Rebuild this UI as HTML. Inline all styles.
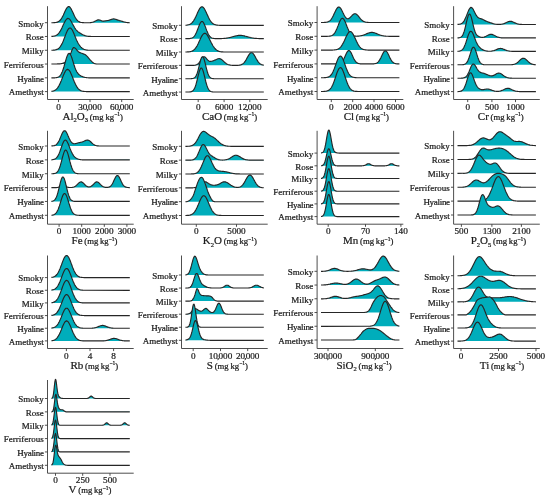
<!DOCTYPE html>
<html><head><meta charset="utf-8"><title>Ridgeline plots</title>
<style>
html,body{margin:0;padding:0;background:#fff;width:550px;height:499px;overflow:hidden}
svg{display:block}

text{font-family:"Liberation Serif","Times New Roman",serif;fill:#1a1a1a;stroke:#1a1a1a;stroke-width:0.22px}
.yl{font-size:9px;text-anchor:end}
.xl{font-size:9.2px;text-anchor:middle}
.tt{text-anchor:middle}
.el{font-size:11px}
.sb{font-size:6.5px}
.un{font-size:8.7px}
.sp{font-size:5.5px}
</style></head><body>
<div id="w"><svg width="550" height="499" viewBox="0 0 550 499">
<rect width="550" height="499" fill="#fff"/>
<g><polygon points="51.42,22.7 51.4,22.7 52.9,22.7 53.4,22.7 53.9,22.6 54.4,22.6 54.9,22.6 55.4,22.5 55.9,22.5 56.4,22.4 56.9,22.3 57.4,22.1 57.9,21.9 58.4,21.6 58.9,21.3 59.4,21.0 59.9,20.5 60.4,20.0 60.9,19.3 61.4,18.6 61.9,17.8 62.4,16.9 62.9,15.9 63.4,14.9 63.9,13.8 64.4,12.7 64.9,11.6 65.4,10.5 65.9,9.5 66.4,8.6 66.9,7.9 67.4,7.3 67.9,6.9 68.4,6.6 68.9,6.6 69.4,6.8 69.9,7.2 70.4,7.8 70.9,8.5 71.4,9.4 71.9,10.4 72.4,11.4 72.9,12.5 73.4,13.6 73.9,14.7 74.4,15.8 74.9,16.8 75.4,17.7 75.9,18.5 76.4,19.2 76.9,19.9 77.4,20.4 77.9,20.9 78.4,21.3 78.9,21.6 79.4,21.9 79.9,22.1 80.4,22.2 80.9,22.4 81.4,22.5 81.9,22.5 82.4,22.6 82.9,22.6 83.4,22.6 83.9,22.7 84.4,22.7 89.4,22.7 89.9,22.7 90.4,22.6 90.9,22.6 91.4,22.5 91.9,22.4 92.4,22.3 92.9,22.2 93.4,22.0 93.9,21.8 94.4,21.6 94.9,21.3 95.4,21.0 95.9,20.8 96.4,20.5 96.9,20.3 97.4,20.1 97.9,19.9 98.4,19.9 98.9,19.9 99.4,20.0 99.9,20.1 100.4,20.3 100.9,20.5 101.4,20.7 101.9,20.9 102.4,21.0 102.9,21.1 103.4,21.1 103.9,21.1 104.4,21.0 104.9,20.9 105.4,20.9 105.9,20.8 106.4,20.7 106.9,20.6 107.4,20.5 107.9,20.5 108.4,20.4 108.9,20.2 109.4,20.1 109.9,19.9 110.4,19.8 110.9,19.6 111.4,19.4 111.9,19.2 112.4,19.1 112.9,19.0 113.4,18.9 113.9,18.9 114.4,19.0 114.9,19.1 115.4,19.2 115.9,19.4 116.4,19.6 116.9,19.8 117.4,19.9 117.9,20.1 118.4,20.3 118.9,20.4 119.4,20.6 119.9,20.7 120.4,20.8 120.9,21.0 121.4,21.1 121.9,21.2 122.4,21.4 122.9,21.6 123.4,21.7 123.9,21.9 124.4,22.0 124.9,22.1 125.4,22.3 125.9,22.4 126.4,22.5 126.9,22.5 127.4,22.6 127.9,22.6 128.4,22.6 128.9,22.7 129.4,22.7 129.8,22.7 129.78,22.7" fill="#00adbb"/><polyline points="51.4,22.7 52.9,22.7 53.4,22.7 53.9,22.6 54.4,22.6 54.9,22.6 55.4,22.5 55.9,22.5 56.4,22.4 56.9,22.3 57.4,22.1 57.9,21.9 58.4,21.6 58.9,21.3 59.4,21.0 59.9,20.5 60.4,20.0 60.9,19.3 61.4,18.6 61.9,17.8 62.4,16.9 62.9,15.9 63.4,14.9 63.9,13.8 64.4,12.7 64.9,11.6 65.4,10.5 65.9,9.5 66.4,8.6 66.9,7.9 67.4,7.3 67.9,6.9 68.4,6.6 68.9,6.6 69.4,6.8 69.9,7.2 70.4,7.8 70.9,8.5 71.4,9.4 71.9,10.4 72.4,11.4 72.9,12.5 73.4,13.6 73.9,14.7 74.4,15.8 74.9,16.8 75.4,17.7 75.9,18.5 76.4,19.2 76.9,19.9 77.4,20.4 77.9,20.9 78.4,21.3 78.9,21.6 79.4,21.9 79.9,22.1 80.4,22.2 80.9,22.4 81.4,22.5 81.9,22.5 82.4,22.6 82.9,22.6 83.4,22.6 83.9,22.7 84.4,22.7 89.4,22.7 89.9,22.7 90.4,22.6 90.9,22.6 91.4,22.5 91.9,22.4 92.4,22.3 92.9,22.2 93.4,22.0 93.9,21.8 94.4,21.6 94.9,21.3 95.4,21.0 95.9,20.8 96.4,20.5 96.9,20.3 97.4,20.1 97.9,19.9 98.4,19.9 98.9,19.9 99.4,20.0 99.9,20.1 100.4,20.3 100.9,20.5 101.4,20.7 101.9,20.9 102.4,21.0 102.9,21.1 103.4,21.1 103.9,21.1 104.4,21.0 104.9,20.9 105.4,20.9 105.9,20.8 106.4,20.7 106.9,20.6 107.4,20.5 107.9,20.5 108.4,20.4 108.9,20.2 109.4,20.1 109.9,19.9 110.4,19.8 110.9,19.6 111.4,19.4 111.9,19.2 112.4,19.1 112.9,19.0 113.4,18.9 113.9,18.9 114.4,19.0 114.9,19.1 115.4,19.2 115.9,19.4 116.4,19.6 116.9,19.8 117.4,19.9 117.9,20.1 118.4,20.3 118.9,20.4 119.4,20.6 119.9,20.7 120.4,20.8 120.9,21.0 121.4,21.1 121.9,21.2 122.4,21.4 122.9,21.6 123.4,21.7 123.9,21.9 124.4,22.0 124.9,22.1 125.4,22.3 125.9,22.4 126.4,22.5 126.9,22.5 127.4,22.6 127.9,22.6 128.4,22.6 128.9,22.7 129.4,22.7 129.8,22.7" fill="none" stroke="#262626" stroke-width="1.15" stroke-linejoin="round"/><polygon points="51.42,36.48 51.4,36.4 51.9,36.4 52.4,36.3 52.9,36.3 53.4,36.2 53.9,36.1 54.4,36.0 54.9,35.9 55.4,35.7 55.9,35.5 56.4,35.2 56.9,34.9 57.4,34.6 57.9,34.1 58.4,33.6 58.9,33.0 59.4,32.4 59.9,31.6 60.4,30.8 60.9,29.9 61.4,28.9 61.9,27.9 62.4,26.8 62.9,25.7 63.4,24.6 63.9,23.6 64.4,22.5 64.9,21.6 65.4,20.7 65.9,20.0 66.4,19.3 66.9,18.9 67.4,18.6 67.9,18.4 68.4,18.5 68.9,18.7 69.4,19.0 69.9,19.6 70.4,20.2 70.9,21.0 71.4,21.8 71.9,22.7 72.4,23.7 72.9,24.6 73.4,25.5 73.9,26.4 74.4,27.3 74.9,28.1 75.4,28.8 75.9,29.5 76.4,30.1 76.9,30.6 77.4,31.1 77.9,31.6 78.4,32.0 78.9,32.3 79.4,32.7 79.9,33.0 80.4,33.3 80.9,33.6 81.4,33.9 81.9,34.2 82.4,34.5 82.9,34.7 83.4,35.0 83.9,35.2 84.4,35.4 84.9,35.6 85.4,35.7 85.9,35.9 86.4,36.0 86.9,36.1 87.4,36.2 87.9,36.3 88.4,36.3 88.9,36.4 89.4,36.4 89.9,36.4 90.4,36.4 90.9,36.5 129.8,36.5 129.78,36.48" fill="#00adbb"/><polyline points="51.4,36.4 51.9,36.4 52.4,36.3 52.9,36.3 53.4,36.2 53.9,36.1 54.4,36.0 54.9,35.9 55.4,35.7 55.9,35.5 56.4,35.2 56.9,34.9 57.4,34.6 57.9,34.1 58.4,33.6 58.9,33.0 59.4,32.4 59.9,31.6 60.4,30.8 60.9,29.9 61.4,28.9 61.9,27.9 62.4,26.8 62.9,25.7 63.4,24.6 63.9,23.6 64.4,22.5 64.9,21.6 65.4,20.7 65.9,20.0 66.4,19.3 66.9,18.9 67.4,18.6 67.9,18.4 68.4,18.5 68.9,18.7 69.4,19.0 69.9,19.6 70.4,20.2 70.9,21.0 71.4,21.8 71.9,22.7 72.4,23.7 72.9,24.6 73.4,25.5 73.9,26.4 74.4,27.3 74.9,28.1 75.4,28.8 75.9,29.5 76.4,30.1 76.9,30.6 77.4,31.1 77.9,31.6 78.4,32.0 78.9,32.3 79.4,32.7 79.9,33.0 80.4,33.3 80.9,33.6 81.4,33.9 81.9,34.2 82.4,34.5 82.9,34.7 83.4,35.0 83.9,35.2 84.4,35.4 84.9,35.6 85.4,35.7 85.9,35.9 86.4,36.0 86.9,36.1 87.4,36.2 87.9,36.3 88.4,36.3 88.9,36.4 89.4,36.4 89.9,36.4 90.4,36.4 90.9,36.5 129.8,36.5" fill="none" stroke="#262626" stroke-width="1.15" stroke-linejoin="round"/><polygon points="51.42,50.26 51.4,50.2 51.9,50.2 52.4,50.2 52.9,50.2 53.4,50.1 53.9,50.1 54.4,50.1 54.9,50.0 55.4,49.9 55.9,49.8 56.4,49.6 56.9,49.4 57.4,49.2 57.9,48.9 58.4,48.6 58.9,48.2 59.4,47.7 59.9,47.1 60.4,46.4 60.9,45.7 61.4,44.8 61.9,43.9 62.4,42.9 62.9,41.8 63.4,40.6 63.9,39.3 64.4,38.0 64.9,36.7 65.4,35.4 65.9,34.1 66.4,32.8 66.9,31.7 67.4,30.6 67.9,29.7 68.4,29.0 68.9,28.5 69.4,28.1 69.9,28.0 70.4,28.0 70.9,28.3 71.4,28.8 71.9,29.5 72.4,30.3 72.9,31.3 73.4,32.4 73.9,33.5 74.4,34.8 74.9,36.0 75.4,37.3 75.9,38.5 76.4,39.7 76.9,40.8 77.4,41.8 77.9,42.8 78.4,43.7 78.9,44.5 79.4,45.2 79.9,45.9 80.4,46.5 80.9,47.1 81.4,47.5 81.9,48.0 82.4,48.4 82.9,48.7 83.4,49.0 83.9,49.3 84.4,49.5 84.9,49.7 85.4,49.8 85.9,49.9 86.4,50.0 86.9,50.1 87.4,50.1 87.9,50.2 88.4,50.2 88.9,50.2 89.4,50.2 129.8,50.3 129.78,50.26" fill="#00adbb"/><polyline points="51.4,50.2 51.9,50.2 52.4,50.2 52.9,50.2 53.4,50.1 53.9,50.1 54.4,50.1 54.9,50.0 55.4,49.9 55.9,49.8 56.4,49.6 56.9,49.4 57.4,49.2 57.9,48.9 58.4,48.6 58.9,48.2 59.4,47.7 59.9,47.1 60.4,46.4 60.9,45.7 61.4,44.8 61.9,43.9 62.4,42.9 62.9,41.8 63.4,40.6 63.9,39.3 64.4,38.0 64.9,36.7 65.4,35.4 65.9,34.1 66.4,32.8 66.9,31.7 67.4,30.6 67.9,29.7 68.4,29.0 68.9,28.5 69.4,28.1 69.9,28.0 70.4,28.0 70.9,28.3 71.4,28.8 71.9,29.5 72.4,30.3 72.9,31.3 73.4,32.4 73.9,33.5 74.4,34.8 74.9,36.0 75.4,37.3 75.9,38.5 76.4,39.7 76.9,40.8 77.4,41.8 77.9,42.8 78.4,43.7 78.9,44.5 79.4,45.2 79.9,45.9 80.4,46.5 80.9,47.1 81.4,47.5 81.9,48.0 82.4,48.4 82.9,48.7 83.4,49.0 83.9,49.3 84.4,49.5 84.9,49.7 85.4,49.8 85.9,49.9 86.4,50.0 86.9,50.1 87.4,50.1 87.9,50.2 88.4,50.2 88.9,50.2 89.4,50.2 129.8,50.3" fill="none" stroke="#262626" stroke-width="1.15" stroke-linejoin="round"/><polygon points="51.42,64.04 51.4,64.0 54.4,64.0 54.9,64.0 55.4,64.0 55.9,64.0 56.4,64.0 56.9,64.0 57.4,63.9 57.9,63.9 58.4,63.9 58.9,63.9 59.4,63.9 59.9,63.8 60.4,63.8 60.9,63.7 61.4,63.6 61.9,63.5 62.4,63.4 62.9,63.3 63.4,63.1 63.9,62.9 64.4,62.7 64.9,62.4 65.4,62.1 65.9,61.7 66.4,61.3 66.9,60.8 67.4,60.2 67.9,59.5 68.4,58.7 68.9,57.8 69.4,56.6 69.9,55.4 70.4,54.2 70.9,53.0 71.4,51.6 71.9,50.3 72.4,49.2 72.9,48.3 73.4,47.6 73.9,47.5 74.4,47.7 74.9,48.0 75.4,48.4 75.9,48.8 76.4,49.5 76.9,50.2 77.4,50.8 77.9,51.2 78.4,51.7 78.9,52.1 79.4,52.4 79.9,52.6 80.4,52.8 80.9,53.0 81.4,53.2 81.9,53.3 82.4,53.5 82.9,53.7 83.4,53.9 83.9,54.1 84.4,54.3 84.9,54.5 85.4,54.8 85.9,55.2 86.4,55.7 86.9,56.2 87.4,56.7 87.9,57.2 88.4,57.8 88.9,58.4 89.4,59.0 89.9,59.6 90.4,60.2 90.9,60.7 91.4,61.2 91.9,61.7 92.4,62.2 92.9,62.6 93.4,62.9 93.9,63.3 94.4,63.5 94.9,63.7 95.4,63.8 95.9,63.9 96.4,64.0 96.9,64.0 129.8,64.0 129.78,64.04" fill="#00adbb"/><polyline points="51.4,64.0 54.4,64.0 54.9,64.0 55.4,64.0 55.9,64.0 56.4,64.0 56.9,64.0 57.4,63.9 57.9,63.9 58.4,63.9 58.9,63.9 59.4,63.9 59.9,63.8 60.4,63.8 60.9,63.7 61.4,63.6 61.9,63.5 62.4,63.4 62.9,63.3 63.4,63.1 63.9,62.9 64.4,62.7 64.9,62.4 65.4,62.1 65.9,61.7 66.4,61.3 66.9,60.8 67.4,60.2 67.9,59.5 68.4,58.7 68.9,57.8 69.4,56.6 69.9,55.4 70.4,54.2 70.9,53.0 71.4,51.6 71.9,50.3 72.4,49.2 72.9,48.3 73.4,47.6 73.9,47.5 74.4,47.7 74.9,48.0 75.4,48.4 75.9,48.8 76.4,49.5 76.9,50.2 77.4,50.8 77.9,51.2 78.4,51.7 78.9,52.1 79.4,52.4 79.9,52.6 80.4,52.8 80.9,53.0 81.4,53.2 81.9,53.3 82.4,53.5 82.9,53.7 83.4,53.9 83.9,54.1 84.4,54.3 84.9,54.5 85.4,54.8 85.9,55.2 86.4,55.7 86.9,56.2 87.4,56.7 87.9,57.2 88.4,57.8 88.9,58.4 89.4,59.0 89.9,59.6 90.4,60.2 90.9,60.7 91.4,61.2 91.9,61.7 92.4,62.2 92.9,62.6 93.4,62.9 93.9,63.3 94.4,63.5 94.9,63.7 95.4,63.8 95.9,63.9 96.4,64.0 96.9,64.0 129.8,64.0" fill="none" stroke="#262626" stroke-width="1.15" stroke-linejoin="round"/><polygon points="51.42,77.82 51.4,77.8 53.9,77.8 54.4,77.8 54.9,77.8 55.4,77.7 55.9,77.7 56.4,77.6 56.9,77.5 57.4,77.4 57.9,77.2 58.4,77.0 58.9,76.7 59.4,76.3 59.9,75.8 60.4,75.2 60.9,74.5 61.4,73.6 61.9,72.6 62.4,71.4 62.9,70.0 63.4,68.5 63.9,66.9 64.4,65.1 64.9,63.4 65.4,61.6 65.9,59.8 66.4,58.2 66.9,56.7 67.4,55.4 67.9,54.4 68.4,53.7 68.9,53.4 69.4,53.4 69.9,53.7 70.4,54.4 70.9,55.4 71.4,56.6 71.9,58.0 72.4,59.6 72.9,61.2 73.4,62.8 73.9,64.5 74.4,66.0 74.9,67.5 75.4,68.8 75.9,70.0 76.4,71.0 76.9,72.0 77.4,72.7 77.9,73.4 78.4,74.0 78.9,74.5 79.4,74.9 79.9,75.3 80.4,75.6 80.9,75.9 81.4,76.2 81.9,76.4 82.4,76.6 82.9,76.8 83.4,77.0 83.9,77.1 84.4,77.2 84.9,77.4 85.4,77.5 85.9,77.5 86.4,77.6 86.9,77.7 87.4,77.7 87.9,77.7 88.4,77.8 88.9,77.8 89.4,77.8 89.9,77.8 129.8,77.8 129.78,77.82" fill="#00adbb"/><polyline points="51.4,77.8 53.9,77.8 54.4,77.8 54.9,77.8 55.4,77.7 55.9,77.7 56.4,77.6 56.9,77.5 57.4,77.4 57.9,77.2 58.4,77.0 58.9,76.7 59.4,76.3 59.9,75.8 60.4,75.2 60.9,74.5 61.4,73.6 61.9,72.6 62.4,71.4 62.9,70.0 63.4,68.5 63.9,66.9 64.4,65.1 64.9,63.4 65.4,61.6 65.9,59.8 66.4,58.2 66.9,56.7 67.4,55.4 67.9,54.4 68.4,53.7 68.9,53.4 69.4,53.4 69.9,53.7 70.4,54.4 70.9,55.4 71.4,56.6 71.9,58.0 72.4,59.6 72.9,61.2 73.4,62.8 73.9,64.5 74.4,66.0 74.9,67.5 75.4,68.8 75.9,70.0 76.4,71.0 76.9,72.0 77.4,72.7 77.9,73.4 78.4,74.0 78.9,74.5 79.4,74.9 79.9,75.3 80.4,75.6 80.9,75.9 81.4,76.2 81.9,76.4 82.4,76.6 82.9,76.8 83.4,77.0 83.9,77.1 84.4,77.2 84.9,77.4 85.4,77.5 85.9,77.5 86.4,77.6 86.9,77.7 87.4,77.7 87.9,77.7 88.4,77.8 88.9,77.8 89.4,77.8 89.9,77.8 129.8,77.8" fill="none" stroke="#262626" stroke-width="1.15" stroke-linejoin="round"/><polygon points="51.42,91.6 51.4,91.4 51.9,91.3 52.4,91.2 52.9,91.1 53.4,91.0 53.9,90.8 54.4,90.6 54.9,90.3 55.4,90.0 55.9,89.6 56.4,89.2 56.9,88.7 57.4,88.1 57.9,87.4 58.4,86.6 58.9,85.8 59.4,84.9 59.9,83.8 60.4,82.7 60.9,81.6 61.4,80.4 61.9,79.1 62.4,77.8 62.9,76.6 63.4,75.3 63.9,74.2 64.4,73.1 64.9,72.1 65.4,71.2 65.9,70.5 66.4,69.9 66.9,69.6 67.4,69.4 67.9,69.4 68.4,69.7 68.9,70.1 69.4,70.7 69.9,71.4 70.4,72.3 70.9,73.4 71.4,74.5 71.9,75.7 72.4,76.9 72.9,78.2 73.4,79.5 73.9,80.7 74.4,81.9 74.9,83.0 75.4,84.1 75.9,85.1 76.4,86.0 76.9,86.9 77.4,87.6 77.9,88.3 78.4,88.8 78.9,89.3 79.4,89.8 79.9,90.1 80.4,90.4 80.9,90.7 81.4,90.9 81.9,91.0 82.4,91.2 82.9,91.3 83.4,91.3 83.9,91.4 84.4,91.5 84.9,91.5 85.4,91.5 85.9,91.5 86.4,91.6 86.9,91.6 129.8,91.6 129.78,91.6" fill="#00adbb"/><polyline points="51.4,91.4 51.9,91.3 52.4,91.2 52.9,91.1 53.4,91.0 53.9,90.8 54.4,90.6 54.9,90.3 55.4,90.0 55.9,89.6 56.4,89.2 56.9,88.7 57.4,88.1 57.9,87.4 58.4,86.6 58.9,85.8 59.4,84.9 59.9,83.8 60.4,82.7 60.9,81.6 61.4,80.4 61.9,79.1 62.4,77.8 62.9,76.6 63.4,75.3 63.9,74.2 64.4,73.1 64.9,72.1 65.4,71.2 65.9,70.5 66.4,69.9 66.9,69.6 67.4,69.4 67.9,69.4 68.4,69.7 68.9,70.1 69.4,70.7 69.9,71.4 70.4,72.3 70.9,73.4 71.4,74.5 71.9,75.7 72.4,76.9 72.9,78.2 73.4,79.5 73.9,80.7 74.4,81.9 74.9,83.0 75.4,84.1 75.9,85.1 76.4,86.0 76.9,86.9 77.4,87.6 77.9,88.3 78.4,88.8 78.9,89.3 79.4,89.8 79.9,90.1 80.4,90.4 80.9,90.7 81.4,90.9 81.9,91.0 82.4,91.2 82.9,91.3 83.4,91.3 83.9,91.4 84.4,91.5 84.9,91.5 85.4,91.5 85.9,91.5 86.4,91.6 86.9,91.6 129.8,91.6" fill="none" stroke="#262626" stroke-width="1.15" stroke-linejoin="round"/><path d="M47.5,6.2V99.5H133.7" fill="none" stroke="#3a3a3a" stroke-width="0.9"/><path d="M44.9,22.7H47.5" stroke="#3a3a3a" stroke-width="0.9"/><text x="43.7" y="26.5" class="yl">Smoky</text><path d="M44.9,36.48H47.5" stroke="#3a3a3a" stroke-width="0.9"/><text x="43.7" y="40.28" class="yl">Rose</text><path d="M44.9,50.26H47.5" stroke="#3a3a3a" stroke-width="0.9"/><text x="43.7" y="54.06" class="yl">Milky</text><path d="M44.9,64.04H47.5" stroke="#3a3a3a" stroke-width="0.9"/><text x="43.7" y="67.84" class="yl">Ferriferous</text><path d="M44.9,77.82H47.5" stroke="#3a3a3a" stroke-width="0.9"/><text x="43.7" y="81.62" class="yl" style="letter-spacing:-0.3px">Hyaline</text><path d="M44.9,91.6H47.5" stroke="#3a3a3a" stroke-width="0.9"/><text x="43.7" y="95.4" class="yl">Amethyst</text><path d="M58.5,99.5V102.1" stroke="#3a3a3a" stroke-width="0.9"/><text x="58.5" y="109.6" class="xl">0</text><path d="M90,99.5V102.1" stroke="#3a3a3a" stroke-width="0.9"/><text x="90" y="109.6" class="xl">30<tspan dx="-0.9">,</tspan><tspan dx="-0.9">000</tspan></text><path d="M121.7,99.5V102.1" stroke="#3a3a3a" stroke-width="0.9"/><text x="121.7" y="109.6" class="xl">60<tspan dx="-0.9">,</tspan><tspan dx="-0.9">000</tspan></text><text x="92.7" y="119.6" class="tt"><tspan class="el">Al</tspan><tspan class="sb" dy="2.6">2</tspan><tspan class="el" dy="-2.6">O</tspan><tspan class="sb" dy="2.6">3</tspan><tspan class="un" dy="-2.6"> (mg kg</tspan><tspan class="sp" dy="-3.6">−1</tspan><tspan class="un" dy="3.6">)</tspan></text></g>
<g><polygon points="185.42,25.3 185.4,25.2 185.9,25.2 186.4,25.2 186.9,25.1 187.4,25.0 187.9,24.9 188.4,24.8 188.9,24.7 189.4,24.5 189.9,24.3 190.4,24.0 190.9,23.7 191.4,23.3 191.9,22.9 192.4,22.3 192.9,21.7 193.4,21.1 193.9,20.3 194.4,19.4 194.9,18.5 195.4,17.5 195.9,16.5 196.4,15.4 196.9,14.3 197.4,13.1 197.9,12.0 198.4,11.0 198.9,10.0 199.4,9.1 199.9,8.3 200.4,7.7 200.9,7.2 201.4,6.9 201.9,6.8 202.4,6.9 202.9,7.1 203.4,7.5 203.9,8.1 204.4,8.8 204.9,9.7 205.4,10.7 205.9,11.7 206.4,12.8 206.9,13.9 207.4,15.0 207.9,16.1 208.4,17.2 208.9,18.2 209.4,19.1 209.9,20.0 210.4,20.8 210.9,21.5 211.4,22.2 211.9,22.7 212.4,23.2 212.9,23.6 213.4,23.9 213.9,24.2 214.4,24.5 214.9,24.6 215.4,24.8 215.9,24.9 216.4,25.0 216.9,25.1 217.4,25.1 217.9,25.2 218.4,25.2 218.9,25.2 219.4,25.3 219.9,25.3 220.4,25.3 263.8,25.3 263.78,25.3" fill="#00adbb"/><polyline points="185.4,25.2 185.9,25.2 186.4,25.2 186.9,25.1 187.4,25.0 187.9,24.9 188.4,24.8 188.9,24.7 189.4,24.5 189.9,24.3 190.4,24.0 190.9,23.7 191.4,23.3 191.9,22.9 192.4,22.3 192.9,21.7 193.4,21.1 193.9,20.3 194.4,19.4 194.9,18.5 195.4,17.5 195.9,16.5 196.4,15.4 196.9,14.3 197.4,13.1 197.9,12.0 198.4,11.0 198.9,10.0 199.4,9.1 199.9,8.3 200.4,7.7 200.9,7.2 201.4,6.9 201.9,6.8 202.4,6.9 202.9,7.1 203.4,7.5 203.9,8.1 204.4,8.8 204.9,9.7 205.4,10.7 205.9,11.7 206.4,12.8 206.9,13.9 207.4,15.0 207.9,16.1 208.4,17.2 208.9,18.2 209.4,19.1 209.9,20.0 210.4,20.8 210.9,21.5 211.4,22.2 211.9,22.7 212.4,23.2 212.9,23.6 213.4,23.9 213.9,24.2 214.4,24.5 214.9,24.6 215.4,24.8 215.9,24.9 216.4,25.0 216.9,25.1 217.4,25.1 217.9,25.2 218.4,25.2 218.9,25.2 219.4,25.3 219.9,25.3 220.4,25.3 263.8,25.3" fill="none" stroke="#262626" stroke-width="1.15" stroke-linejoin="round"/><polygon points="185.42,38.65 185.4,38.6 187.9,38.6 188.4,38.6 188.9,38.6 189.4,38.6 189.9,38.5 190.4,38.4 190.9,38.3 191.4,38.2 191.9,38.0 192.4,37.8 192.9,37.5 193.4,37.1 193.9,36.6 194.4,36.0 194.9,35.3 195.4,34.5 195.9,33.5 196.4,32.5 196.9,31.3 197.4,30.0 197.9,28.7 198.4,27.4 198.9,26.1 199.4,24.8 199.9,23.7 200.4,22.8 200.9,22.1 201.4,21.6 201.9,21.5 202.4,21.5 202.9,21.9 203.4,22.6 203.9,23.4 204.4,24.5 204.9,25.7 205.4,26.9 205.9,28.3 206.4,29.6 206.9,30.9 207.4,32.1 207.9,33.2 208.4,34.2 208.9,35.1 209.4,35.8 209.9,36.5 210.4,37.0 210.9,37.4 211.4,37.7 211.9,38.0 212.4,38.2 212.9,38.3 213.4,38.4 213.9,38.5 214.4,38.5 214.9,38.6 215.4,38.6 215.9,38.6 216.4,38.6 217.9,38.6 218.4,38.6 218.9,38.6 219.4,38.6 219.9,38.6 220.4,38.6 220.9,38.6 221.4,38.6 221.9,38.5 222.4,38.5 222.9,38.5 223.4,38.5 223.9,38.4 224.4,38.4 224.9,38.3 225.4,38.3 225.9,38.2 226.4,38.1 226.9,38.1 227.4,38.0 227.9,37.9 228.4,37.8 228.9,37.7 229.4,37.6 229.9,37.5 230.4,37.4 230.9,37.2 231.4,37.1 231.9,37.0 232.4,36.8 232.9,36.7 233.4,36.5 233.9,36.4 234.4,36.2 234.9,36.1 235.4,36.0 235.9,35.9 236.4,35.8 236.9,35.7 237.4,35.6 237.9,35.5 238.4,35.4 238.9,35.4 239.4,35.4 239.9,35.4 240.4,35.4 240.9,35.4 241.4,35.4 241.9,35.5 242.4,35.5 242.9,35.6 243.4,35.7 243.9,35.8 244.4,35.9 244.9,36.1 245.4,36.2 245.9,36.3 246.4,36.5 246.9,36.6 247.4,36.8 247.9,36.9 248.4,37.0 248.9,37.2 249.4,37.3 249.9,37.4 250.4,37.6 250.9,37.7 251.4,37.8 251.9,37.9 252.4,38.0 252.9,38.0 253.4,38.1 253.9,38.2 254.4,38.3 254.9,38.3 255.4,38.4 255.9,38.4 256.4,38.4 256.9,38.5 257.4,38.5 257.9,38.5 258.4,38.5 258.9,38.6 259.4,38.6 259.9,38.6 260.4,38.6 260.9,38.6 261.4,38.6 261.9,38.6 263.8,38.6 263.78,38.65" fill="#00adbb"/><polyline points="185.4,38.6 187.9,38.6 188.4,38.6 188.9,38.6 189.4,38.6 189.9,38.5 190.4,38.4 190.9,38.3 191.4,38.2 191.9,38.0 192.4,37.8 192.9,37.5 193.4,37.1 193.9,36.6 194.4,36.0 194.9,35.3 195.4,34.5 195.9,33.5 196.4,32.5 196.9,31.3 197.4,30.0 197.9,28.7 198.4,27.4 198.9,26.1 199.4,24.8 199.9,23.7 200.4,22.8 200.9,22.1 201.4,21.6 201.9,21.5 202.4,21.5 202.9,21.9 203.4,22.6 203.9,23.4 204.4,24.5 204.9,25.7 205.4,26.9 205.9,28.3 206.4,29.6 206.9,30.9 207.4,32.1 207.9,33.2 208.4,34.2 208.9,35.1 209.4,35.8 209.9,36.5 210.4,37.0 210.9,37.4 211.4,37.7 211.9,38.0 212.4,38.2 212.9,38.3 213.4,38.4 213.9,38.5 214.4,38.5 214.9,38.6 215.4,38.6 215.9,38.6 216.4,38.6 217.9,38.6 218.4,38.6 218.9,38.6 219.4,38.6 219.9,38.6 220.4,38.6 220.9,38.6 221.4,38.6 221.9,38.5 222.4,38.5 222.9,38.5 223.4,38.5 223.9,38.4 224.4,38.4 224.9,38.3 225.4,38.3 225.9,38.2 226.4,38.1 226.9,38.1 227.4,38.0 227.9,37.9 228.4,37.8 228.9,37.7 229.4,37.6 229.9,37.5 230.4,37.4 230.9,37.2 231.4,37.1 231.9,37.0 232.4,36.8 232.9,36.7 233.4,36.5 233.9,36.4 234.4,36.2 234.9,36.1 235.4,36.0 235.9,35.9 236.4,35.8 236.9,35.7 237.4,35.6 237.9,35.5 238.4,35.4 238.9,35.4 239.4,35.4 239.9,35.4 240.4,35.4 240.9,35.4 241.4,35.4 241.9,35.5 242.4,35.5 242.9,35.6 243.4,35.7 243.9,35.8 244.4,35.9 244.9,36.1 245.4,36.2 245.9,36.3 246.4,36.5 246.9,36.6 247.4,36.8 247.9,36.9 248.4,37.0 248.9,37.2 249.4,37.3 249.9,37.4 250.4,37.6 250.9,37.7 251.4,37.8 251.9,37.9 252.4,38.0 252.9,38.0 253.4,38.1 253.9,38.2 254.4,38.3 254.9,38.3 255.4,38.4 255.9,38.4 256.4,38.4 256.9,38.5 257.4,38.5 257.9,38.5 258.4,38.5 258.9,38.6 259.4,38.6 259.9,38.6 260.4,38.6 260.9,38.6 261.4,38.6 261.9,38.6 263.8,38.6" fill="none" stroke="#262626" stroke-width="1.15" stroke-linejoin="round"/><polygon points="185.42,52 185.4,52.0 185.9,52.0 186.4,52.0 186.9,52.0 187.4,51.9 187.9,51.9 188.4,51.9 188.9,51.8 189.4,51.8 189.9,51.7 190.4,51.6 190.9,51.5 191.4,51.3 191.9,51.2 192.4,50.9 192.9,50.7 193.4,50.3 193.9,49.9 194.4,49.5 194.9,49.0 195.4,48.4 195.9,47.7 196.4,46.9 196.9,46.1 197.4,45.2 197.9,44.2 198.4,43.2 198.9,42.1 199.4,41.0 199.9,39.9 200.4,38.8 200.9,37.8 201.4,36.8 201.9,35.9 202.4,35.1 202.9,34.5 203.4,33.9 203.9,33.6 204.4,33.4 204.9,33.3 205.4,33.4 205.9,33.7 206.4,34.2 206.9,34.7 207.4,35.4 207.9,36.2 208.4,37.1 208.9,38.0 209.4,39.0 209.9,40.0 210.4,41.0 210.9,42.0 211.4,43.0 211.9,43.9 212.4,44.8 212.9,45.7 213.4,46.5 213.9,47.2 214.4,47.9 214.9,48.5 215.4,49.0 215.9,49.5 216.4,49.9 216.9,50.3 217.4,50.6 217.9,50.9 218.4,51.1 218.9,51.3 219.4,51.5 219.9,51.6 220.4,51.7 220.9,51.8 221.4,51.8 221.9,51.9 222.4,51.9 222.9,51.9 223.4,52.0 223.9,52.0 224.4,52.0 263.8,52.0 263.78,52" fill="#00adbb"/><polyline points="185.4,52.0 185.9,52.0 186.4,52.0 186.9,52.0 187.4,51.9 187.9,51.9 188.4,51.9 188.9,51.8 189.4,51.8 189.9,51.7 190.4,51.6 190.9,51.5 191.4,51.3 191.9,51.2 192.4,50.9 192.9,50.7 193.4,50.3 193.9,49.9 194.4,49.5 194.9,49.0 195.4,48.4 195.9,47.7 196.4,46.9 196.9,46.1 197.4,45.2 197.9,44.2 198.4,43.2 198.9,42.1 199.4,41.0 199.9,39.9 200.4,38.8 200.9,37.8 201.4,36.8 201.9,35.9 202.4,35.1 202.9,34.5 203.4,33.9 203.9,33.6 204.4,33.4 204.9,33.3 205.4,33.4 205.9,33.7 206.4,34.2 206.9,34.7 207.4,35.4 207.9,36.2 208.4,37.1 208.9,38.0 209.4,39.0 209.9,40.0 210.4,41.0 210.9,42.0 211.4,43.0 211.9,43.9 212.4,44.8 212.9,45.7 213.4,46.5 213.9,47.2 214.4,47.9 214.9,48.5 215.4,49.0 215.9,49.5 216.4,49.9 216.9,50.3 217.4,50.6 217.9,50.9 218.4,51.1 218.9,51.3 219.4,51.5 219.9,51.6 220.4,51.7 220.9,51.8 221.4,51.8 221.9,51.9 222.4,51.9 222.9,51.9 223.4,52.0 223.9,52.0 224.4,52.0 263.8,52.0" fill="none" stroke="#262626" stroke-width="1.15" stroke-linejoin="round"/><polygon points="185.42,65.35 185.4,65.3 192.9,65.3 193.4,65.3 193.9,65.3 194.4,65.3 194.9,65.2 195.4,65.1 195.9,65.0 196.4,64.8 196.9,64.6 197.4,64.3 197.9,64.0 198.4,63.5 198.9,62.9 199.4,62.3 199.9,61.6 200.4,60.8 200.9,60.0 201.4,59.2 201.9,58.5 202.4,57.8 202.9,57.3 203.4,56.9 203.9,56.8 204.4,56.8 204.9,57.0 205.4,57.4 205.9,57.9 206.4,58.5 206.9,59.1 207.4,59.7 207.9,60.2 208.4,60.6 208.9,61.0 209.4,61.2 209.9,61.4 210.4,61.4 210.9,61.4 211.4,61.3 211.9,61.2 212.4,61.0 212.9,60.9 213.4,60.7 213.9,60.5 214.4,60.3 214.9,60.1 215.4,59.9 215.9,59.7 216.4,59.5 216.9,59.2 217.4,59.0 217.9,58.8 218.4,58.7 218.9,58.6 219.4,58.6 219.9,58.7 220.4,58.9 220.9,59.1 221.4,59.4 221.9,59.7 222.4,60.2 222.9,60.6 223.4,61.1 223.9,61.6 224.4,62.0 224.9,62.5 225.4,62.9 225.9,63.3 226.4,63.7 226.9,64.0 227.4,64.2 227.9,64.5 228.4,64.7 228.9,64.8 229.4,64.9 229.9,65.0 230.4,65.1 230.9,65.2 231.4,65.2 231.9,65.3 232.4,65.3 232.9,65.3 233.4,65.3 236.4,65.3 236.9,65.3 237.4,65.3 237.9,65.3 238.4,65.3 238.9,65.2 239.4,65.1 239.9,65.1 240.4,65.0 240.9,64.8 241.4,64.6 241.9,64.4 242.4,64.1 242.9,63.8 243.4,63.4 243.9,62.9 244.4,62.3 244.9,61.6 245.4,60.9 245.9,60.1 246.4,59.2 246.9,58.3 247.4,57.4 247.9,56.5 248.4,55.6 248.9,54.8 249.4,54.1 249.9,53.5 250.4,53.1 250.9,52.8 251.4,52.7 251.9,52.7 252.4,53.0 252.9,53.4 253.4,53.9 253.9,54.6 254.4,55.4 254.9,56.2 255.4,57.1 255.9,58.1 256.4,59.0 256.9,59.8 257.4,60.6 257.9,61.4 258.4,62.1 258.9,62.7 259.4,63.2 259.9,63.6 260.4,64.0 260.9,64.3 261.4,64.6 261.9,64.8 262.4,64.9 262.9,65.0 263.4,65.1 263.8,65.2 263.78,65.35" fill="#00adbb"/><polyline points="185.4,65.3 192.9,65.3 193.4,65.3 193.9,65.3 194.4,65.3 194.9,65.2 195.4,65.1 195.9,65.0 196.4,64.8 196.9,64.6 197.4,64.3 197.9,64.0 198.4,63.5 198.9,62.9 199.4,62.3 199.9,61.6 200.4,60.8 200.9,60.0 201.4,59.2 201.9,58.5 202.4,57.8 202.9,57.3 203.4,56.9 203.9,56.8 204.4,56.8 204.9,57.0 205.4,57.4 205.9,57.9 206.4,58.5 206.9,59.1 207.4,59.7 207.9,60.2 208.4,60.6 208.9,61.0 209.4,61.2 209.9,61.4 210.4,61.4 210.9,61.4 211.4,61.3 211.9,61.2 212.4,61.0 212.9,60.9 213.4,60.7 213.9,60.5 214.4,60.3 214.9,60.1 215.4,59.9 215.9,59.7 216.4,59.5 216.9,59.2 217.4,59.0 217.9,58.8 218.4,58.7 218.9,58.6 219.4,58.6 219.9,58.7 220.4,58.9 220.9,59.1 221.4,59.4 221.9,59.7 222.4,60.2 222.9,60.6 223.4,61.1 223.9,61.6 224.4,62.0 224.9,62.5 225.4,62.9 225.9,63.3 226.4,63.7 226.9,64.0 227.4,64.2 227.9,64.5 228.4,64.7 228.9,64.8 229.4,64.9 229.9,65.0 230.4,65.1 230.9,65.2 231.4,65.2 231.9,65.3 232.4,65.3 232.9,65.3 233.4,65.3 236.4,65.3 236.9,65.3 237.4,65.3 237.9,65.3 238.4,65.3 238.9,65.2 239.4,65.1 239.9,65.1 240.4,65.0 240.9,64.8 241.4,64.6 241.9,64.4 242.4,64.1 242.9,63.8 243.4,63.4 243.9,62.9 244.4,62.3 244.9,61.6 245.4,60.9 245.9,60.1 246.4,59.2 246.9,58.3 247.4,57.4 247.9,56.5 248.4,55.6 248.9,54.8 249.4,54.1 249.9,53.5 250.4,53.1 250.9,52.8 251.4,52.7 251.9,52.7 252.4,53.0 252.9,53.4 253.4,53.9 253.9,54.6 254.4,55.4 254.9,56.2 255.4,57.1 255.9,58.1 256.4,59.0 256.9,59.8 257.4,60.6 257.9,61.4 258.4,62.1 258.9,62.7 259.4,63.2 259.9,63.6 260.4,64.0 260.9,64.3 261.4,64.6 261.9,64.8 262.4,64.9 262.9,65.0 263.4,65.1 263.8,65.2" fill="none" stroke="#262626" stroke-width="1.15" stroke-linejoin="round"/><polygon points="185.42,78.7 185.4,78.7 190.4,78.7 190.9,78.7 191.4,78.6 191.9,78.6 192.4,78.5 192.9,78.5 193.4,78.3 193.9,78.1 194.4,77.8 194.9,77.4 195.4,76.8 195.9,76.0 196.4,75.1 196.9,73.9 197.4,72.5 197.9,70.8 198.4,68.9 198.9,66.9 199.4,64.9 199.9,62.8 200.4,60.9 200.9,59.2 201.4,57.9 201.9,57.1 202.4,56.7 202.9,56.9 203.4,57.6 203.9,58.8 204.4,60.3 204.9,62.2 205.4,64.2 205.9,66.3 206.4,68.3 206.9,70.2 207.4,72.0 207.9,73.5 208.4,74.7 208.9,75.8 209.4,76.6 209.9,77.2 210.4,77.7 210.9,78.0 211.4,78.2 211.9,78.4 212.4,78.5 212.9,78.6 213.4,78.6 213.9,78.7 214.4,78.7 263.8,78.7 263.78,78.7" fill="#00adbb"/><polyline points="185.4,78.7 190.4,78.7 190.9,78.7 191.4,78.6 191.9,78.6 192.4,78.5 192.9,78.5 193.4,78.3 193.9,78.1 194.4,77.8 194.9,77.4 195.4,76.8 195.9,76.0 196.4,75.1 196.9,73.9 197.4,72.5 197.9,70.8 198.4,68.9 198.9,66.9 199.4,64.9 199.9,62.8 200.4,60.9 200.9,59.2 201.4,57.9 201.9,57.1 202.4,56.7 202.9,56.9 203.4,57.6 203.9,58.8 204.4,60.3 204.9,62.2 205.4,64.2 205.9,66.3 206.4,68.3 206.9,70.2 207.4,72.0 207.9,73.5 208.4,74.7 208.9,75.8 209.4,76.6 209.9,77.2 210.4,77.7 210.9,78.0 211.4,78.2 211.9,78.4 212.4,78.5 212.9,78.6 213.4,78.6 213.9,78.7 214.4,78.7 263.8,78.7" fill="none" stroke="#262626" stroke-width="1.15" stroke-linejoin="round"/><polygon points="185.42,92.05 185.4,92.0 188.4,92.0 188.9,92.0 189.4,92.0 189.9,91.9 190.4,91.9 190.9,91.8 191.4,91.6 191.9,91.4 192.4,91.1 192.9,90.7 193.4,90.1 193.9,89.4 194.4,88.6 194.9,87.5 195.4,86.2 195.9,84.7 196.4,82.9 196.9,81.0 197.4,79.0 197.9,76.9 198.4,74.9 198.9,72.9 199.4,71.2 199.9,69.8 200.4,68.7 200.9,68.1 201.4,68.0 201.9,68.3 202.4,69.2 202.9,70.4 203.4,72.0 203.9,73.8 204.4,75.9 204.9,77.9 205.4,80.0 205.9,82.0 206.4,83.8 206.9,85.4 207.4,86.8 207.9,88.0 208.4,89.0 208.9,89.8 209.4,90.4 209.9,90.9 210.4,91.2 210.9,91.5 211.4,91.7 211.9,91.8 212.4,91.9 212.9,92.0 213.4,92.0 213.9,92.0 214.4,92.0 263.8,92.0 263.78,92.05" fill="#00adbb"/><polyline points="185.4,92.0 188.4,92.0 188.9,92.0 189.4,92.0 189.9,91.9 190.4,91.9 190.9,91.8 191.4,91.6 191.9,91.4 192.4,91.1 192.9,90.7 193.4,90.1 193.9,89.4 194.4,88.6 194.9,87.5 195.4,86.2 195.9,84.7 196.4,82.9 196.9,81.0 197.4,79.0 197.9,76.9 198.4,74.9 198.9,72.9 199.4,71.2 199.9,69.8 200.4,68.7 200.9,68.1 201.4,68.0 201.9,68.3 202.4,69.2 202.9,70.4 203.4,72.0 203.9,73.8 204.4,75.9 204.9,77.9 205.4,80.0 205.9,82.0 206.4,83.8 206.9,85.4 207.4,86.8 207.9,88.0 208.4,89.0 208.9,89.8 209.4,90.4 209.9,90.9 210.4,91.2 210.9,91.5 211.4,91.7 211.9,91.8 212.4,91.9 212.9,92.0 213.4,92.0 213.9,92.0 214.4,92.0 263.8,92.0" fill="none" stroke="#262626" stroke-width="1.15" stroke-linejoin="round"/><path d="M181.5,6.2V99.5H267.7" fill="none" stroke="#3a3a3a" stroke-width="0.9"/><path d="M178.9,25.3H181.5" stroke="#3a3a3a" stroke-width="0.9"/><text x="177.7" y="29.1" class="yl">Smoky</text><path d="M178.9,38.65H181.5" stroke="#3a3a3a" stroke-width="0.9"/><text x="177.7" y="42.45" class="yl">Rose</text><path d="M178.9,52H181.5" stroke="#3a3a3a" stroke-width="0.9"/><text x="177.7" y="55.8" class="yl">Milky</text><path d="M178.9,65.35H181.5" stroke="#3a3a3a" stroke-width="0.9"/><text x="177.7" y="69.15" class="yl">Ferriferous</text><path d="M178.9,78.7H181.5" stroke="#3a3a3a" stroke-width="0.9"/><text x="177.7" y="82.5" class="yl" style="letter-spacing:-0.3px">Hyaline</text><path d="M178.9,92.05H181.5" stroke="#3a3a3a" stroke-width="0.9"/><text x="177.7" y="95.85" class="yl">Amethyst</text><path d="M198.2,99.5V102.1" stroke="#3a3a3a" stroke-width="0.9"/><text x="198.2" y="109.6" class="xl">0</text><path d="M224.1,99.5V102.1" stroke="#3a3a3a" stroke-width="0.9"/><text x="224.1" y="109.6" class="xl">6000</text><path d="M249.8,99.5V102.1" stroke="#3a3a3a" stroke-width="0.9"/><text x="249.8" y="109.6" class="xl">12<tspan dx="-0.9">,</tspan><tspan dx="-0.9">000</tspan></text><text x="229.5" y="119.6" class="tt"><tspan class="el">CaO</tspan><tspan class="un"> (mg kg</tspan><tspan class="sp" dy="-3.6">−1</tspan><tspan class="un" dy="3.6">)</tspan></text></g>
<g><polygon points="321.02,22.5 321,22.5 323.5,22.5 324,22.5 324.5,22.4 325,22.4 325.5,22.4 326,22.3 326.5,22.2 327,22.1 327.5,22.0 328,21.8 328.5,21.6 329,21.3 329.5,21.0 330,20.6 330.5,20.1 331,19.5 331.5,18.8 332,18.0 332.5,17.2 333,16.2 333.5,15.2 334,14.1 334.5,13.1 335,12.0 335.5,10.9 336,9.9 336.5,9.0 337,8.3 337.5,7.7 338,7.3 338.5,7.0 339,7.0 339.5,7.2 340,7.6 340.5,8.2 341,8.9 341.5,9.8 342,10.7 342.5,11.7 343,12.8 343.5,13.8 344,14.8 344.5,15.7 345,16.5 345.5,17.2 346,17.8 346.5,18.3 347,18.6 347.5,18.7 348,18.7 348.5,18.6 349,18.4 349.5,18.1 350,17.6 350.5,17.1 351,16.6 351.5,16.1 352,15.5 352.5,15.0 353,14.6 353.5,14.2 354,13.9 354.5,13.7 355,13.7 355.5,13.8 356,14.0 356.5,14.3 357,14.7 357.5,15.1 358,15.7 358.5,16.3 359,16.9 359.5,17.6 360,18.2 360.5,18.8 361,19.3 361.5,19.9 362,20.3 362.5,20.7 363,21.1 363.5,21.4 364,21.6 364.5,21.8 365,22.0 365.5,22.1 366,22.2 366.5,22.3 367,22.4 367.5,22.4 368,22.4 368.5,22.5 369,22.5 369.5,22.5 399.4,22.5 399.38,22.5" fill="#00adbb"/><polyline points="321,22.5 323.5,22.5 324,22.5 324.5,22.4 325,22.4 325.5,22.4 326,22.3 326.5,22.2 327,22.1 327.5,22.0 328,21.8 328.5,21.6 329,21.3 329.5,21.0 330,20.6 330.5,20.1 331,19.5 331.5,18.8 332,18.0 332.5,17.2 333,16.2 333.5,15.2 334,14.1 334.5,13.1 335,12.0 335.5,10.9 336,9.9 336.5,9.0 337,8.3 337.5,7.7 338,7.3 338.5,7.0 339,7.0 339.5,7.2 340,7.6 340.5,8.2 341,8.9 341.5,9.8 342,10.7 342.5,11.7 343,12.8 343.5,13.8 344,14.8 344.5,15.7 345,16.5 345.5,17.2 346,17.8 346.5,18.3 347,18.6 347.5,18.7 348,18.7 348.5,18.6 349,18.4 349.5,18.1 350,17.6 350.5,17.1 351,16.6 351.5,16.1 352,15.5 352.5,15.0 353,14.6 353.5,14.2 354,13.9 354.5,13.7 355,13.7 355.5,13.8 356,14.0 356.5,14.3 357,14.7 357.5,15.1 358,15.7 358.5,16.3 359,16.9 359.5,17.6 360,18.2 360.5,18.8 361,19.3 361.5,19.9 362,20.3 362.5,20.7 363,21.1 363.5,21.4 364,21.6 364.5,21.8 365,22.0 365.5,22.1 366,22.2 366.5,22.3 367,22.4 367.5,22.4 368,22.4 368.5,22.5 369,22.5 369.5,22.5 399.4,22.5" fill="none" stroke="#262626" stroke-width="1.15" stroke-linejoin="round"/><polygon points="321.02,36.3 321,36.3 327,36.3 327.5,36.3 328,36.2 328.5,36.2 329,36.2 329.5,36.1 330,36.1 330.5,36.0 331,35.8 331.5,35.7 332,35.5 332.5,35.2 333,34.8 333.5,34.4 334,33.8 334.5,33.2 335,32.5 335.5,31.6 336,30.6 336.5,29.5 337,28.4 337.5,27.1 338,25.9 338.5,24.6 339,23.3 339.5,22.1 340,21.0 340.5,20.0 341,19.2 341.5,18.7 342,18.4 342.5,18.3 343,18.5 343.5,18.9 344,19.6 344.5,20.5 345,21.5 345.5,22.6 346,23.9 346.5,25.2 347,26.5 347.5,27.7 348,28.9 348.5,30.1 349,31.1 349.5,32.0 350,32.8 350.5,33.5 351,34.1 351.5,34.6 352,35.0 352.5,35.3 353,35.6 353.5,35.7 354,35.9 354.5,36.0 355,36.1 355.5,36.1 356,36.1 356.5,36.2 357,36.2 357.5,36.1 358,36.1 358.5,36.1 359,36.0 359.5,36.0 360,35.9 360.5,35.8 361,35.7 361.5,35.6 362,35.5 362.5,35.4 363,35.2 363.5,35.0 364,34.9 364.5,34.7 365,34.5 365.5,34.3 366,34.1 366.5,33.8 367,33.6 367.5,33.4 368,33.2 368.5,33.0 369,32.9 369.5,32.7 370,32.6 370.5,32.5 371,32.4 371.5,32.4 372,32.4 372.5,32.4 373,32.5 373.5,32.6 374,32.7 374.5,32.8 375,33.0 375.5,33.2 376,33.4 376.5,33.6 377,33.8 377.5,34.0 378,34.2 378.5,34.5 379,34.7 379.5,34.8 380,35.0 380.5,35.2 381,35.3 381.5,35.5 382,35.6 382.5,35.7 383,35.8 383.5,35.9 384,36.0 384.5,36.0 385,36.1 385.5,36.1 386,36.2 386.5,36.2 387,36.2 387.5,36.2 388,36.2 388.5,36.3 389,36.3 399.4,36.3 399.38,36.3" fill="#00adbb"/><polyline points="321,36.3 327,36.3 327.5,36.3 328,36.2 328.5,36.2 329,36.2 329.5,36.1 330,36.1 330.5,36.0 331,35.8 331.5,35.7 332,35.5 332.5,35.2 333,34.8 333.5,34.4 334,33.8 334.5,33.2 335,32.5 335.5,31.6 336,30.6 336.5,29.5 337,28.4 337.5,27.1 338,25.9 338.5,24.6 339,23.3 339.5,22.1 340,21.0 340.5,20.0 341,19.2 341.5,18.7 342,18.4 342.5,18.3 343,18.5 343.5,18.9 344,19.6 344.5,20.5 345,21.5 345.5,22.6 346,23.9 346.5,25.2 347,26.5 347.5,27.7 348,28.9 348.5,30.1 349,31.1 349.5,32.0 350,32.8 350.5,33.5 351,34.1 351.5,34.6 352,35.0 352.5,35.3 353,35.6 353.5,35.7 354,35.9 354.5,36.0 355,36.1 355.5,36.1 356,36.1 356.5,36.2 357,36.2 357.5,36.1 358,36.1 358.5,36.1 359,36.0 359.5,36.0 360,35.9 360.5,35.8 361,35.7 361.5,35.6 362,35.5 362.5,35.4 363,35.2 363.5,35.0 364,34.9 364.5,34.7 365,34.5 365.5,34.3 366,34.1 366.5,33.8 367,33.6 367.5,33.4 368,33.2 368.5,33.0 369,32.9 369.5,32.7 370,32.6 370.5,32.5 371,32.4 371.5,32.4 372,32.4 372.5,32.4 373,32.5 373.5,32.6 374,32.7 374.5,32.8 375,33.0 375.5,33.2 376,33.4 376.5,33.6 377,33.8 377.5,34.0 378,34.2 378.5,34.5 379,34.7 379.5,34.8 380,35.0 380.5,35.2 381,35.3 381.5,35.5 382,35.6 382.5,35.7 383,35.8 383.5,35.9 384,36.0 384.5,36.0 385,36.1 385.5,36.1 386,36.2 386.5,36.2 387,36.2 387.5,36.2 388,36.2 388.5,36.3 389,36.3 399.4,36.3" fill="none" stroke="#262626" stroke-width="1.15" stroke-linejoin="round"/><polygon points="321.02,50.1 321,50.1 331.5,50.1 332,50.1 332.5,50.1 333,50.0 333.5,50.0 334,50.0 334.5,49.9 335,49.9 335.5,49.8 336,49.7 336.5,49.6 337,49.5 337.5,49.3 338,49.1 338.5,48.8 339,48.5 339.5,48.1 340,47.7 340.5,47.2 341,46.6 341.5,45.9 342,45.1 342.5,44.3 343,43.4 343.5,42.5 344,41.4 344.5,40.4 345,39.3 345.5,38.2 346,37.1 346.5,36.0 347,35.1 347.5,34.2 348,33.4 348.5,32.7 349,32.2 349.5,31.8 350,31.6 350.5,31.6 351,31.8 351.5,32.1 352,32.6 352.5,33.3 353,34.1 353.5,34.9 354,35.9 354.5,37.0 355,38.0 355.5,39.1 356,40.2 356.5,41.3 357,42.3 357.5,43.3 358,44.2 358.5,45.1 359,45.8 359.5,46.5 360,47.1 360.5,47.6 361,48.1 361.5,48.5 362,48.8 362.5,49.1 363,49.3 363.5,49.5 364,49.6 364.5,49.7 365,49.8 365.5,49.9 366,49.9 366.5,50.0 367,50.0 367.5,50.0 368,50.1 368.5,50.1 369,50.1 399.4,50.1 399.38,50.1" fill="#00adbb"/><polyline points="321,50.1 331.5,50.1 332,50.1 332.5,50.1 333,50.0 333.5,50.0 334,50.0 334.5,49.9 335,49.9 335.5,49.8 336,49.7 336.5,49.6 337,49.5 337.5,49.3 338,49.1 338.5,48.8 339,48.5 339.5,48.1 340,47.7 340.5,47.2 341,46.6 341.5,45.9 342,45.1 342.5,44.3 343,43.4 343.5,42.5 344,41.4 344.5,40.4 345,39.3 345.5,38.2 346,37.1 346.5,36.0 347,35.1 347.5,34.2 348,33.4 348.5,32.7 349,32.2 349.5,31.8 350,31.6 350.5,31.6 351,31.8 351.5,32.1 352,32.6 352.5,33.3 353,34.1 353.5,34.9 354,35.9 354.5,37.0 355,38.0 355.5,39.1 356,40.2 356.5,41.3 357,42.3 357.5,43.3 358,44.2 358.5,45.1 359,45.8 359.5,46.5 360,47.1 360.5,47.6 361,48.1 361.5,48.5 362,48.8 362.5,49.1 363,49.3 363.5,49.5 364,49.6 364.5,49.7 365,49.8 365.5,49.9 366,49.9 366.5,50.0 367,50.0 367.5,50.0 368,50.1 368.5,50.1 369,50.1 399.4,50.1" fill="none" stroke="#262626" stroke-width="1.15" stroke-linejoin="round"/><polygon points="321.02,63.9 321,63.9 336,63.9 336.5,63.9 337,63.8 337.5,63.8 338,63.8 338.5,63.7 339,63.6 339.5,63.5 340,63.3 340.5,63.0 341,62.7 341.5,62.3 342,61.7 342.5,61.1 343,60.4 343.5,59.5 344,58.6 344.5,57.5 345,56.4 345.5,55.3 346,54.2 346.5,53.1 347,52.2 347.5,51.4 348,50.9 348.5,50.6 349,50.5 349.5,50.7 350,51.1 350.5,51.8 351,52.6 351.5,53.6 352,54.7 352.5,55.8 353,56.9 353.5,58.0 354,59.0 354.5,59.9 355,60.7 355.5,61.4 356,62.0 356.5,62.5 357,62.8 357.5,63.1 358,63.4 358.5,63.5 359,63.6 359.5,63.7 360,63.8 360.5,63.8 361,63.9 361.5,63.9 372,63.9 372.5,63.9 373,63.9 373.5,63.8 374,63.8 374.5,63.7 375,63.6 375.5,63.5 376,63.4 376.5,63.2 377,62.9 377.5,62.5 378,62.1 378.5,61.6 379,60.9 379.5,60.2 380,59.3 380.5,58.4 381,57.4 381.5,56.3 382,55.3 382.5,54.2 383,53.2 383.5,52.4 384,51.7 384.5,51.2 385,50.9 385.5,50.8 386,51.0 386.5,51.4 387,52.0 387.5,52.8 388,53.7 388.5,54.7 389,55.8 389.5,56.9 390,57.9 390.5,58.9 391,59.8 391.5,60.6 392,61.3 392.5,61.8 393,62.3 393.5,62.7 394,63.0 394.5,63.3 395,63.5 395.5,63.6 396,63.7 396.5,63.8 397,63.8 397.5,63.8 398,63.9 398.5,63.9 399.4,63.9 399.38,63.9" fill="#00adbb"/><polyline points="321,63.9 336,63.9 336.5,63.9 337,63.8 337.5,63.8 338,63.8 338.5,63.7 339,63.6 339.5,63.5 340,63.3 340.5,63.0 341,62.7 341.5,62.3 342,61.7 342.5,61.1 343,60.4 343.5,59.5 344,58.6 344.5,57.5 345,56.4 345.5,55.3 346,54.2 346.5,53.1 347,52.2 347.5,51.4 348,50.9 348.5,50.6 349,50.5 349.5,50.7 350,51.1 350.5,51.8 351,52.6 351.5,53.6 352,54.7 352.5,55.8 353,56.9 353.5,58.0 354,59.0 354.5,59.9 355,60.7 355.5,61.4 356,62.0 356.5,62.5 357,62.8 357.5,63.1 358,63.4 358.5,63.5 359,63.6 359.5,63.7 360,63.8 360.5,63.8 361,63.9 361.5,63.9 372,63.9 372.5,63.9 373,63.9 373.5,63.8 374,63.8 374.5,63.7 375,63.6 375.5,63.5 376,63.4 376.5,63.2 377,62.9 377.5,62.5 378,62.1 378.5,61.6 379,60.9 379.5,60.2 380,59.3 380.5,58.4 381,57.4 381.5,56.3 382,55.3 382.5,54.2 383,53.2 383.5,52.4 384,51.7 384.5,51.2 385,50.9 385.5,50.8 386,51.0 386.5,51.4 387,52.0 387.5,52.8 388,53.7 388.5,54.7 389,55.8 389.5,56.9 390,57.9 390.5,58.9 391,59.8 391.5,60.6 392,61.3 392.5,61.8 393,62.3 393.5,62.7 394,63.0 394.5,63.3 395,63.5 395.5,63.6 396,63.7 396.5,63.8 397,63.8 397.5,63.8 398,63.9 398.5,63.9 399.4,63.9" fill="none" stroke="#262626" stroke-width="1.15" stroke-linejoin="round"/><polygon points="321.02,77.7 321,77.7 323.5,77.7 324,77.7 324.5,77.6 325,77.6 325.5,77.6 326,77.5 326.5,77.5 327,77.4 327.5,77.3 328,77.1 328.5,76.9 329,76.7 329.5,76.4 330,76.0 330.5,75.5 331,75.0 331.5,74.3 332,73.6 332.5,72.7 333,71.7 333.5,70.6 334,69.4 334.5,68.2 335,66.8 335.5,65.4 336,64.0 336.5,62.6 337,61.2 337.5,59.9 338,58.8 338.5,57.8 339,57.1 339.5,56.5 340,56.2 340.5,56.1 341,56.3 341.5,56.7 342,57.4 342.5,58.3 343,59.3 343.5,60.5 344,61.9 344.5,63.2 345,64.7 345.5,66.1 346,67.5 346.5,68.8 347,70.0 347.5,71.2 348,72.2 348.5,73.2 349,74.0 349.5,74.7 350,75.3 350.5,75.8 351,76.2 351.5,76.5 352,76.8 352.5,77.0 353,77.2 353.5,77.3 354,77.4 354.5,77.5 355,77.6 355.5,77.6 356,77.6 356.5,77.7 357,77.7 357.5,77.7 399.4,77.7 399.38,77.7" fill="#00adbb"/><polyline points="321,77.7 323.5,77.7 324,77.7 324.5,77.6 325,77.6 325.5,77.6 326,77.5 326.5,77.5 327,77.4 327.5,77.3 328,77.1 328.5,76.9 329,76.7 329.5,76.4 330,76.0 330.5,75.5 331,75.0 331.5,74.3 332,73.6 332.5,72.7 333,71.7 333.5,70.6 334,69.4 334.5,68.2 335,66.8 335.5,65.4 336,64.0 336.5,62.6 337,61.2 337.5,59.9 338,58.8 338.5,57.8 339,57.1 339.5,56.5 340,56.2 340.5,56.1 341,56.3 341.5,56.7 342,57.4 342.5,58.3 343,59.3 343.5,60.5 344,61.9 344.5,63.2 345,64.7 345.5,66.1 346,67.5 346.5,68.8 347,70.0 347.5,71.2 348,72.2 348.5,73.2 349,74.0 349.5,74.7 350,75.3 350.5,75.8 351,76.2 351.5,76.5 352,76.8 352.5,77.0 353,77.2 353.5,77.3 354,77.4 354.5,77.5 355,77.6 355.5,77.6 356,77.6 356.5,77.7 357,77.7 357.5,77.7 399.4,77.7" fill="none" stroke="#262626" stroke-width="1.15" stroke-linejoin="round"/><polygon points="321.02,91.5 321,91.5 322.5,91.5 323,91.5 323.5,91.5 324,91.4 324.5,91.4 325,91.4 325.5,91.3 326,91.2 326.5,91.1 327,91.0 327.5,90.8 328,90.6 328.5,90.4 329,90.1 329.5,89.7 330,89.2 330.5,88.6 331,88.0 331.5,87.2 332,86.3 332.5,85.3 333,84.2 333.5,82.9 334,81.6 334.5,80.2 335,78.7 335.5,77.2 336,75.7 336.5,74.3 337,72.8 337.5,71.5 338,70.4 338.5,69.4 339,68.6 339.5,68.0 340,67.7 340.5,67.6 341,67.8 341.5,68.2 342,68.9 342.5,69.8 343,70.9 343.5,72.2 344,73.5 344.5,75.0 345,76.5 345.5,78.0 346,79.5 346.5,80.9 347,82.3 347.5,83.5 348,84.7 348.5,85.8 349,86.7 349.5,87.6 350,88.3 350.5,88.9 351,89.4 351.5,89.9 352,90.2 352.5,90.5 353,90.7 353.5,90.9 354,91.1 354.5,91.2 355,91.3 355.5,91.3 356,91.4 356.5,91.4 357,91.4 357.5,91.5 358,91.5 399.4,91.5 399.38,91.5" fill="#00adbb"/><polyline points="321,91.5 322.5,91.5 323,91.5 323.5,91.5 324,91.4 324.5,91.4 325,91.4 325.5,91.3 326,91.2 326.5,91.1 327,91.0 327.5,90.8 328,90.6 328.5,90.4 329,90.1 329.5,89.7 330,89.2 330.5,88.6 331,88.0 331.5,87.2 332,86.3 332.5,85.3 333,84.2 333.5,82.9 334,81.6 334.5,80.2 335,78.7 335.5,77.2 336,75.7 336.5,74.3 337,72.8 337.5,71.5 338,70.4 338.5,69.4 339,68.6 339.5,68.0 340,67.7 340.5,67.6 341,67.8 341.5,68.2 342,68.9 342.5,69.8 343,70.9 343.5,72.2 344,73.5 344.5,75.0 345,76.5 345.5,78.0 346,79.5 346.5,80.9 347,82.3 347.5,83.5 348,84.7 348.5,85.8 349,86.7 349.5,87.6 350,88.3 350.5,88.9 351,89.4 351.5,89.9 352,90.2 352.5,90.5 353,90.7 353.5,90.9 354,91.1 354.5,91.2 355,91.3 355.5,91.3 356,91.4 356.5,91.4 357,91.4 357.5,91.5 358,91.5 399.4,91.5" fill="none" stroke="#262626" stroke-width="1.15" stroke-linejoin="round"/><path d="M317.1,6.2V99.5H403.3" fill="none" stroke="#3a3a3a" stroke-width="0.9"/><path d="M314.5,22.5H317.1" stroke="#3a3a3a" stroke-width="0.9"/><text x="313.3" y="26.3" class="yl">Smoky</text><path d="M314.5,36.3H317.1" stroke="#3a3a3a" stroke-width="0.9"/><text x="313.3" y="40.1" class="yl">Rose</text><path d="M314.5,50.1H317.1" stroke="#3a3a3a" stroke-width="0.9"/><text x="313.3" y="53.9" class="yl">Milky</text><path d="M314.5,63.9H317.1" stroke="#3a3a3a" stroke-width="0.9"/><text x="313.3" y="67.7" class="yl">Ferriferous</text><path d="M314.5,77.7H317.1" stroke="#3a3a3a" stroke-width="0.9"/><text x="313.3" y="81.5" class="yl" style="letter-spacing:-0.3px">Hyaline</text><path d="M314.5,91.5H317.1" stroke="#3a3a3a" stroke-width="0.9"/><text x="313.3" y="95.3" class="yl">Amethyst</text><path d="M331.3,99.5V102.1" stroke="#3a3a3a" stroke-width="0.9"/><text x="331.3" y="109.6" class="xl">0</text><path d="M352.7,99.5V102.1" stroke="#3a3a3a" stroke-width="0.9"/><text x="352.7" y="109.6" class="xl">2000</text><path d="M374,99.5V102.1" stroke="#3a3a3a" stroke-width="0.9"/><text x="374" y="109.6" class="xl">4000</text><path d="M395.5,99.5V102.1" stroke="#3a3a3a" stroke-width="0.9"/><text x="395.5" y="109.6" class="xl">6000</text><text x="366.3" y="119.6" class="tt"><tspan class="el">Cl</tspan><tspan class="un"> (mg kg</tspan><tspan class="sp" dy="-3.6">−1</tspan><tspan class="un" dy="3.6">)</tspan></text></g>
<g><polygon points="457.52,24.5 457.5,24.4 458,24.4 458.5,24.4 459,24.3 459.5,24.2 460,24.1 460.5,24.0 461,23.8 461.5,23.5 462,23.2 462.5,22.8 463,22.3 463.5,21.7 464,21.0 464.5,20.1 465,19.1 465.5,18.1 466,16.9 466.5,15.7 467,14.4 467.5,13.1 468,11.9 468.5,10.7 469,9.6 469.5,8.8 470,8.1 470.5,7.6 471,7.4 471.5,7.5 472,7.8 472.5,8.3 473,9.0 473.5,9.9 474,10.9 474.5,11.9 475,12.9 475.5,13.9 476,14.9 476.5,15.7 477,16.4 477.5,17.0 478,17.5 478.5,17.8 479,18.1 479.5,18.3 480,18.5 480.5,18.6 481,18.8 481.5,18.9 482,19.1 482.5,19.3 483,19.6 483.5,19.8 484,20.1 484.5,20.4 485,20.6 485.5,20.9 486,21.1 486.5,21.3 487,21.5 487.5,21.7 488,21.9 488.5,22.1 489,22.2 489.5,22.4 490,22.6 490.5,22.7 491,22.9 491.5,23.1 492,23.3 492.5,23.4 493,23.6 493.5,23.7 494,23.9 494.5,24.0 495,24.1 495.5,24.2 496,24.2 496.5,24.3 497,24.3 497.5,24.4 498,24.4 498.5,24.4 499,24.4 499.5,24.4 500,24.4 500.5,24.3 501,24.3 501.5,24.2 502,24.1 502.5,24.0 503,23.9 503.5,23.7 504,23.6 504.5,23.4 505,23.2 505.5,22.9 506,22.7 506.5,22.5 507,22.2 507.5,22.0 508,21.8 508.5,21.6 509,21.5 509.5,21.4 510,21.3 510.5,21.3 511,21.4 511.5,21.4 512,21.6 512.5,21.8 513,22.0 513.5,22.2 514,22.4 514.5,22.7 515,22.9 515.5,23.1 516,23.3 516.5,23.5 517,23.7 517.5,23.9 518,24.0 518.5,24.1 519,24.2 519.5,24.3 520,24.3 520.5,24.4 521,24.4 521.5,24.4 522,24.5 522.5,24.5 523,24.5 535.9,24.5 535.88,24.5" fill="#00adbb"/><polyline points="457.5,24.4 458,24.4 458.5,24.4 459,24.3 459.5,24.2 460,24.1 460.5,24.0 461,23.8 461.5,23.5 462,23.2 462.5,22.8 463,22.3 463.5,21.7 464,21.0 464.5,20.1 465,19.1 465.5,18.1 466,16.9 466.5,15.7 467,14.4 467.5,13.1 468,11.9 468.5,10.7 469,9.6 469.5,8.8 470,8.1 470.5,7.6 471,7.4 471.5,7.5 472,7.8 472.5,8.3 473,9.0 473.5,9.9 474,10.9 474.5,11.9 475,12.9 475.5,13.9 476,14.9 476.5,15.7 477,16.4 477.5,17.0 478,17.5 478.5,17.8 479,18.1 479.5,18.3 480,18.5 480.5,18.6 481,18.8 481.5,18.9 482,19.1 482.5,19.3 483,19.6 483.5,19.8 484,20.1 484.5,20.4 485,20.6 485.5,20.9 486,21.1 486.5,21.3 487,21.5 487.5,21.7 488,21.9 488.5,22.1 489,22.2 489.5,22.4 490,22.6 490.5,22.7 491,22.9 491.5,23.1 492,23.3 492.5,23.4 493,23.6 493.5,23.7 494,23.9 494.5,24.0 495,24.1 495.5,24.2 496,24.2 496.5,24.3 497,24.3 497.5,24.4 498,24.4 498.5,24.4 499,24.4 499.5,24.4 500,24.4 500.5,24.3 501,24.3 501.5,24.2 502,24.1 502.5,24.0 503,23.9 503.5,23.7 504,23.6 504.5,23.4 505,23.2 505.5,22.9 506,22.7 506.5,22.5 507,22.2 507.5,22.0 508,21.8 508.5,21.6 509,21.5 509.5,21.4 510,21.3 510.5,21.3 511,21.4 511.5,21.4 512,21.6 512.5,21.8 513,22.0 513.5,22.2 514,22.4 514.5,22.7 515,22.9 515.5,23.1 516,23.3 516.5,23.5 517,23.7 517.5,23.9 518,24.0 518.5,24.1 519,24.2 519.5,24.3 520,24.3 520.5,24.4 521,24.4 521.5,24.4 522,24.5 522.5,24.5 523,24.5 535.9,24.5" fill="none" stroke="#262626" stroke-width="1.15" stroke-linejoin="round"/><polygon points="457.52,37.92 457.5,37.9 458,37.9 458.5,37.8 459,37.8 459.5,37.7 460,37.5 460.5,37.3 461,37.0 461.5,36.6 462,36.1 462.5,35.4 463,34.4 463.5,33.3 464,31.9 464.5,30.3 465,28.4 465.5,26.4 466,24.2 466.5,22.0 467,19.9 467.5,18.0 468,16.3 468.5,15.1 469,14.3 469.5,14.0 470,14.3 470.5,15.1 471,16.4 471.5,18.1 472,20.0 472.5,22.1 473,24.3 473.5,26.3 474,28.3 474.5,30.0 475,31.5 475.5,32.8 476,33.8 476.5,34.6 477,35.2 477.5,35.7 478,36.0 478.5,36.3 479,36.6 479.5,36.8 480,37.0 480.5,37.1 481,37.2 481.5,37.3 482,37.3 482.5,37.3 483,37.3 483.5,37.2 484,37.1 484.5,36.9 485,36.7 485.5,36.5 486,36.3 486.5,36.0 487,35.7 487.5,35.5 488,35.2 488.5,34.9 489,34.7 489.5,34.6 490,34.4 490.5,34.3 491,34.3 491.5,34.4 492,34.4 492.5,34.6 493,34.8 493.5,35.0 494,35.2 494.5,35.5 495,35.7 495.5,36.0 496,36.3 496.5,36.5 497,36.8 497.5,37.0 498,37.1 498.5,37.3 499,37.4 499.5,37.5 500,37.6 500.5,37.7 501,37.8 501.5,37.8 502,37.8 502.5,37.9 503,37.9 503.5,37.9 535.9,37.9 535.88,37.92" fill="#00adbb"/><polyline points="457.5,37.9 458,37.9 458.5,37.8 459,37.8 459.5,37.7 460,37.5 460.5,37.3 461,37.0 461.5,36.6 462,36.1 462.5,35.4 463,34.4 463.5,33.3 464,31.9 464.5,30.3 465,28.4 465.5,26.4 466,24.2 466.5,22.0 467,19.9 467.5,18.0 468,16.3 468.5,15.1 469,14.3 469.5,14.0 470,14.3 470.5,15.1 471,16.4 471.5,18.1 472,20.0 472.5,22.1 473,24.3 473.5,26.3 474,28.3 474.5,30.0 475,31.5 475.5,32.8 476,33.8 476.5,34.6 477,35.2 477.5,35.7 478,36.0 478.5,36.3 479,36.6 479.5,36.8 480,37.0 480.5,37.1 481,37.2 481.5,37.3 482,37.3 482.5,37.3 483,37.3 483.5,37.2 484,37.1 484.5,36.9 485,36.7 485.5,36.5 486,36.3 486.5,36.0 487,35.7 487.5,35.5 488,35.2 488.5,34.9 489,34.7 489.5,34.6 490,34.4 490.5,34.3 491,34.3 491.5,34.4 492,34.4 492.5,34.6 493,34.8 493.5,35.0 494,35.2 494.5,35.5 495,35.7 495.5,36.0 496,36.3 496.5,36.5 497,36.8 497.5,37.0 498,37.1 498.5,37.3 499,37.4 499.5,37.5 500,37.6 500.5,37.7 501,37.8 501.5,37.8 502,37.8 502.5,37.9 503,37.9 503.5,37.9 535.9,37.9" fill="none" stroke="#262626" stroke-width="1.15" stroke-linejoin="round"/><polygon points="457.52,51.34 457.5,51.3 458,51.3 458.5,51.2 459,51.2 459.5,51.1 460,51.0 460.5,50.8 461,50.6 461.5,50.3 462,49.9 462.5,49.4 463,48.8 463.5,48.1 464,47.2 464.5,46.1 465,44.9 465.5,43.6 466,42.2 466.5,40.6 467,39.1 467.5,37.5 468,36.0 468.5,34.6 469,33.4 469.5,32.4 470,31.7 470.5,31.3 471,31.3 471.5,31.5 472,32.0 472.5,32.8 473,33.8 473.5,34.9 474,36.2 474.5,37.5 475,38.8 475.5,40.1 476,41.4 476.5,42.5 477,43.5 477.5,44.5 478,45.3 478.5,46.0 479,46.7 479.5,47.2 480,47.7 480.5,48.2 481,48.6 481.5,49.0 482,49.3 482.5,49.6 483,49.9 483.5,50.1 484,50.3 484.5,50.5 485,50.7 485.5,50.8 486,50.9 486.5,51.0 487,51.1 487.5,51.1 488,51.2 488.5,51.2 489,51.2 489.5,51.2 490,51.2 490.5,51.2 491,51.2 491.5,51.1 492,51.0 492.5,50.9 493,50.8 493.5,50.7 494,50.6 494.5,50.4 495,50.2 495.5,50.0 496,49.8 496.5,49.6 497,49.4 497.5,49.1 498,48.9 498.5,48.8 499,48.6 499.5,48.5 500,48.5 500.5,48.4 501,48.5 501.5,48.5 502,48.6 502.5,48.8 503,49.0 503.5,49.2 504,49.4 504.5,49.6 505,49.8 505.5,50.0 506,50.2 506.5,50.4 507,50.6 507.5,50.7 508,50.8 508.5,51.0 509,51.0 509.5,51.1 510,51.2 510.5,51.2 511,51.2 511.5,51.3 512,51.3 512.5,51.3 513,51.3 535.9,51.3 535.88,51.34" fill="#00adbb"/><polyline points="457.5,51.3 458,51.3 458.5,51.2 459,51.2 459.5,51.1 460,51.0 460.5,50.8 461,50.6 461.5,50.3 462,49.9 462.5,49.4 463,48.8 463.5,48.1 464,47.2 464.5,46.1 465,44.9 465.5,43.6 466,42.2 466.5,40.6 467,39.1 467.5,37.5 468,36.0 468.5,34.6 469,33.4 469.5,32.4 470,31.7 470.5,31.3 471,31.3 471.5,31.5 472,32.0 472.5,32.8 473,33.8 473.5,34.9 474,36.2 474.5,37.5 475,38.8 475.5,40.1 476,41.4 476.5,42.5 477,43.5 477.5,44.5 478,45.3 478.5,46.0 479,46.7 479.5,47.2 480,47.7 480.5,48.2 481,48.6 481.5,49.0 482,49.3 482.5,49.6 483,49.9 483.5,50.1 484,50.3 484.5,50.5 485,50.7 485.5,50.8 486,50.9 486.5,51.0 487,51.1 487.5,51.1 488,51.2 488.5,51.2 489,51.2 489.5,51.2 490,51.2 490.5,51.2 491,51.2 491.5,51.1 492,51.0 492.5,50.9 493,50.8 493.5,50.7 494,50.6 494.5,50.4 495,50.2 495.5,50.0 496,49.8 496.5,49.6 497,49.4 497.5,49.1 498,48.9 498.5,48.8 499,48.6 499.5,48.5 500,48.5 500.5,48.4 501,48.5 501.5,48.5 502,48.6 502.5,48.8 503,49.0 503.5,49.2 504,49.4 504.5,49.6 505,49.8 505.5,50.0 506,50.2 506.5,50.4 507,50.6 507.5,50.7 508,50.8 508.5,51.0 509,51.0 509.5,51.1 510,51.2 510.5,51.2 511,51.2 511.5,51.3 512,51.3 512.5,51.3 513,51.3 535.9,51.3" fill="none" stroke="#262626" stroke-width="1.15" stroke-linejoin="round"/><polygon points="457.52,64.76 457.5,64.8 461.5,64.7 462,64.7 462.5,64.7 463,64.6 463.5,64.6 464,64.5 464.5,64.3 465,64.1 465.5,63.8 466,63.4 466.5,62.9 467,62.2 467.5,61.4 468,60.3 468.5,59.1 469,57.8 469.5,56.3 470,54.7 470.5,53.1 471,51.5 471.5,50.1 472,48.8 472.5,47.9 473,47.3 473.5,47.2 474,47.4 474.5,48.0 475,48.9 475.5,50.2 476,51.6 476.5,53.2 477,54.8 477.5,56.4 478,57.9 478.5,59.2 479,60.4 479.5,61.4 480,62.3 480.5,62.9 481,63.4 481.5,63.8 482,64.1 482.5,64.3 483,64.5 483.5,64.6 484,64.7 484.5,64.7 485,64.7 485.5,64.7 510,64.7 510.5,64.7 511,64.7 511.5,64.7 512,64.6 512.5,64.6 513,64.5 513.5,64.5 514,64.3 514.5,64.2 515,64.0 515.5,63.8 516,63.6 516.5,63.3 517,62.9 517.5,62.6 518,62.1 518.5,61.7 519,61.2 519.5,60.7 520,60.2 520.5,59.7 521,59.3 521.5,58.9 522,58.6 522.5,58.4 523,58.3 523.5,58.3 524,58.3 524.5,58.5 525,58.8 525.5,59.1 526,59.5 526.5,60.0 527,60.4 527.5,60.9 528,61.4 528.5,61.9 529,62.3 529.5,62.7 530,63.1 530.5,63.4 531,63.7 531.5,63.9 532,64.1 532.5,64.3 533,64.4 533.5,64.5 534,64.6 534.5,64.6 535,64.7 535.5,64.7 535.9,64.7 535.88,64.76" fill="#00adbb"/><polyline points="457.5,64.8 461.5,64.7 462,64.7 462.5,64.7 463,64.6 463.5,64.6 464,64.5 464.5,64.3 465,64.1 465.5,63.8 466,63.4 466.5,62.9 467,62.2 467.5,61.4 468,60.3 468.5,59.1 469,57.8 469.5,56.3 470,54.7 470.5,53.1 471,51.5 471.5,50.1 472,48.8 472.5,47.9 473,47.3 473.5,47.2 474,47.4 474.5,48.0 475,48.9 475.5,50.2 476,51.6 476.5,53.2 477,54.8 477.5,56.4 478,57.9 478.5,59.2 479,60.4 479.5,61.4 480,62.3 480.5,62.9 481,63.4 481.5,63.8 482,64.1 482.5,64.3 483,64.5 483.5,64.6 484,64.7 484.5,64.7 485,64.7 485.5,64.7 510,64.7 510.5,64.7 511,64.7 511.5,64.7 512,64.6 512.5,64.6 513,64.5 513.5,64.5 514,64.3 514.5,64.2 515,64.0 515.5,63.8 516,63.6 516.5,63.3 517,62.9 517.5,62.6 518,62.1 518.5,61.7 519,61.2 519.5,60.7 520,60.2 520.5,59.7 521,59.3 521.5,58.9 522,58.6 522.5,58.4 523,58.3 523.5,58.3 524,58.3 524.5,58.5 525,58.8 525.5,59.1 526,59.5 526.5,60.0 527,60.4 527.5,60.9 528,61.4 528.5,61.9 529,62.3 529.5,62.7 530,63.1 530.5,63.4 531,63.7 531.5,63.9 532,64.1 532.5,64.3 533,64.4 533.5,64.5 534,64.6 534.5,64.6 535,64.7 535.5,64.7 535.9,64.7" fill="none" stroke="#262626" stroke-width="1.15" stroke-linejoin="round"/><polygon points="457.52,78.18 457.5,78.2 461,78.2 461.5,78.1 462,78.1 462.5,78.1 463,78.0 463.5,77.9 464,77.8 464.5,77.6 465,77.4 465.5,77.1 466,76.7 466.5,76.2 467,75.5 467.5,74.8 468,73.8 468.5,72.8 469,71.7 469.5,70.4 470,69.2 470.5,68.0 471,66.8 471.5,65.8 472,65.0 472.5,64.4 473,64.0 473.5,64.0 474,64.2 474.5,64.6 475,65.3 475.5,66.1 476,66.9 476.5,67.8 477,68.7 477.5,69.5 478,70.2 478.5,70.9 479,71.4 479.5,71.8 480,72.1 480.5,72.4 481,72.6 481.5,72.7 482,72.9 482.5,73.0 483,73.1 483.5,73.3 484,73.4 484.5,73.6 485,73.7 485.5,73.9 486,74.2 486.5,74.4 487,74.6 487.5,74.8 488,75.0 488.5,75.2 489,75.4 489.5,75.6 490,75.7 490.5,75.8 491,75.9 491.5,75.9 492,75.8 492.5,75.8 493,75.6 493.5,75.4 494,75.2 494.5,74.9 495,74.7 495.5,74.4 496,74.1 496.5,73.8 497,73.5 497.5,73.3 498,73.2 498.5,73.1 499,73.1 499.5,73.2 500,73.3 500.5,73.5 501,73.7 501.5,74.1 502,74.4 502.5,74.8 503,75.2 503.5,75.5 504,75.9 504.5,76.2 505,76.6 505.5,76.9 506,77.1 506.5,77.3 507,77.5 507.5,77.7 508,77.8 508.5,77.9 509,78.0 509.5,78.0 510,78.1 510.5,78.1 511,78.1 511.5,78.1 512,78.2 535.9,78.2 535.88,78.18" fill="#00adbb"/><polyline points="457.5,78.2 461,78.2 461.5,78.1 462,78.1 462.5,78.1 463,78.0 463.5,77.9 464,77.8 464.5,77.6 465,77.4 465.5,77.1 466,76.7 466.5,76.2 467,75.5 467.5,74.8 468,73.8 468.5,72.8 469,71.7 469.5,70.4 470,69.2 470.5,68.0 471,66.8 471.5,65.8 472,65.0 472.5,64.4 473,64.0 473.5,64.0 474,64.2 474.5,64.6 475,65.3 475.5,66.1 476,66.9 476.5,67.8 477,68.7 477.5,69.5 478,70.2 478.5,70.9 479,71.4 479.5,71.8 480,72.1 480.5,72.4 481,72.6 481.5,72.7 482,72.9 482.5,73.0 483,73.1 483.5,73.3 484,73.4 484.5,73.6 485,73.7 485.5,73.9 486,74.2 486.5,74.4 487,74.6 487.5,74.8 488,75.0 488.5,75.2 489,75.4 489.5,75.6 490,75.7 490.5,75.8 491,75.9 491.5,75.9 492,75.8 492.5,75.8 493,75.6 493.5,75.4 494,75.2 494.5,74.9 495,74.7 495.5,74.4 496,74.1 496.5,73.8 497,73.5 497.5,73.3 498,73.2 498.5,73.1 499,73.1 499.5,73.2 500,73.3 500.5,73.5 501,73.7 501.5,74.1 502,74.4 502.5,74.8 503,75.2 503.5,75.5 504,75.9 504.5,76.2 505,76.6 505.5,76.9 506,77.1 506.5,77.3 507,77.5 507.5,77.7 508,77.8 508.5,77.9 509,78.0 509.5,78.0 510,78.1 510.5,78.1 511,78.1 511.5,78.1 512,78.2 535.9,78.2" fill="none" stroke="#262626" stroke-width="1.15" stroke-linejoin="round"/><polygon points="457.52,91.6 457.5,91.6 458,91.6 458.5,91.5 459,91.5 459.5,91.5 460,91.4 460.5,91.3 461,91.1 461.5,90.9 462,90.6 462.5,90.2 463,89.7 463.5,89.0 464,88.2 464.5,87.3 465,86.1 465.5,84.8 466,83.4 466.5,81.8 467,80.2 467.5,78.6 468,77.0 468.5,75.7 469,74.5 469.5,73.6 470,73.0 470.5,72.8 471,73.0 471.5,73.5 472,74.3 472.5,75.4 473,76.7 473.5,78.1 474,79.5 474.5,80.9 475,82.2 475.5,83.5 476,84.6 476.5,85.5 477,86.3 477.5,87.0 478,87.6 478.5,88.1 479,88.5 479.5,88.8 480,89.1 480.5,89.3 481,89.5 481.5,89.6 482,89.6 482.5,89.7 483,89.6 483.5,89.6 484,89.5 484.5,89.4 485,89.3 485.5,89.2 486,89.1 486.5,89.0 487,89.0 487.5,89.0 488,89.0 488.5,89.1 489,89.2 489.5,89.3 490,89.5 490.5,89.7 491,89.9 491.5,90.1 492,90.3 492.5,90.5 493,90.6 493.5,90.8 494,90.9 494.5,91.1 495,91.2 495.5,91.2 496,91.3 496.5,91.3 497,91.4 497.5,91.4 498,91.4 498.5,91.3 499,91.3 499.5,91.2 500,91.1 500.5,91.0 501,90.8 501.5,90.6 502,90.4 502.5,90.2 503,90.0 503.5,89.7 504,89.5 504.5,89.2 505,89.0 505.5,88.8 506,88.6 506.5,88.5 507,88.4 507.5,88.3 508,88.3 508.5,88.4 509,88.4 509.5,88.6 510,88.8 510.5,89.0 511,89.2 511.5,89.5 512,89.7 512.5,90.0 513,90.2 513.5,90.4 514,90.6 514.5,90.8 515,91.0 515.5,91.1 516,91.2 516.5,91.3 517,91.4 517.5,91.4 518,91.5 518.5,91.5 519,91.5 519.5,91.6 520,91.6 520.5,91.6 535.9,91.6 535.88,91.6" fill="#00adbb"/><polyline points="457.5,91.6 458,91.6 458.5,91.5 459,91.5 459.5,91.5 460,91.4 460.5,91.3 461,91.1 461.5,90.9 462,90.6 462.5,90.2 463,89.7 463.5,89.0 464,88.2 464.5,87.3 465,86.1 465.5,84.8 466,83.4 466.5,81.8 467,80.2 467.5,78.6 468,77.0 468.5,75.7 469,74.5 469.5,73.6 470,73.0 470.5,72.8 471,73.0 471.5,73.5 472,74.3 472.5,75.4 473,76.7 473.5,78.1 474,79.5 474.5,80.9 475,82.2 475.5,83.5 476,84.6 476.5,85.5 477,86.3 477.5,87.0 478,87.6 478.5,88.1 479,88.5 479.5,88.8 480,89.1 480.5,89.3 481,89.5 481.5,89.6 482,89.6 482.5,89.7 483,89.6 483.5,89.6 484,89.5 484.5,89.4 485,89.3 485.5,89.2 486,89.1 486.5,89.0 487,89.0 487.5,89.0 488,89.0 488.5,89.1 489,89.2 489.5,89.3 490,89.5 490.5,89.7 491,89.9 491.5,90.1 492,90.3 492.5,90.5 493,90.6 493.5,90.8 494,90.9 494.5,91.1 495,91.2 495.5,91.2 496,91.3 496.5,91.3 497,91.4 497.5,91.4 498,91.4 498.5,91.3 499,91.3 499.5,91.2 500,91.1 500.5,91.0 501,90.8 501.5,90.6 502,90.4 502.5,90.2 503,90.0 503.5,89.7 504,89.5 504.5,89.2 505,89.0 505.5,88.8 506,88.6 506.5,88.5 507,88.4 507.5,88.3 508,88.3 508.5,88.4 509,88.4 509.5,88.6 510,88.8 510.5,89.0 511,89.2 511.5,89.5 512,89.7 512.5,90.0 513,90.2 513.5,90.4 514,90.6 514.5,90.8 515,91.0 515.5,91.1 516,91.2 516.5,91.3 517,91.4 517.5,91.4 518,91.5 518.5,91.5 519,91.5 519.5,91.6 520,91.6 520.5,91.6 535.9,91.6" fill="none" stroke="#262626" stroke-width="1.15" stroke-linejoin="round"/><path d="M453.6,6.2V99.5H539.8" fill="none" stroke="#3a3a3a" stroke-width="0.9"/><path d="M451,24.5H453.6" stroke="#3a3a3a" stroke-width="0.9"/><text x="449.8" y="28.3" class="yl">Smoky</text><path d="M451,37.92H453.6" stroke="#3a3a3a" stroke-width="0.9"/><text x="449.8" y="41.72" class="yl">Rose</text><path d="M451,51.34H453.6" stroke="#3a3a3a" stroke-width="0.9"/><text x="449.8" y="55.14" class="yl">Milky</text><path d="M451,64.76H453.6" stroke="#3a3a3a" stroke-width="0.9"/><text x="449.8" y="68.56" class="yl">Ferriferous</text><path d="M451,78.18H453.6" stroke="#3a3a3a" stroke-width="0.9"/><text x="449.8" y="81.98" class="yl" style="letter-spacing:-0.3px">Hyaline</text><path d="M451,91.6H453.6" stroke="#3a3a3a" stroke-width="0.9"/><text x="449.8" y="95.4" class="yl">Amethyst</text><path d="M467.7,99.5V102.1" stroke="#3a3a3a" stroke-width="0.9"/><text x="467.7" y="109.6" class="xl">0</text><path d="M491.9,99.5V102.1" stroke="#3a3a3a" stroke-width="0.9"/><text x="491.9" y="109.6" class="xl">500</text><path d="M515.5,99.5V102.1" stroke="#3a3a3a" stroke-width="0.9"/><text x="515.5" y="109.6" class="xl">1000</text><text x="500.8" y="119.6" class="tt"><tspan class="el">Cr</tspan><tspan class="un"> (mg kg</tspan><tspan class="sp" dy="-3.6">−1</tspan><tspan class="un" dy="3.6">)</tspan></text></g>
<g><polygon points="51.42,146 51.4,146.0 51.9,145.9 52.4,145.9 52.9,145.9 53.4,145.8 53.9,145.7 54.4,145.6 54.9,145.4 55.4,145.2 55.9,144.9 56.4,144.5 56.9,144.0 57.4,143.4 57.9,142.7 58.4,141.9 58.9,141.0 59.4,140.0 59.9,138.8 60.4,137.6 60.9,136.4 61.4,135.2 61.9,134.1 62.4,133.0 62.9,132.1 63.4,131.4 63.9,130.9 64.4,130.7 64.9,130.7 65.4,131.0 65.9,131.5 66.4,132.3 66.9,133.2 67.4,134.2 67.9,135.4 68.4,136.5 68.9,137.7 69.4,138.8 69.9,139.8 70.4,140.8 70.9,141.5 71.4,142.2 71.9,142.7 72.4,143.1 72.9,143.4 73.4,143.6 73.9,143.7 74.4,143.7 74.9,143.7 75.4,143.6 75.9,143.5 76.4,143.4 76.9,143.2 77.4,143.1 77.9,143.0 78.4,142.8 78.9,142.7 79.4,142.6 79.9,142.5 80.4,142.4 80.9,142.3 81.4,142.2 81.9,142.0 82.4,141.9 82.9,141.7 83.4,141.5 83.9,141.3 84.4,141.0 84.9,140.8 85.4,140.6 85.9,140.4 86.4,140.2 86.9,140.1 87.4,140.1 87.9,140.1 88.4,140.2 88.9,140.5 89.4,140.8 89.9,141.1 90.4,141.5 90.9,142.0 91.4,142.5 91.9,143.0 92.4,143.4 92.9,143.9 93.4,144.3 93.9,144.6 94.4,144.9 94.9,145.2 95.4,145.4 95.9,145.5 96.4,145.7 96.9,145.8 97.4,145.8 97.9,145.9 98.4,145.9 98.9,146.0 99.4,146.0 99.9,146.0 129.8,146.0 129.78,146" fill="#00adbb"/><polyline points="51.4,146.0 51.9,145.9 52.4,145.9 52.9,145.9 53.4,145.8 53.9,145.7 54.4,145.6 54.9,145.4 55.4,145.2 55.9,144.9 56.4,144.5 56.9,144.0 57.4,143.4 57.9,142.7 58.4,141.9 58.9,141.0 59.4,140.0 59.9,138.8 60.4,137.6 60.9,136.4 61.4,135.2 61.9,134.1 62.4,133.0 62.9,132.1 63.4,131.4 63.9,130.9 64.4,130.7 64.9,130.7 65.4,131.0 65.9,131.5 66.4,132.3 66.9,133.2 67.4,134.2 67.9,135.4 68.4,136.5 68.9,137.7 69.4,138.8 69.9,139.8 70.4,140.8 70.9,141.5 71.4,142.2 71.9,142.7 72.4,143.1 72.9,143.4 73.4,143.6 73.9,143.7 74.4,143.7 74.9,143.7 75.4,143.6 75.9,143.5 76.4,143.4 76.9,143.2 77.4,143.1 77.9,143.0 78.4,142.8 78.9,142.7 79.4,142.6 79.9,142.5 80.4,142.4 80.9,142.3 81.4,142.2 81.9,142.0 82.4,141.9 82.9,141.7 83.4,141.5 83.9,141.3 84.4,141.0 84.9,140.8 85.4,140.6 85.9,140.4 86.4,140.2 86.9,140.1 87.4,140.1 87.9,140.1 88.4,140.2 88.9,140.5 89.4,140.8 89.9,141.1 90.4,141.5 90.9,142.0 91.4,142.5 91.9,143.0 92.4,143.4 92.9,143.9 93.4,144.3 93.9,144.6 94.4,144.9 94.9,145.2 95.4,145.4 95.9,145.5 96.4,145.7 96.9,145.8 97.4,145.8 97.9,145.9 98.4,145.9 98.9,146.0 99.4,146.0 99.9,146.0 129.8,146.0" fill="none" stroke="#262626" stroke-width="1.15" stroke-linejoin="round"/><polygon points="51.42,159.86 51.4,159.8 51.9,159.8 52.4,159.7 52.9,159.6 53.4,159.5 53.9,159.4 54.4,159.3 54.9,159.0 55.4,158.7 55.9,158.4 56.4,157.9 56.9,157.3 57.4,156.7 57.9,155.9 58.4,154.9 58.9,153.9 59.4,152.7 59.9,151.4 60.4,150.0 60.9,148.6 61.4,147.2 61.9,145.8 62.4,144.4 62.9,143.2 63.4,142.1 63.9,141.2 64.4,140.6 64.9,140.2 65.4,140.1 65.9,140.2 66.4,140.6 66.9,141.3 67.4,142.2 67.9,143.2 68.4,144.3 68.9,145.6 69.4,146.9 69.9,148.2 70.4,149.4 70.9,150.6 71.4,151.8 71.9,152.8 72.4,153.8 72.9,154.6 73.4,155.4 73.9,156.1 74.4,156.7 74.9,157.2 75.4,157.6 75.9,158.0 76.4,158.3 76.9,158.6 77.4,158.8 77.9,159.0 78.4,159.2 78.9,159.3 79.4,159.5 79.9,159.5 80.4,159.6 80.9,159.7 81.4,159.7 81.9,159.8 82.4,159.8 82.9,159.8 83.4,159.8 83.9,159.8 129.8,159.9 129.78,159.86" fill="#00adbb"/><polyline points="51.4,159.8 51.9,159.8 52.4,159.7 52.9,159.6 53.4,159.5 53.9,159.4 54.4,159.3 54.9,159.0 55.4,158.7 55.9,158.4 56.4,157.9 56.9,157.3 57.4,156.7 57.9,155.9 58.4,154.9 58.9,153.9 59.4,152.7 59.9,151.4 60.4,150.0 60.9,148.6 61.4,147.2 61.9,145.8 62.4,144.4 62.9,143.2 63.4,142.1 63.9,141.2 64.4,140.6 64.9,140.2 65.4,140.1 65.9,140.2 66.4,140.6 66.9,141.3 67.4,142.2 67.9,143.2 68.4,144.3 68.9,145.6 69.4,146.9 69.9,148.2 70.4,149.4 70.9,150.6 71.4,151.8 71.9,152.8 72.4,153.8 72.9,154.6 73.4,155.4 73.9,156.1 74.4,156.7 74.9,157.2 75.4,157.6 75.9,158.0 76.4,158.3 76.9,158.6 77.4,158.8 77.9,159.0 78.4,159.2 78.9,159.3 79.4,159.5 79.9,159.5 80.4,159.6 80.9,159.7 81.4,159.7 81.9,159.8 82.4,159.8 82.9,159.8 83.4,159.8 83.9,159.8 129.8,159.9" fill="none" stroke="#262626" stroke-width="1.15" stroke-linejoin="round"/><polygon points="51.42,173.72 51.4,173.7 51.9,173.7 52.4,173.7 52.9,173.7 53.4,173.6 53.9,173.6 54.4,173.5 54.9,173.4 55.4,173.2 55.9,173.0 56.4,172.7 56.9,172.3 57.4,171.8 57.9,171.1 58.4,170.3 58.9,169.3 59.4,168.1 59.9,166.7 60.4,165.2 60.9,163.4 61.4,161.6 61.9,159.7 62.4,157.7 62.9,155.8 63.4,154.1 63.9,152.6 64.4,151.4 64.9,150.5 65.4,150.1 65.9,150.1 66.4,150.5 66.9,151.3 67.4,152.4 67.9,153.9 68.4,155.6 68.9,157.5 69.4,159.4 69.9,161.4 70.4,163.2 70.9,165.0 71.4,166.5 71.9,168.0 72.4,169.2 72.9,170.2 73.4,171.0 73.9,171.7 74.4,172.2 74.9,172.7 75.4,173.0 75.9,173.2 76.4,173.4 76.9,173.5 77.4,173.6 77.9,173.6 78.4,173.7 78.9,173.7 79.4,173.7 129.8,173.7 129.78,173.72" fill="#00adbb"/><polyline points="51.4,173.7 51.9,173.7 52.4,173.7 52.9,173.7 53.4,173.6 53.9,173.6 54.4,173.5 54.9,173.4 55.4,173.2 55.9,173.0 56.4,172.7 56.9,172.3 57.4,171.8 57.9,171.1 58.4,170.3 58.9,169.3 59.4,168.1 59.9,166.7 60.4,165.2 60.9,163.4 61.4,161.6 61.9,159.7 62.4,157.7 62.9,155.8 63.4,154.1 63.9,152.6 64.4,151.4 64.9,150.5 65.4,150.1 65.9,150.1 66.4,150.5 66.9,151.3 67.4,152.4 67.9,153.9 68.4,155.6 68.9,157.5 69.4,159.4 69.9,161.4 70.4,163.2 70.9,165.0 71.4,166.5 71.9,168.0 72.4,169.2 72.9,170.2 73.4,171.0 73.9,171.7 74.4,172.2 74.9,172.7 75.4,173.0 75.9,173.2 76.4,173.4 76.9,173.5 77.4,173.6 77.9,173.6 78.4,173.7 78.9,173.7 79.4,173.7 129.8,173.7" fill="none" stroke="#262626" stroke-width="1.15" stroke-linejoin="round"/><polygon points="51.42,187.58 51.4,187.6 56.4,187.6 56.9,187.5 57.4,187.5 57.9,187.4 58.4,187.2 58.9,187.0 59.4,186.6 59.9,186.1 60.4,185.4 60.9,184.7 61.4,183.9 61.9,183.3 62.4,182.8 62.9,182.6 63.4,182.7 63.9,183.1 64.4,183.7 64.9,184.4 65.4,185.2 65.9,185.9 66.4,186.4 66.9,186.8 67.4,187.1 67.9,187.3 68.4,187.4 68.9,187.5 69.4,187.5 69.9,187.5 70.4,187.5 70.9,187.5 71.4,187.5 71.9,187.5 72.4,187.4 72.9,187.3 73.4,187.2 73.9,187.0 74.4,186.8 74.9,186.5 75.4,186.2 75.9,185.8 76.4,185.4 76.9,184.9 77.4,184.4 77.9,183.9 78.4,183.4 78.9,182.9 79.4,182.5 79.9,182.2 80.4,182.0 80.9,181.9 81.4,181.9 81.9,182.1 82.4,182.4 82.9,182.8 83.4,183.2 83.9,183.7 84.4,184.2 84.9,184.8 85.4,185.2 85.9,185.7 86.4,186.1 86.9,186.4 87.4,186.6 87.9,186.8 88.4,186.9 88.9,187.0 89.4,186.9 89.9,186.8 90.4,186.7 90.9,186.4 91.4,186.1 91.9,185.7 92.4,185.3 92.9,184.8 93.4,184.3 93.9,183.8 94.4,183.3 94.9,182.8 95.4,182.4 95.9,182.1 96.4,181.9 96.9,181.9 97.4,182.0 97.9,182.1 98.4,182.5 98.9,182.9 99.4,183.3 99.9,183.8 100.4,184.4 100.9,184.9 101.4,185.3 101.9,185.8 102.4,186.2 102.9,186.5 103.4,186.8 103.9,187.0 104.4,187.1 104.9,187.3 105.4,187.4 105.9,187.4 106.4,187.4 106.9,187.4 107.4,187.4 107.9,187.4 108.4,187.3 108.9,187.1 109.4,186.9 109.9,186.7 110.4,186.3 110.9,185.8 111.4,185.2 111.9,184.5 112.4,183.7 112.9,182.8 113.4,181.7 113.9,180.6 114.4,179.5 114.9,178.5 115.4,177.5 115.9,176.6 116.4,176.0 116.9,175.6 117.4,175.5 117.9,175.6 118.4,176.0 118.9,176.7 119.4,177.5 119.9,178.5 120.4,179.6 120.9,180.7 121.4,181.8 121.9,182.8 122.4,183.8 122.9,184.6 123.4,185.3 123.9,185.9 124.4,186.3 124.9,186.7 125.4,186.9 125.9,187.1 126.4,187.3 126.9,187.4 127.4,187.5 127.9,187.5 128.4,187.5 128.9,187.6 129.8,187.6 129.78,187.58" fill="#00adbb"/><polyline points="51.4,187.6 56.4,187.6 56.9,187.5 57.4,187.5 57.9,187.4 58.4,187.2 58.9,187.0 59.4,186.6 59.9,186.1 60.4,185.4 60.9,184.7 61.4,183.9 61.9,183.3 62.4,182.8 62.9,182.6 63.4,182.7 63.9,183.1 64.4,183.7 64.9,184.4 65.4,185.2 65.9,185.9 66.4,186.4 66.9,186.8 67.4,187.1 67.9,187.3 68.4,187.4 68.9,187.5 69.4,187.5 69.9,187.5 70.4,187.5 70.9,187.5 71.4,187.5 71.9,187.5 72.4,187.4 72.9,187.3 73.4,187.2 73.9,187.0 74.4,186.8 74.9,186.5 75.4,186.2 75.9,185.8 76.4,185.4 76.9,184.9 77.4,184.4 77.9,183.9 78.4,183.4 78.9,182.9 79.4,182.5 79.9,182.2 80.4,182.0 80.9,181.9 81.4,181.9 81.9,182.1 82.4,182.4 82.9,182.8 83.4,183.2 83.9,183.7 84.4,184.2 84.9,184.8 85.4,185.2 85.9,185.7 86.4,186.1 86.9,186.4 87.4,186.6 87.9,186.8 88.4,186.9 88.9,187.0 89.4,186.9 89.9,186.8 90.4,186.7 90.9,186.4 91.4,186.1 91.9,185.7 92.4,185.3 92.9,184.8 93.4,184.3 93.9,183.8 94.4,183.3 94.9,182.8 95.4,182.4 95.9,182.1 96.4,181.9 96.9,181.9 97.4,182.0 97.9,182.1 98.4,182.5 98.9,182.9 99.4,183.3 99.9,183.8 100.4,184.4 100.9,184.9 101.4,185.3 101.9,185.8 102.4,186.2 102.9,186.5 103.4,186.8 103.9,187.0 104.4,187.1 104.9,187.3 105.4,187.4 105.9,187.4 106.4,187.4 106.9,187.4 107.4,187.4 107.9,187.4 108.4,187.3 108.9,187.1 109.4,186.9 109.9,186.7 110.4,186.3 110.9,185.8 111.4,185.2 111.9,184.5 112.4,183.7 112.9,182.8 113.4,181.7 113.9,180.6 114.4,179.5 114.9,178.5 115.4,177.5 115.9,176.6 116.4,176.0 116.9,175.6 117.4,175.5 117.9,175.6 118.4,176.0 118.9,176.7 119.4,177.5 119.9,178.5 120.4,179.6 120.9,180.7 121.4,181.8 121.9,182.8 122.4,183.8 122.9,184.6 123.4,185.3 123.9,185.9 124.4,186.3 124.9,186.7 125.4,186.9 125.9,187.1 126.4,187.3 126.9,187.4 127.4,187.5 127.9,187.5 128.4,187.5 128.9,187.6 129.8,187.6" fill="none" stroke="#262626" stroke-width="1.15" stroke-linejoin="round"/><polygon points="51.42,201.44 51.4,201.3 51.9,201.3 52.4,201.2 52.9,201.0 53.4,200.8 53.9,200.5 54.4,200.1 54.9,199.6 55.4,198.9 55.9,198.1 56.4,197.0 56.9,195.7 57.4,194.2 57.9,192.5 58.4,190.6 58.9,188.6 59.4,186.5 59.9,184.4 60.4,182.4 60.9,180.6 61.4,179.0 61.9,177.9 62.4,177.2 62.9,176.9 63.4,177.2 63.9,178.0 64.4,179.1 64.9,180.7 65.4,182.5 65.9,184.6 66.4,186.7 66.9,188.8 67.4,190.8 67.9,192.7 68.4,194.4 68.9,195.9 69.4,197.1 69.9,198.2 70.4,199.0 70.9,199.7 71.4,200.2 71.9,200.6 72.4,200.8 72.9,201.0 73.4,201.2 73.9,201.3 74.4,201.3 74.9,201.4 75.4,201.4 75.9,201.4 129.8,201.4 129.78,201.44" fill="#00adbb"/><polyline points="51.4,201.3 51.9,201.3 52.4,201.2 52.9,201.0 53.4,200.8 53.9,200.5 54.4,200.1 54.9,199.6 55.4,198.9 55.9,198.1 56.4,197.0 56.9,195.7 57.4,194.2 57.9,192.5 58.4,190.6 58.9,188.6 59.4,186.5 59.9,184.4 60.4,182.4 60.9,180.6 61.4,179.0 61.9,177.9 62.4,177.2 62.9,176.9 63.4,177.2 63.9,178.0 64.4,179.1 64.9,180.7 65.4,182.5 65.9,184.6 66.4,186.7 66.9,188.8 67.4,190.8 67.9,192.7 68.4,194.4 68.9,195.9 69.4,197.1 69.9,198.2 70.4,199.0 70.9,199.7 71.4,200.2 71.9,200.6 72.4,200.8 72.9,201.0 73.4,201.2 73.9,201.3 74.4,201.3 74.9,201.4 75.4,201.4 75.9,201.4 129.8,201.4" fill="none" stroke="#262626" stroke-width="1.15" stroke-linejoin="round"/><polygon points="51.42,215.3 51.4,215.2 51.9,215.2 52.4,215.1 52.9,215.0 53.4,214.9 53.9,214.7 54.4,214.4 54.9,214.1 55.4,213.7 55.9,213.2 56.4,212.6 56.9,211.8 57.4,210.9 57.9,209.9 58.4,208.7 58.9,207.3 59.4,205.9 59.9,204.3 60.4,202.7 60.9,201.0 61.4,199.4 61.9,197.9 62.4,196.5 62.9,195.3 63.4,194.4 63.9,193.8 64.4,193.5 64.9,193.6 65.4,194.0 65.9,194.7 66.4,195.6 66.9,196.9 67.4,198.3 67.9,199.9 68.4,201.5 68.9,203.1 69.4,204.8 69.9,206.3 70.4,207.7 70.9,209.0 71.4,210.2 71.9,211.2 72.4,212.1 72.9,212.8 73.4,213.4 73.9,213.9 74.4,214.2 74.9,214.5 75.4,214.7 75.9,214.9 76.4,215.0 76.9,215.1 77.4,215.2 77.9,215.2 78.4,215.2 78.9,215.3 79.4,215.3 129.8,215.3 129.78,215.3" fill="#00adbb"/><polyline points="51.4,215.2 51.9,215.2 52.4,215.1 52.9,215.0 53.4,214.9 53.9,214.7 54.4,214.4 54.9,214.1 55.4,213.7 55.9,213.2 56.4,212.6 56.9,211.8 57.4,210.9 57.9,209.9 58.4,208.7 58.9,207.3 59.4,205.9 59.9,204.3 60.4,202.7 60.9,201.0 61.4,199.4 61.9,197.9 62.4,196.5 62.9,195.3 63.4,194.4 63.9,193.8 64.4,193.5 64.9,193.6 65.4,194.0 65.9,194.7 66.4,195.6 66.9,196.9 67.4,198.3 67.9,199.9 68.4,201.5 68.9,203.1 69.4,204.8 69.9,206.3 70.4,207.7 70.9,209.0 71.4,210.2 71.9,211.2 72.4,212.1 72.9,212.8 73.4,213.4 73.9,213.9 74.4,214.2 74.9,214.5 75.4,214.7 75.9,214.9 76.4,215.0 76.9,215.1 77.4,215.2 77.9,215.2 78.4,215.2 78.9,215.3 79.4,215.3 129.8,215.3" fill="none" stroke="#262626" stroke-width="1.15" stroke-linejoin="round"/><path d="M47.5,130.8V224.2H133.7" fill="none" stroke="#3a3a3a" stroke-width="0.9"/><path d="M44.9,146H47.5" stroke="#3a3a3a" stroke-width="0.9"/><text x="43.7" y="149.8" class="yl">Smoky</text><path d="M44.9,159.86H47.5" stroke="#3a3a3a" stroke-width="0.9"/><text x="43.7" y="163.66" class="yl">Rose</text><path d="M44.9,173.72H47.5" stroke="#3a3a3a" stroke-width="0.9"/><text x="43.7" y="177.52" class="yl">Milky</text><path d="M44.9,187.58H47.5" stroke="#3a3a3a" stroke-width="0.9"/><text x="43.7" y="191.38" class="yl">Ferriferous</text><path d="M44.9,201.44H47.5" stroke="#3a3a3a" stroke-width="0.9"/><text x="43.7" y="205.24" class="yl" style="letter-spacing:-0.3px">Hyaline</text><path d="M44.9,215.3H47.5" stroke="#3a3a3a" stroke-width="0.9"/><text x="43.7" y="219.1" class="yl">Amethyst</text><path d="M59.1,224.2V226.8" stroke="#3a3a3a" stroke-width="0.9"/><text x="59.1" y="234.3" class="xl">0</text><path d="M81.7,224.2V226.8" stroke="#3a3a3a" stroke-width="0.9"/><text x="81.7" y="234.3" class="xl">1000</text><path d="M104.3,224.2V226.8" stroke="#3a3a3a" stroke-width="0.9"/><text x="104.3" y="234.3" class="xl">2000</text><path d="M126.9,224.2V226.8" stroke="#3a3a3a" stroke-width="0.9"/><text x="126.9" y="234.3" class="xl">3000</text><text x="94.5" y="244.3" class="tt"><tspan class="el">Fe</tspan><tspan class="un"> (mg kg</tspan><tspan class="sp" dy="-3.6">−1</tspan><tspan class="un" dy="3.6">)</tspan></text></g>
<g><polygon points="185.42,146.3 185.4,146.3 186.9,146.3 187.4,146.3 187.9,146.2 188.4,146.2 188.9,146.2 189.4,146.2 189.9,146.1 190.4,146.0 190.9,145.9 191.4,145.8 191.9,145.6 192.4,145.4 192.9,145.1 193.4,144.8 193.9,144.4 194.4,144.0 194.9,143.4 195.4,142.8 195.9,142.1 196.4,141.3 196.9,140.5 197.4,139.6 197.9,138.7 198.4,137.7 198.9,136.7 199.4,135.8 199.9,134.9 200.4,134.0 200.9,133.3 201.4,132.6 201.9,132.1 202.4,131.7 202.9,131.5 203.4,131.3 203.9,131.4 204.4,131.5 204.9,131.7 205.4,132.0 205.9,132.4 206.4,132.8 206.9,133.2 207.4,133.6 207.9,134.0 208.4,134.4 208.9,134.8 209.4,135.1 209.9,135.4 210.4,135.7 210.9,136.0 211.4,136.2 211.9,136.5 212.4,136.7 212.9,137.0 213.4,137.3 213.9,137.6 214.4,138.0 214.9,138.3 215.4,138.7 215.9,139.2 216.4,139.6 216.9,140.1 217.4,140.6 217.9,141.0 218.4,141.5 218.9,142.0 219.4,142.4 219.9,142.9 220.4,143.3 220.9,143.7 221.4,144.0 221.9,144.3 222.4,144.6 222.9,144.9 223.4,145.1 223.9,145.3 224.4,145.5 224.9,145.6 225.4,145.8 225.9,145.9 226.4,146.0 226.9,146.0 227.4,146.1 227.9,146.1 228.4,146.2 228.9,146.2 229.4,146.2 229.9,146.2 230.4,146.3 230.9,146.3 231.4,146.3 263.8,146.3 263.78,146.3" fill="#00adbb"/><polyline points="185.4,146.3 186.9,146.3 187.4,146.3 187.9,146.2 188.4,146.2 188.9,146.2 189.4,146.2 189.9,146.1 190.4,146.0 190.9,145.9 191.4,145.8 191.9,145.6 192.4,145.4 192.9,145.1 193.4,144.8 193.9,144.4 194.4,144.0 194.9,143.4 195.4,142.8 195.9,142.1 196.4,141.3 196.9,140.5 197.4,139.6 197.9,138.7 198.4,137.7 198.9,136.7 199.4,135.8 199.9,134.9 200.4,134.0 200.9,133.3 201.4,132.6 201.9,132.1 202.4,131.7 202.9,131.5 203.4,131.3 203.9,131.4 204.4,131.5 204.9,131.7 205.4,132.0 205.9,132.4 206.4,132.8 206.9,133.2 207.4,133.6 207.9,134.0 208.4,134.4 208.9,134.8 209.4,135.1 209.9,135.4 210.4,135.7 210.9,136.0 211.4,136.2 211.9,136.5 212.4,136.7 212.9,137.0 213.4,137.3 213.9,137.6 214.4,138.0 214.9,138.3 215.4,138.7 215.9,139.2 216.4,139.6 216.9,140.1 217.4,140.6 217.9,141.0 218.4,141.5 218.9,142.0 219.4,142.4 219.9,142.9 220.4,143.3 220.9,143.7 221.4,144.0 221.9,144.3 222.4,144.6 222.9,144.9 223.4,145.1 223.9,145.3 224.4,145.5 224.9,145.6 225.4,145.8 225.9,145.9 226.4,146.0 226.9,146.0 227.4,146.1 227.9,146.1 228.4,146.2 228.9,146.2 229.4,146.2 229.9,146.2 230.4,146.3 230.9,146.3 231.4,146.3 263.8,146.3" fill="none" stroke="#262626" stroke-width="1.15" stroke-linejoin="round"/><polygon points="185.42,160.14 185.4,160.1 189.4,160.1 189.9,160.1 190.4,160.1 190.9,160.1 191.4,160.0 191.9,160.0 192.4,159.9 192.9,159.7 193.4,159.6 193.9,159.4 194.4,159.1 194.9,158.7 195.4,158.2 195.9,157.7 196.4,157.0 196.9,156.2 197.4,155.3 197.9,154.2 198.4,153.1 198.9,151.9 199.4,150.7 199.9,149.5 200.4,148.3 200.9,147.2 201.4,146.2 201.9,145.4 202.4,144.9 202.9,144.6 203.4,144.5 203.9,144.7 204.4,145.1 204.9,145.8 205.4,146.6 205.9,147.5 206.4,148.5 206.9,149.5 207.4,150.5 207.9,151.5 208.4,152.3 208.9,153.1 209.4,153.8 209.9,154.4 210.4,154.9 210.9,155.3 211.4,155.7 211.9,156.0 212.4,156.3 212.9,156.7 213.4,157.0 213.9,157.3 214.4,157.6 214.9,157.9 215.4,158.2 215.9,158.5 216.4,158.8 216.9,159.0 217.4,159.2 217.9,159.4 218.4,159.6 218.9,159.7 219.4,159.8 219.9,159.9 220.4,160.0 220.9,160.0 221.4,160.0 221.9,160.0 222.4,160.1 222.9,160.0 223.4,160.0 223.9,160.0 224.4,160.0 224.9,159.9 225.4,159.8 225.9,159.7 226.4,159.6 226.9,159.5 227.4,159.3 227.9,159.2 228.4,159.0 228.9,158.7 229.4,158.5 229.9,158.2 230.4,157.9 230.9,157.5 231.4,157.2 231.9,156.9 232.4,156.6 232.9,156.3 233.4,156.0 233.9,155.7 234.4,155.5 234.9,155.4 235.4,155.3 235.9,155.2 236.4,155.3 236.9,155.3 237.4,155.5 237.9,155.7 238.4,155.9 238.9,156.2 239.4,156.5 239.9,156.8 240.4,157.1 240.9,157.4 241.4,157.8 241.9,158.1 242.4,158.4 242.9,158.6 243.4,158.9 243.9,159.1 244.4,159.3 244.9,159.5 245.4,159.6 245.9,159.7 246.4,159.8 246.9,159.9 247.4,159.9 247.9,160.0 248.4,160.0 248.9,160.1 249.4,160.1 249.9,160.1 250.4,160.1 263.8,160.1 263.78,160.14" fill="#00adbb"/><polyline points="185.4,160.1 189.4,160.1 189.9,160.1 190.4,160.1 190.9,160.1 191.4,160.0 191.9,160.0 192.4,159.9 192.9,159.7 193.4,159.6 193.9,159.4 194.4,159.1 194.9,158.7 195.4,158.2 195.9,157.7 196.4,157.0 196.9,156.2 197.4,155.3 197.9,154.2 198.4,153.1 198.9,151.9 199.4,150.7 199.9,149.5 200.4,148.3 200.9,147.2 201.4,146.2 201.9,145.4 202.4,144.9 202.9,144.6 203.4,144.5 203.9,144.7 204.4,145.1 204.9,145.8 205.4,146.6 205.9,147.5 206.4,148.5 206.9,149.5 207.4,150.5 207.9,151.5 208.4,152.3 208.9,153.1 209.4,153.8 209.9,154.4 210.4,154.9 210.9,155.3 211.4,155.7 211.9,156.0 212.4,156.3 212.9,156.7 213.4,157.0 213.9,157.3 214.4,157.6 214.9,157.9 215.4,158.2 215.9,158.5 216.4,158.8 216.9,159.0 217.4,159.2 217.9,159.4 218.4,159.6 218.9,159.7 219.4,159.8 219.9,159.9 220.4,160.0 220.9,160.0 221.4,160.0 221.9,160.0 222.4,160.1 222.9,160.0 223.4,160.0 223.9,160.0 224.4,160.0 224.9,159.9 225.4,159.8 225.9,159.7 226.4,159.6 226.9,159.5 227.4,159.3 227.9,159.2 228.4,159.0 228.9,158.7 229.4,158.5 229.9,158.2 230.4,157.9 230.9,157.5 231.4,157.2 231.9,156.9 232.4,156.6 232.9,156.3 233.4,156.0 233.9,155.7 234.4,155.5 234.9,155.4 235.4,155.3 235.9,155.2 236.4,155.3 236.9,155.3 237.4,155.5 237.9,155.7 238.4,155.9 238.9,156.2 239.4,156.5 239.9,156.8 240.4,157.1 240.9,157.4 241.4,157.8 241.9,158.1 242.4,158.4 242.9,158.6 243.4,158.9 243.9,159.1 244.4,159.3 244.9,159.5 245.4,159.6 245.9,159.7 246.4,159.8 246.9,159.9 247.4,159.9 247.9,160.0 248.4,160.0 248.9,160.1 249.4,160.1 249.9,160.1 250.4,160.1 263.8,160.1" fill="none" stroke="#262626" stroke-width="1.15" stroke-linejoin="round"/><polygon points="185.42,173.98 185.4,174.0 190.9,174.0 191.4,173.9 191.9,173.9 192.4,173.9 192.9,173.9 193.4,173.8 193.9,173.8 194.4,173.7 194.9,173.6 195.4,173.5 195.9,173.3 196.4,173.1 196.9,172.8 197.4,172.4 197.9,172.0 198.4,171.5 198.9,170.9 199.4,170.2 199.9,169.4 200.4,168.5 200.9,167.5 201.4,166.5 201.9,165.3 202.4,164.1 202.9,162.9 203.4,161.7 203.9,160.5 204.4,159.4 204.9,158.3 205.4,157.4 205.9,156.7 206.4,156.2 206.9,155.8 207.4,155.7 207.9,155.8 208.4,156.1 208.9,156.7 209.4,157.4 209.9,158.2 210.4,159.2 210.9,160.2 211.4,161.3 211.9,162.5 212.4,163.6 212.9,164.6 213.4,165.6 213.9,166.5 214.4,167.4 214.9,168.1 215.4,168.7 215.9,169.3 216.4,169.7 216.9,170.0 217.4,170.3 217.9,170.6 218.4,170.7 218.9,170.9 219.4,171.0 219.9,171.1 220.4,171.1 220.9,171.2 221.4,171.2 221.9,171.3 222.4,171.3 222.9,171.4 223.4,171.4 223.9,171.5 224.4,171.6 224.9,171.6 225.4,171.7 225.9,171.8 226.4,171.9 226.9,172.0 227.4,172.1 227.9,172.2 228.4,172.3 228.9,172.5 229.4,172.6 229.9,172.7 230.4,172.9 230.9,173.0 231.4,173.1 231.9,173.2 232.4,173.3 232.9,173.4 233.4,173.5 233.9,173.6 234.4,173.6 234.9,173.7 235.4,173.8 235.9,173.8 236.4,173.8 236.9,173.9 237.4,173.9 237.9,173.9 238.4,173.9 238.9,173.9 239.4,173.9 239.9,174.0 263.8,174.0 263.78,173.98" fill="#00adbb"/><polyline points="185.4,174.0 190.9,174.0 191.4,173.9 191.9,173.9 192.4,173.9 192.9,173.9 193.4,173.8 193.9,173.8 194.4,173.7 194.9,173.6 195.4,173.5 195.9,173.3 196.4,173.1 196.9,172.8 197.4,172.4 197.9,172.0 198.4,171.5 198.9,170.9 199.4,170.2 199.9,169.4 200.4,168.5 200.9,167.5 201.4,166.5 201.9,165.3 202.4,164.1 202.9,162.9 203.4,161.7 203.9,160.5 204.4,159.4 204.9,158.3 205.4,157.4 205.9,156.7 206.4,156.2 206.9,155.8 207.4,155.7 207.9,155.8 208.4,156.1 208.9,156.7 209.4,157.4 209.9,158.2 210.4,159.2 210.9,160.2 211.4,161.3 211.9,162.5 212.4,163.6 212.9,164.6 213.4,165.6 213.9,166.5 214.4,167.4 214.9,168.1 215.4,168.7 215.9,169.3 216.4,169.7 216.9,170.0 217.4,170.3 217.9,170.6 218.4,170.7 218.9,170.9 219.4,171.0 219.9,171.1 220.4,171.1 220.9,171.2 221.4,171.2 221.9,171.3 222.4,171.3 222.9,171.4 223.4,171.4 223.9,171.5 224.4,171.6 224.9,171.6 225.4,171.7 225.9,171.8 226.4,171.9 226.9,172.0 227.4,172.1 227.9,172.2 228.4,172.3 228.9,172.5 229.4,172.6 229.9,172.7 230.4,172.9 230.9,173.0 231.4,173.1 231.9,173.2 232.4,173.3 232.9,173.4 233.4,173.5 233.9,173.6 234.4,173.6 234.9,173.7 235.4,173.8 235.9,173.8 236.4,173.8 236.9,173.9 237.4,173.9 237.9,173.9 238.4,173.9 238.9,173.9 239.4,173.9 239.9,174.0 263.8,174.0" fill="none" stroke="#262626" stroke-width="1.15" stroke-linejoin="round"/><polygon points="185.42,187.82 185.4,187.8 191.9,187.8 192.4,187.8 192.9,187.8 193.4,187.7 193.9,187.7 194.4,187.6 194.9,187.6 195.4,187.5 195.9,187.4 196.4,187.2 196.9,187.0 197.4,186.8 197.9,186.6 198.4,186.3 198.9,185.9 199.4,185.6 199.9,185.1 200.4,184.7 200.9,184.3 201.4,183.8 201.9,183.4 202.4,182.9 202.9,182.6 203.4,182.3 203.9,182.0 204.4,181.9 204.9,181.8 205.4,181.8 205.9,181.9 206.4,182.1 206.9,182.4 207.4,182.7 207.9,183.0 208.4,183.4 208.9,183.7 209.4,184.0 209.9,184.3 210.4,184.6 210.9,184.8 211.4,184.9 211.9,185.0 212.4,185.1 212.9,185.2 213.4,185.2 213.9,185.2 214.4,185.2 214.9,185.2 215.4,185.1 215.9,185.1 216.4,185.0 216.9,184.9 217.4,184.8 217.9,184.6 218.4,184.4 218.9,184.2 219.4,183.9 219.9,183.7 220.4,183.4 220.9,183.1 221.4,182.8 221.9,182.5 222.4,182.3 222.9,182.1 223.4,181.9 223.9,181.9 224.4,181.8 224.9,181.8 225.4,181.9 225.9,182.1 226.4,182.2 226.9,182.5 227.4,182.8 227.9,183.1 228.4,183.4 228.9,183.8 229.4,184.1 229.9,184.5 230.4,184.8 230.9,185.2 231.4,185.5 231.9,185.8 232.4,186.1 232.9,186.4 233.4,186.6 233.9,186.8 234.4,187.0 234.9,187.1 235.4,187.2 235.9,187.3 236.4,187.4 236.9,187.4 237.4,187.5 237.9,187.4 238.4,187.4 238.9,187.3 239.4,187.2 239.9,187.0 240.4,186.8 240.9,186.5 241.4,186.1 241.9,185.7 242.4,185.2 242.9,184.6 243.4,183.9 243.9,183.2 244.4,182.4 244.9,181.5 245.4,180.6 245.9,179.6 246.4,178.7 246.9,177.9 247.4,177.1 247.9,176.4 248.4,175.8 248.9,175.4 249.4,175.1 249.9,175.0 250.4,175.1 250.9,175.4 251.4,175.8 251.9,176.4 252.4,177.1 252.9,177.9 253.4,178.8 253.9,179.7 254.4,180.6 254.9,181.6 255.4,182.4 255.9,183.2 256.4,184.0 256.9,184.7 257.4,185.2 257.9,185.8 258.4,186.2 258.9,186.5 259.4,186.8 259.9,187.1 260.4,187.3 260.9,187.4 261.4,187.5 261.9,187.6 262.4,187.7 262.9,187.7 263.4,187.7 263.8,187.8 263.78,187.82" fill="#00adbb"/><polyline points="185.4,187.8 191.9,187.8 192.4,187.8 192.9,187.8 193.4,187.7 193.9,187.7 194.4,187.6 194.9,187.6 195.4,187.5 195.9,187.4 196.4,187.2 196.9,187.0 197.4,186.8 197.9,186.6 198.4,186.3 198.9,185.9 199.4,185.6 199.9,185.1 200.4,184.7 200.9,184.3 201.4,183.8 201.9,183.4 202.4,182.9 202.9,182.6 203.4,182.3 203.9,182.0 204.4,181.9 204.9,181.8 205.4,181.8 205.9,181.9 206.4,182.1 206.9,182.4 207.4,182.7 207.9,183.0 208.4,183.4 208.9,183.7 209.4,184.0 209.9,184.3 210.4,184.6 210.9,184.8 211.4,184.9 211.9,185.0 212.4,185.1 212.9,185.2 213.4,185.2 213.9,185.2 214.4,185.2 214.9,185.2 215.4,185.1 215.9,185.1 216.4,185.0 216.9,184.9 217.4,184.8 217.9,184.6 218.4,184.4 218.9,184.2 219.4,183.9 219.9,183.7 220.4,183.4 220.9,183.1 221.4,182.8 221.9,182.5 222.4,182.3 222.9,182.1 223.4,181.9 223.9,181.9 224.4,181.8 224.9,181.8 225.4,181.9 225.9,182.1 226.4,182.2 226.9,182.5 227.4,182.8 227.9,183.1 228.4,183.4 228.9,183.8 229.4,184.1 229.9,184.5 230.4,184.8 230.9,185.2 231.4,185.5 231.9,185.8 232.4,186.1 232.9,186.4 233.4,186.6 233.9,186.8 234.4,187.0 234.9,187.1 235.4,187.2 235.9,187.3 236.4,187.4 236.9,187.4 237.4,187.5 237.9,187.4 238.4,187.4 238.9,187.3 239.4,187.2 239.9,187.0 240.4,186.8 240.9,186.5 241.4,186.1 241.9,185.7 242.4,185.2 242.9,184.6 243.4,183.9 243.9,183.2 244.4,182.4 244.9,181.5 245.4,180.6 245.9,179.6 246.4,178.7 246.9,177.9 247.4,177.1 247.9,176.4 248.4,175.8 248.9,175.4 249.4,175.1 249.9,175.0 250.4,175.1 250.9,175.4 251.4,175.8 251.9,176.4 252.4,177.1 252.9,177.9 253.4,178.8 253.9,179.7 254.4,180.6 254.9,181.6 255.4,182.4 255.9,183.2 256.4,184.0 256.9,184.7 257.4,185.2 257.9,185.8 258.4,186.2 258.9,186.5 259.4,186.8 259.9,187.1 260.4,187.3 260.9,187.4 261.4,187.5 261.9,187.6 262.4,187.7 262.9,187.7 263.4,187.7 263.8,187.8" fill="none" stroke="#262626" stroke-width="1.15" stroke-linejoin="round"/><polygon points="185.42,201.66 185.4,201.7 186.4,201.7 186.9,201.6 187.4,201.5 187.9,201.3 188.4,201.0 188.9,200.8 189.4,200.5 189.9,200.1 190.4,199.7 190.9,199.1 191.4,198.5 191.9,197.8 192.4,197.0 192.9,196.2 193.4,195.2 193.9,193.9 194.4,192.4 194.9,190.9 195.4,189.4 195.9,187.9 196.4,186.4 196.9,184.9 197.4,183.4 197.9,182.1 198.4,180.9 198.9,179.9 199.4,179.0 199.9,178.2 200.4,177.8 200.9,177.5 201.4,177.4 201.9,177.5 202.4,177.8 202.9,178.3 203.4,179.4 203.9,180.5 204.4,181.7 204.9,183.1 205.4,184.4 205.9,185.8 206.4,187.3 206.9,188.8 207.4,190.4 207.9,191.8 208.4,193.1 208.9,194.2 209.4,195.3 209.9,196.4 210.4,197.3 210.9,198.2 211.4,199.0 211.9,199.8 212.4,200.6 212.9,201.1 213.4,201.4 213.9,201.5 214.4,201.6 214.9,201.7 263.8,201.7 263.78,201.66" fill="#00adbb"/><polyline points="185.4,201.7 186.4,201.7 186.9,201.6 187.4,201.5 187.9,201.3 188.4,201.0 188.9,200.8 189.4,200.5 189.9,200.1 190.4,199.7 190.9,199.1 191.4,198.5 191.9,197.8 192.4,197.0 192.9,196.2 193.4,195.2 193.9,193.9 194.4,192.4 194.9,190.9 195.4,189.4 195.9,187.9 196.4,186.4 196.9,184.9 197.4,183.4 197.9,182.1 198.4,180.9 198.9,179.9 199.4,179.0 199.9,178.2 200.4,177.8 200.9,177.5 201.4,177.4 201.9,177.5 202.4,177.8 202.9,178.3 203.4,179.4 203.9,180.5 204.4,181.7 204.9,183.1 205.4,184.4 205.9,185.8 206.4,187.3 206.9,188.8 207.4,190.4 207.9,191.8 208.4,193.1 208.9,194.2 209.4,195.3 209.9,196.4 210.4,197.3 210.9,198.2 211.4,199.0 211.9,199.8 212.4,200.6 212.9,201.1 213.4,201.4 213.9,201.5 214.4,201.6 214.9,201.7 263.8,201.7" fill="none" stroke="#262626" stroke-width="1.15" stroke-linejoin="round"/><polygon points="185.42,215.5 185.4,215.5 185.9,215.5 186.4,215.5 186.9,215.4 187.4,215.4 187.9,215.4 188.4,215.3 188.9,215.3 189.4,215.2 189.9,215.1 190.4,214.9 190.9,214.8 191.4,214.6 191.9,214.3 192.4,214.0 192.9,213.6 193.4,213.2 193.9,212.7 194.4,212.1 194.9,211.4 195.4,210.6 195.9,209.8 196.4,208.8 196.9,207.8 197.4,206.7 197.9,205.6 198.4,204.4 198.9,203.2 199.4,202.0 199.9,200.8 200.4,199.7 200.9,198.7 201.4,197.8 201.9,197.1 202.4,196.4 202.9,196.0 203.4,195.8 203.9,195.7 204.4,195.9 204.9,196.2 205.4,196.7 205.9,197.4 206.4,198.2 206.9,199.2 207.4,200.3 207.9,201.4 208.4,202.6 208.9,203.8 209.4,205.0 209.9,206.1 210.4,207.3 210.9,208.3 211.4,209.3 211.9,210.2 212.4,211.0 212.9,211.7 213.4,212.4 213.9,212.9 214.4,213.4 214.9,213.8 215.4,214.2 215.9,214.5 216.4,214.7 216.9,214.9 217.4,215.0 217.9,215.1 218.4,215.2 218.9,215.3 219.4,215.3 219.9,215.4 220.4,215.4 220.9,215.4 221.4,215.5 221.9,215.5 263.8,215.5 263.78,215.5" fill="#00adbb"/><polyline points="185.4,215.5 185.9,215.5 186.4,215.5 186.9,215.4 187.4,215.4 187.9,215.4 188.4,215.3 188.9,215.3 189.4,215.2 189.9,215.1 190.4,214.9 190.9,214.8 191.4,214.6 191.9,214.3 192.4,214.0 192.9,213.6 193.4,213.2 193.9,212.7 194.4,212.1 194.9,211.4 195.4,210.6 195.9,209.8 196.4,208.8 196.9,207.8 197.4,206.7 197.9,205.6 198.4,204.4 198.9,203.2 199.4,202.0 199.9,200.8 200.4,199.7 200.9,198.7 201.4,197.8 201.9,197.1 202.4,196.4 202.9,196.0 203.4,195.8 203.9,195.7 204.4,195.9 204.9,196.2 205.4,196.7 205.9,197.4 206.4,198.2 206.9,199.2 207.4,200.3 207.9,201.4 208.4,202.6 208.9,203.8 209.4,205.0 209.9,206.1 210.4,207.3 210.9,208.3 211.4,209.3 211.9,210.2 212.4,211.0 212.9,211.7 213.4,212.4 213.9,212.9 214.4,213.4 214.9,213.8 215.4,214.2 215.9,214.5 216.4,214.7 216.9,214.9 217.4,215.0 217.9,215.1 218.4,215.2 218.9,215.3 219.4,215.3 219.9,215.4 220.4,215.4 220.9,215.4 221.4,215.5 221.9,215.5 263.8,215.5" fill="none" stroke="#262626" stroke-width="1.15" stroke-linejoin="round"/><path d="M181.5,130.8V224.2H267.7" fill="none" stroke="#3a3a3a" stroke-width="0.9"/><path d="M178.9,146.3H181.5" stroke="#3a3a3a" stroke-width="0.9"/><text x="177.7" y="150.1" class="yl">Smoky</text><path d="M178.9,160.14H181.5" stroke="#3a3a3a" stroke-width="0.9"/><text x="177.7" y="163.94" class="yl">Rose</text><path d="M178.9,173.98H181.5" stroke="#3a3a3a" stroke-width="0.9"/><text x="177.7" y="177.78" class="yl">Milky</text><path d="M178.9,187.82H181.5" stroke="#3a3a3a" stroke-width="0.9"/><text x="177.7" y="191.62" class="yl">Ferriferous</text><path d="M178.9,201.66H181.5" stroke="#3a3a3a" stroke-width="0.9"/><text x="177.7" y="205.46" class="yl" style="letter-spacing:-0.3px">Hyaline</text><path d="M178.9,215.5H181.5" stroke="#3a3a3a" stroke-width="0.9"/><text x="177.7" y="219.3" class="yl">Amethyst</text><path d="M196.3,224.2V226.8" stroke="#3a3a3a" stroke-width="0.9"/><text x="196.3" y="234.3" class="xl">0</text><path d="M236.5,224.2V226.8" stroke="#3a3a3a" stroke-width="0.9"/><text x="236.5" y="234.3" class="xl">5000</text><text x="229.8" y="244.3" class="tt"><tspan class="el">K</tspan><tspan class="sb" dy="2.6">2</tspan><tspan class="el" dy="-2.6">O</tspan><tspan class="un"> (mg kg</tspan><tspan class="sp" dy="-3.6">−1</tspan><tspan class="un" dy="3.6">)</tspan></text></g>
<g><polygon points="321.02,153.1 321,153.0 321.5,152.9 322,152.8 322.5,152.5 323,152.1 323.5,151.5 324,150.5 324.5,149.1 325,147.2 325.5,144.9 326,142.2 326.5,139.2 327,136.2 327.5,133.6 328,131.5 328.5,130.3 329,130.1 329.5,131.0 330,132.8 330.5,135.2 331,138.0 331.5,140.9 332,143.7 332.5,146.1 333,148.0 333.5,149.6 334,150.7 334.5,151.5 335,152.0 335.5,152.4 336,152.6 336.5,152.8 337,152.9 337.5,153.0 338,153.0 338.5,153.0 339,153.1 339.5,153.1 399.4,153.1 399.38,153.1" fill="#00adbb"/><polyline points="321,153.0 321.5,152.9 322,152.8 322.5,152.5 323,152.1 323.5,151.5 324,150.5 324.5,149.1 325,147.2 325.5,144.9 326,142.2 326.5,139.2 327,136.2 327.5,133.6 328,131.5 328.5,130.3 329,130.1 329.5,131.0 330,132.8 330.5,135.2 331,138.0 331.5,140.9 332,143.7 332.5,146.1 333,148.0 333.5,149.6 334,150.7 334.5,151.5 335,152.0 335.5,152.4 336,152.6 336.5,152.8 337,152.9 337.5,153.0 338,153.0 338.5,153.0 339,153.1 339.5,153.1 399.4,153.1" fill="none" stroke="#262626" stroke-width="1.15" stroke-linejoin="round"/><polygon points="321.02,165.8 321,165.7 321.5,165.7 322,165.6 322.5,165.4 323,165.1 323.5,164.6 324,163.8 324.5,162.8 325,161.4 325.5,159.6 326,157.6 326.5,155.3 327,153.1 327.5,151.2 328,149.7 328.5,148.8 329,148.8 329.5,149.5 330,150.9 330.5,152.9 331,155.1 331.5,157.3 332,159.4 332.5,161.2 333,162.6 333.5,163.7 334,164.5 334.5,165.0 335,165.4 335.5,165.6 336,165.7 336.5,165.7 337,165.8 362,165.8 362.5,165.7 363,165.7 363.5,165.6 364,165.5 364.5,165.4 365,165.2 365.5,165.0 366,164.7 366.5,164.4 367,164.1 367.5,163.9 368,163.7 368.5,163.7 369,163.8 369.5,163.9 370,164.1 370.5,164.4 371,164.7 371.5,165.0 372,165.2 372.5,165.4 373,165.5 373.5,165.6 374,165.7 374.5,165.8 375,165.8 385,165.8 385.5,165.7 386,165.7 386.5,165.6 387,165.5 387.5,165.4 388,165.2 388.5,165.0 389,164.7 389.5,164.4 390,164.1 390.5,163.9 391,163.7 391.5,163.7 392,163.8 392.5,163.9 393,164.1 393.5,164.4 394,164.7 394.5,165.0 395,165.2 395.5,165.4 396,165.5 396.5,165.6 397,165.7 397.5,165.8 398,165.8 399.4,165.8 399.38,165.8" fill="#00adbb"/><polyline points="321,165.7 321.5,165.7 322,165.6 322.5,165.4 323,165.1 323.5,164.6 324,163.8 324.5,162.8 325,161.4 325.5,159.6 326,157.6 326.5,155.3 327,153.1 327.5,151.2 328,149.7 328.5,148.8 329,148.8 329.5,149.5 330,150.9 330.5,152.9 331,155.1 331.5,157.3 332,159.4 332.5,161.2 333,162.6 333.5,163.7 334,164.5 334.5,165.0 335,165.4 335.5,165.6 336,165.7 336.5,165.7 337,165.8 362,165.8 362.5,165.7 363,165.7 363.5,165.6 364,165.5 364.5,165.4 365,165.2 365.5,165.0 366,164.7 366.5,164.4 367,164.1 367.5,163.9 368,163.7 368.5,163.7 369,163.8 369.5,163.9 370,164.1 370.5,164.4 371,164.7 371.5,165.0 372,165.2 372.5,165.4 373,165.5 373.5,165.6 374,165.7 374.5,165.8 375,165.8 385,165.8 385.5,165.7 386,165.7 386.5,165.6 387,165.5 387.5,165.4 388,165.2 388.5,165.0 389,164.7 389.5,164.4 390,164.1 390.5,163.9 391,163.7 391.5,163.7 392,163.8 392.5,163.9 393,164.1 393.5,164.4 394,164.7 394.5,165.0 395,165.2 395.5,165.4 396,165.5 396.5,165.6 397,165.7 397.5,165.8 398,165.8 399.4,165.8" fill="none" stroke="#262626" stroke-width="1.15" stroke-linejoin="round"/><polygon points="321.02,178.5 321,178.4 321.5,178.4 322,178.2 322.5,178.0 323,177.5 323.5,176.9 324,175.9 324.5,174.5 325,172.7 325.5,170.4 326,167.7 326.5,164.8 327,161.9 327.5,159.3 328,157.4 328.5,156.3 329,156.2 329.5,157.2 330,159.0 330.5,161.6 331,164.4 331.5,167.4 332,170.1 332.5,172.4 333,174.3 333.5,175.8 334,176.8 334.5,177.5 335,177.9 335.5,178.2 336,178.3 336.5,178.4 337,178.5 337.5,178.5 399.4,178.5 399.38,178.5" fill="#00adbb"/><polyline points="321,178.4 321.5,178.4 322,178.2 322.5,178.0 323,177.5 323.5,176.9 324,175.9 324.5,174.5 325,172.7 325.5,170.4 326,167.7 326.5,164.8 327,161.9 327.5,159.3 328,157.4 328.5,156.3 329,156.2 329.5,157.2 330,159.0 330.5,161.6 331,164.4 331.5,167.4 332,170.1 332.5,172.4 333,174.3 333.5,175.8 334,176.8 334.5,177.5 335,177.9 335.5,178.2 336,178.3 336.5,178.4 337,178.5 337.5,178.5 399.4,178.5" fill="none" stroke="#262626" stroke-width="1.15" stroke-linejoin="round"/><polygon points="321.02,191.2 321,191.1 321.5,191.0 322,190.9 322.5,190.7 323,190.2 323.5,189.6 324,188.6 324.5,187.2 325,185.3 325.5,183.0 326,180.3 326.5,177.4 327,174.4 327.5,171.8 328,169.9 328.5,168.8 329,168.7 329.5,169.7 330,171.6 330.5,174.1 331,177.0 331.5,180.0 332,182.7 332.5,185.1 333,187.0 333.5,188.4 334,189.5 334.5,190.2 335,190.6 335.5,190.9 336,191.0 336.5,191.1 337,191.2 337.5,191.2 399.4,191.2 399.38,191.2" fill="#00adbb"/><polyline points="321,191.1 321.5,191.0 322,190.9 322.5,190.7 323,190.2 323.5,189.6 324,188.6 324.5,187.2 325,185.3 325.5,183.0 326,180.3 326.5,177.4 327,174.4 327.5,171.8 328,169.9 328.5,168.8 329,168.7 329.5,169.7 330,171.6 330.5,174.1 331,177.0 331.5,180.0 332,182.7 332.5,185.1 333,187.0 333.5,188.4 334,189.5 334.5,190.2 335,190.6 335.5,190.9 336,191.0 336.5,191.1 337,191.2 337.5,191.2 399.4,191.2" fill="none" stroke="#262626" stroke-width="1.15" stroke-linejoin="round"/><polygon points="321.02,203.9 321,203.8 321.5,203.8 322,203.6 322.5,203.4 323,202.9 323.5,202.3 324,201.3 324.5,199.9 325,198.1 325.5,195.8 326,193.1 326.5,190.2 327,187.3 327.5,184.7 328,182.8 328.5,181.7 329,181.6 329.5,182.6 330,184.4 330.5,187.0 331,189.8 331.5,192.8 332,195.5 332.5,197.8 333,199.7 333.5,201.2 334,202.2 334.5,202.9 335,203.3 335.5,203.6 336,203.7 336.5,203.8 337,203.9 337.5,203.9 399.4,203.9 399.38,203.9" fill="#00adbb"/><polyline points="321,203.8 321.5,203.8 322,203.6 322.5,203.4 323,202.9 323.5,202.3 324,201.3 324.5,199.9 325,198.1 325.5,195.8 326,193.1 326.5,190.2 327,187.3 327.5,184.7 328,182.8 328.5,181.7 329,181.6 329.5,182.6 330,184.4 330.5,187.0 331,189.8 331.5,192.8 332,195.5 332.5,197.8 333,199.7 333.5,201.2 334,202.2 334.5,202.9 335,203.3 335.5,203.6 336,203.7 336.5,203.8 337,203.9 337.5,203.9 399.4,203.9" fill="none" stroke="#262626" stroke-width="1.15" stroke-linejoin="round"/><polygon points="321.02,216.6 321,216.5 321.5,216.5 322,216.3 322.5,216.1 323,215.7 323.5,215.0 324,214.0 324.5,212.7 325,210.8 325.5,208.6 326,205.9 326.5,203.0 327,200.1 327.5,197.6 328,195.6 328.5,194.6 329,194.5 329.5,195.5 330,197.3 330.5,199.8 331,202.7 331.5,205.6 332,208.3 332.5,210.6 333,212.5 333.5,213.9 334,214.9 334.5,215.6 335,216.0 335.5,216.3 336,216.4 336.5,216.5 337,216.6 337.5,216.6 399.4,216.6 399.38,216.6" fill="#00adbb"/><polyline points="321,216.5 321.5,216.5 322,216.3 322.5,216.1 323,215.7 323.5,215.0 324,214.0 324.5,212.7 325,210.8 325.5,208.6 326,205.9 326.5,203.0 327,200.1 327.5,197.6 328,195.6 328.5,194.6 329,194.5 329.5,195.5 330,197.3 330.5,199.8 331,202.7 331.5,205.6 332,208.3 332.5,210.6 333,212.5 333.5,213.9 334,214.9 334.5,215.6 335,216.0 335.5,216.3 336,216.4 336.5,216.5 337,216.6 337.5,216.6 399.4,216.6" fill="none" stroke="#262626" stroke-width="1.15" stroke-linejoin="round"/><path d="M317.1,130.8V224.2H403.3" fill="none" stroke="#3a3a3a" stroke-width="0.9"/><path d="M314.5,153.1H317.1" stroke="#3a3a3a" stroke-width="0.9"/><text x="313.3" y="156.9" class="yl">Smoky</text><path d="M314.5,165.8H317.1" stroke="#3a3a3a" stroke-width="0.9"/><text x="313.3" y="169.6" class="yl">Rose</text><path d="M314.5,178.5H317.1" stroke="#3a3a3a" stroke-width="0.9"/><text x="313.3" y="182.3" class="yl">Milky</text><path d="M314.5,191.2H317.1" stroke="#3a3a3a" stroke-width="0.9"/><text x="313.3" y="195" class="yl">Ferriferous</text><path d="M314.5,203.9H317.1" stroke="#3a3a3a" stroke-width="0.9"/><text x="313.3" y="207.7" class="yl" style="letter-spacing:-0.3px">Hyaline</text><path d="M314.5,216.6H317.1" stroke="#3a3a3a" stroke-width="0.9"/><text x="313.3" y="220.4" class="yl">Amethyst</text><path d="M328.2,224.2V226.8" stroke="#3a3a3a" stroke-width="0.9"/><text x="328.2" y="234.3" class="xl">0</text><path d="M365.5,224.2V226.8" stroke="#3a3a3a" stroke-width="0.9"/><text x="365.5" y="234.3" class="xl">70</text><path d="M400.9,224.2V226.8" stroke="#3a3a3a" stroke-width="0.9"/><text x="400.9" y="234.3" class="xl">140</text><text x="368.2" y="244.3" class="tt"><tspan class="el">Mn</tspan><tspan class="un"> (mg kg</tspan><tspan class="sp" dy="-3.6">−1</tspan><tspan class="un" dy="3.6">)</tspan></text></g>
<g><polygon points="457.52,145.6 457.5,145.6 466,145.6 466.5,145.6 467,145.6 467.5,145.5 468,145.5 468.5,145.5 469,145.4 469.5,145.4 470,145.3 470.5,145.3 471,145.2 471.5,145.1 472,144.9 472.5,144.8 473,144.6 473.5,144.4 474,144.1 474.5,143.8 475,143.5 475.5,143.1 476,142.8 476.5,142.4 477,141.9 477.5,141.5 478,141.0 478.5,140.6 479,140.1 479.5,139.7 480,139.3 480.5,138.9 481,138.6 481.5,138.4 482,138.2 482.5,138.0 483,137.9 483.5,137.9 484,138.0 484.5,138.1 485,138.3 485.5,138.5 486,138.7 486.5,138.9 487,139.1 487.5,139.4 488,139.5 488.5,139.7 489,139.8 489.5,139.8 490,139.7 490.5,139.6 491,139.4 491.5,139.1 492,138.8 492.5,138.3 493,137.8 493.5,137.3 494,136.7 494.5,136.1 495,135.5 495.5,134.9 496,134.3 496.5,133.7 497,133.2 497.5,132.8 498,132.4 498.5,132.1 499,131.9 499.5,131.8 500,131.7 500.5,131.8 501,131.9 501.5,132.1 502,132.3 502.5,132.6 503,132.9 503.5,133.3 504,133.6 504.5,134.0 505,134.3 505.5,134.7 506,135.0 506.5,135.4 507,135.7 507.5,136.1 508,136.5 508.5,136.8 509,137.2 509.5,137.6 510,138.0 510.5,138.5 511,138.9 511.5,139.3 512,139.7 512.5,140.1 513,140.4 513.5,140.7 514,141.0 514.5,141.2 515,141.3 515.5,141.4 516,141.5 516.5,141.5 517,141.5 517.5,141.5 518,141.5 518.5,141.4 519,141.4 519.5,141.4 520,141.5 520.5,141.5 521,141.6 521.5,141.7 522,141.9 522.5,142.1 523,142.3 523.5,142.5 524,142.7 524.5,142.9 525,143.2 525.5,143.4 526,143.7 526.5,143.9 527,144.1 527.5,144.3 528,144.5 528.5,144.7 529,144.8 529.5,144.9 530,145.1 530.5,145.2 531,145.2 531.5,145.3 532,145.4 532.5,145.4 533,145.5 533.5,145.5 534,145.5 534.5,145.5 535,145.6 535.5,145.6 535.9,145.6 535.88,145.6" fill="#00adbb"/><polyline points="457.5,145.6 466,145.6 466.5,145.6 467,145.6 467.5,145.5 468,145.5 468.5,145.5 469,145.4 469.5,145.4 470,145.3 470.5,145.3 471,145.2 471.5,145.1 472,144.9 472.5,144.8 473,144.6 473.5,144.4 474,144.1 474.5,143.8 475,143.5 475.5,143.1 476,142.8 476.5,142.4 477,141.9 477.5,141.5 478,141.0 478.5,140.6 479,140.1 479.5,139.7 480,139.3 480.5,138.9 481,138.6 481.5,138.4 482,138.2 482.5,138.0 483,137.9 483.5,137.9 484,138.0 484.5,138.1 485,138.3 485.5,138.5 486,138.7 486.5,138.9 487,139.1 487.5,139.4 488,139.5 488.5,139.7 489,139.8 489.5,139.8 490,139.7 490.5,139.6 491,139.4 491.5,139.1 492,138.8 492.5,138.3 493,137.8 493.5,137.3 494,136.7 494.5,136.1 495,135.5 495.5,134.9 496,134.3 496.5,133.7 497,133.2 497.5,132.8 498,132.4 498.5,132.1 499,131.9 499.5,131.8 500,131.7 500.5,131.8 501,131.9 501.5,132.1 502,132.3 502.5,132.6 503,132.9 503.5,133.3 504,133.6 504.5,134.0 505,134.3 505.5,134.7 506,135.0 506.5,135.4 507,135.7 507.5,136.1 508,136.5 508.5,136.8 509,137.2 509.5,137.6 510,138.0 510.5,138.5 511,138.9 511.5,139.3 512,139.7 512.5,140.1 513,140.4 513.5,140.7 514,141.0 514.5,141.2 515,141.3 515.5,141.4 516,141.5 516.5,141.5 517,141.5 517.5,141.5 518,141.5 518.5,141.4 519,141.4 519.5,141.4 520,141.5 520.5,141.5 521,141.6 521.5,141.7 522,141.9 522.5,142.1 523,142.3 523.5,142.5 524,142.7 524.5,142.9 525,143.2 525.5,143.4 526,143.7 526.5,143.9 527,144.1 527.5,144.3 528,144.5 528.5,144.7 529,144.8 529.5,144.9 530,145.1 530.5,145.2 531,145.2 531.5,145.3 532,145.4 532.5,145.4 533,145.5 533.5,145.5 534,145.5 534.5,145.5 535,145.6 535.5,145.6 535.9,145.6" fill="none" stroke="#262626" stroke-width="1.15" stroke-linejoin="round"/><polygon points="457.52,159.48 457.5,159.5 468.5,159.5 469,159.4 469.5,159.4 470,159.4 470.5,159.3 471,159.3 471.5,159.2 472,159.1 472.5,159.0 473,158.8 473.5,158.6 474,158.3 474.5,157.9 475,157.5 475.5,157.1 476,156.5 476.5,155.9 477,155.2 477.5,154.4 478,153.7 478.5,152.9 479,152.0 479.5,151.3 480,150.5 480.5,149.9 481,149.3 481.5,148.8 482,148.4 482.5,148.2 483,148.1 483.5,148.1 484,148.1 484.5,148.3 485,148.5 485.5,148.8 486,149.0 486.5,149.3 487,149.5 487.5,149.7 488,149.8 488.5,149.9 489,149.9 489.5,149.9 490,149.9 490.5,149.8 491,149.7 491.5,149.6 492,149.5 492.5,149.3 493,149.2 493.5,149.0 494,148.9 494.5,148.8 495,148.7 495.5,148.5 496,148.4 496.5,148.3 497,148.2 497.5,148.2 498,148.1 498.5,148.1 499,148.1 499.5,148.1 500,148.1 500.5,148.2 501,148.3 501.5,148.4 502,148.5 502.5,148.6 503,148.8 503.5,149.0 504,149.2 504.5,149.5 505,149.7 505.5,150.0 506,150.3 506.5,150.7 507,151.0 507.5,151.4 508,151.8 508.5,152.2 509,152.7 509.5,153.1 510,153.5 510.5,154.0 511,154.4 511.5,154.9 512,155.3 512.5,155.7 513,156.1 513.5,156.5 514,156.9 514.5,157.2 515,157.5 515.5,157.8 516,158.1 516.5,158.3 517,158.5 517.5,158.6 518,158.8 518.5,158.9 519,159.0 519.5,159.1 520,159.2 520.5,159.3 521,159.3 521.5,159.3 522,159.4 522.5,159.4 523,159.4 523.5,159.4 524,159.4 524.5,159.5 535.9,159.5 535.88,159.48" fill="#00adbb"/><polyline points="457.5,159.5 468.5,159.5 469,159.4 469.5,159.4 470,159.4 470.5,159.3 471,159.3 471.5,159.2 472,159.1 472.5,159.0 473,158.8 473.5,158.6 474,158.3 474.5,157.9 475,157.5 475.5,157.1 476,156.5 476.5,155.9 477,155.2 477.5,154.4 478,153.7 478.5,152.9 479,152.0 479.5,151.3 480,150.5 480.5,149.9 481,149.3 481.5,148.8 482,148.4 482.5,148.2 483,148.1 483.5,148.1 484,148.1 484.5,148.3 485,148.5 485.5,148.8 486,149.0 486.5,149.3 487,149.5 487.5,149.7 488,149.8 488.5,149.9 489,149.9 489.5,149.9 490,149.9 490.5,149.8 491,149.7 491.5,149.6 492,149.5 492.5,149.3 493,149.2 493.5,149.0 494,148.9 494.5,148.8 495,148.7 495.5,148.5 496,148.4 496.5,148.3 497,148.2 497.5,148.2 498,148.1 498.5,148.1 499,148.1 499.5,148.1 500,148.1 500.5,148.2 501,148.3 501.5,148.4 502,148.5 502.5,148.6 503,148.8 503.5,149.0 504,149.2 504.5,149.5 505,149.7 505.5,150.0 506,150.3 506.5,150.7 507,151.0 507.5,151.4 508,151.8 508.5,152.2 509,152.7 509.5,153.1 510,153.5 510.5,154.0 511,154.4 511.5,154.9 512,155.3 512.5,155.7 513,156.1 513.5,156.5 514,156.9 514.5,157.2 515,157.5 515.5,157.8 516,158.1 516.5,158.3 517,158.5 517.5,158.6 518,158.8 518.5,158.9 519,159.0 519.5,159.1 520,159.2 520.5,159.3 521,159.3 521.5,159.3 522,159.4 522.5,159.4 523,159.4 523.5,159.4 524,159.4 524.5,159.5 535.9,159.5" fill="none" stroke="#262626" stroke-width="1.15" stroke-linejoin="round"/><polygon points="457.52,173.36 457.5,173.4 463,173.3 463.5,173.3 464,173.3 464.5,173.3 465,173.2 465.5,173.2 466,173.1 466.5,173.0 467,172.9 467.5,172.7 468,172.5 468.5,172.2 469,171.9 469.5,171.4 470,170.9 470.5,170.3 471,169.6 471.5,168.8 472,167.9 472.5,166.9 473,165.8 473.5,164.7 474,163.5 474.5,162.3 475,161.0 475.5,159.9 476,158.7 476.5,157.7 477,156.9 477.5,156.1 478,155.6 478.5,155.3 479,155.1 479.5,155.2 480,155.4 480.5,155.8 481,156.3 481.5,156.9 482,157.5 482.5,158.2 483,158.9 483.5,159.5 484,160.1 484.5,160.7 485,161.2 485.5,161.7 486,162.2 486.5,162.6 487,162.9 487.5,163.3 488,163.6 488.5,163.8 489,164.0 489.5,164.2 490,164.3 490.5,164.3 491,164.2 491.5,164.1 492,163.9 492.5,163.7 493,163.5 493.5,163.3 494,163.1 494.5,163.0 495,163.0 495.5,163.0 496,163.2 496.5,163.5 497,163.9 497.5,164.4 498,165.0 498.5,165.6 499,166.3 499.5,167.0 500,167.7 500.5,168.5 501,169.1 501.5,169.8 502,170.4 502.5,170.9 503,171.3 503.5,171.7 504,172.1 504.5,172.4 505,172.6 505.5,172.8 506,172.9 506.5,173.0 507,173.1 507.5,173.2 508,173.2 508.5,173.3 509,173.3 509.5,173.3 510,173.3 535.9,173.4 535.88,173.36" fill="#00adbb"/><polyline points="457.5,173.4 463,173.3 463.5,173.3 464,173.3 464.5,173.3 465,173.2 465.5,173.2 466,173.1 466.5,173.0 467,172.9 467.5,172.7 468,172.5 468.5,172.2 469,171.9 469.5,171.4 470,170.9 470.5,170.3 471,169.6 471.5,168.8 472,167.9 472.5,166.9 473,165.8 473.5,164.7 474,163.5 474.5,162.3 475,161.0 475.5,159.9 476,158.7 476.5,157.7 477,156.9 477.5,156.1 478,155.6 478.5,155.3 479,155.1 479.5,155.2 480,155.4 480.5,155.8 481,156.3 481.5,156.9 482,157.5 482.5,158.2 483,158.9 483.5,159.5 484,160.1 484.5,160.7 485,161.2 485.5,161.7 486,162.2 486.5,162.6 487,162.9 487.5,163.3 488,163.6 488.5,163.8 489,164.0 489.5,164.2 490,164.3 490.5,164.3 491,164.2 491.5,164.1 492,163.9 492.5,163.7 493,163.5 493.5,163.3 494,163.1 494.5,163.0 495,163.0 495.5,163.0 496,163.2 496.5,163.5 497,163.9 497.5,164.4 498,165.0 498.5,165.6 499,166.3 499.5,167.0 500,167.7 500.5,168.5 501,169.1 501.5,169.8 502,170.4 502.5,170.9 503,171.3 503.5,171.7 504,172.1 504.5,172.4 505,172.6 505.5,172.8 506,172.9 506.5,173.0 507,173.1 507.5,173.2 508,173.2 508.5,173.3 509,173.3 509.5,173.3 510,173.3 535.9,173.4" fill="none" stroke="#262626" stroke-width="1.15" stroke-linejoin="round"/><polygon points="457.52,187.24 457.5,187.2 461,187.2 461.5,187.2 462,187.2 462.5,187.2 463,187.1 463.5,187.1 464,187.0 464.5,187.0 465,186.9 465.5,186.8 466,186.6 466.5,186.5 467,186.3 467.5,186.0 468,185.8 468.5,185.5 469,185.1 469.5,184.7 470,184.3 470.5,183.9 471,183.4 471.5,182.9 472,182.5 472.5,182.0 473,181.5 473.5,181.1 474,180.8 474.5,180.5 475,180.2 475.5,180.1 476,180.0 476.5,180.0 477,180.0 477.5,180.2 478,180.4 478.5,180.6 479,180.9 479.5,181.2 480,181.5 480.5,181.8 481,182.1 481.5,182.3 482,182.5 482.5,182.7 483,182.8 483.5,182.8 484,182.8 484.5,182.7 485,182.5 485.5,182.3 486,182.0 486.5,181.7 487,181.3 487.5,180.9 488,180.5 488.5,180.0 489,179.5 489.5,179.0 490,178.4 490.5,177.9 491,177.4 491.5,176.9 492,176.4 492.5,175.9 493,175.5 493.5,175.1 494,174.7 494.5,174.4 495,174.1 495.5,173.9 496,173.7 496.5,173.5 497,173.4 497.5,173.3 498,173.3 498.5,173.3 499,173.3 499.5,173.4 500,173.5 500.5,173.6 501,173.7 501.5,173.8 502,174.0 502.5,174.2 503,174.4 503.5,174.7 504,175.0 504.5,175.3 505,175.7 505.5,176.2 506,176.7 506.5,177.2 507,177.8 507.5,178.5 508,179.1 508.5,179.8 509,180.5 509.5,181.2 510,181.8 510.5,182.5 511,183.1 511.5,183.6 512,184.1 512.5,184.6 513,185.0 513.5,185.4 514,185.7 514.5,185.9 515,186.2 515.5,186.4 516,186.5 516.5,186.7 517,186.8 517.5,186.9 518,186.9 518.5,187.0 519,187.0 519.5,187.1 520,187.1 520.5,187.1 521,187.2 521.5,187.2 522,187.2 522.5,187.2 523,187.2 523.5,187.2 535.9,187.2 535.88,187.24" fill="#00adbb"/><polyline points="457.5,187.2 461,187.2 461.5,187.2 462,187.2 462.5,187.2 463,187.1 463.5,187.1 464,187.0 464.5,187.0 465,186.9 465.5,186.8 466,186.6 466.5,186.5 467,186.3 467.5,186.0 468,185.8 468.5,185.5 469,185.1 469.5,184.7 470,184.3 470.5,183.9 471,183.4 471.5,182.9 472,182.5 472.5,182.0 473,181.5 473.5,181.1 474,180.8 474.5,180.5 475,180.2 475.5,180.1 476,180.0 476.5,180.0 477,180.0 477.5,180.2 478,180.4 478.5,180.6 479,180.9 479.5,181.2 480,181.5 480.5,181.8 481,182.1 481.5,182.3 482,182.5 482.5,182.7 483,182.8 483.5,182.8 484,182.8 484.5,182.7 485,182.5 485.5,182.3 486,182.0 486.5,181.7 487,181.3 487.5,180.9 488,180.5 488.5,180.0 489,179.5 489.5,179.0 490,178.4 490.5,177.9 491,177.4 491.5,176.9 492,176.4 492.5,175.9 493,175.5 493.5,175.1 494,174.7 494.5,174.4 495,174.1 495.5,173.9 496,173.7 496.5,173.5 497,173.4 497.5,173.3 498,173.3 498.5,173.3 499,173.3 499.5,173.4 500,173.5 500.5,173.6 501,173.7 501.5,173.8 502,174.0 502.5,174.2 503,174.4 503.5,174.7 504,175.0 504.5,175.3 505,175.7 505.5,176.2 506,176.7 506.5,177.2 507,177.8 507.5,178.5 508,179.1 508.5,179.8 509,180.5 509.5,181.2 510,181.8 510.5,182.5 511,183.1 511.5,183.6 512,184.1 512.5,184.6 513,185.0 513.5,185.4 514,185.7 514.5,185.9 515,186.2 515.5,186.4 516,186.5 516.5,186.7 517,186.8 517.5,186.9 518,186.9 518.5,187.0 519,187.0 519.5,187.1 520,187.1 520.5,187.1 521,187.2 521.5,187.2 522,187.2 522.5,187.2 523,187.2 523.5,187.2 535.9,187.2" fill="none" stroke="#262626" stroke-width="1.15" stroke-linejoin="round"/><polygon points="457.52,201.12 457.5,201.1 478,201.1 478.5,201.1 479,201.1 479.5,201.0 480,201.0 480.5,201.0 481,200.9 481.5,200.9 482,200.8 482.5,200.7 483,200.6 483.5,200.5 484,200.3 484.5,200.1 485,199.8 485.5,199.5 486,199.1 486.5,198.6 487,198.1 487.5,197.5 488,196.8 488.5,196.1 489,195.2 489.5,194.3 490,193.2 490.5,192.1 491,190.9 491.5,189.7 492,188.4 492.5,187.0 493,185.7 493.5,184.3 494,183.0 494.5,181.8 495,180.6 495.5,179.6 496,178.6 496.5,177.9 497,177.3 497.5,176.9 498,176.7 498.5,176.6 499,176.8 499.5,177.2 500,177.8 500.5,178.5 501,179.4 501.5,180.5 502,181.6 502.5,182.9 503,184.2 503.5,185.5 504,186.9 504.5,188.2 505,189.5 505.5,190.8 506,192.0 506.5,193.1 507,194.1 507.5,195.1 508,196.0 508.5,196.8 509,197.5 509.5,198.1 510,198.6 510.5,199.0 511,199.4 511.5,199.8 512,200.0 512.5,200.3 513,200.4 513.5,200.6 514,200.7 514.5,200.8 515,200.9 515.5,200.9 516,201.0 516.5,201.0 517,201.0 517.5,201.1 518,201.1 518.5,201.1 535.9,201.1 535.88,201.12" fill="#00adbb"/><polyline points="457.5,201.1 478,201.1 478.5,201.1 479,201.1 479.5,201.0 480,201.0 480.5,201.0 481,200.9 481.5,200.9 482,200.8 482.5,200.7 483,200.6 483.5,200.5 484,200.3 484.5,200.1 485,199.8 485.5,199.5 486,199.1 486.5,198.6 487,198.1 487.5,197.5 488,196.8 488.5,196.1 489,195.2 489.5,194.3 490,193.2 490.5,192.1 491,190.9 491.5,189.7 492,188.4 492.5,187.0 493,185.7 493.5,184.3 494,183.0 494.5,181.8 495,180.6 495.5,179.6 496,178.6 496.5,177.9 497,177.3 497.5,176.9 498,176.7 498.5,176.6 499,176.8 499.5,177.2 500,177.8 500.5,178.5 501,179.4 501.5,180.5 502,181.6 502.5,182.9 503,184.2 503.5,185.5 504,186.9 504.5,188.2 505,189.5 505.5,190.8 506,192.0 506.5,193.1 507,194.1 507.5,195.1 508,196.0 508.5,196.8 509,197.5 509.5,198.1 510,198.6 510.5,199.0 511,199.4 511.5,199.8 512,200.0 512.5,200.3 513,200.4 513.5,200.6 514,200.7 514.5,200.8 515,200.9 515.5,200.9 516,201.0 516.5,201.0 517,201.0 517.5,201.1 518,201.1 518.5,201.1 535.9,201.1" fill="none" stroke="#262626" stroke-width="1.15" stroke-linejoin="round"/><polygon points="457.52,215 457.5,215.0 470.5,215.0 471,215.0 471.5,214.9 472,214.9 472.5,214.8 473,214.8 473.5,214.6 474,214.4 474.5,214.1 475,213.7 475.5,213.1 476,212.4 476.5,211.5 477,210.4 477.5,209.0 478,207.5 478.5,205.8 479,203.9 479.5,202.0 480,200.1 480.5,198.4 481,196.9 481.5,195.7 482,195.0 482.5,194.6 483,194.7 483.5,195.2 484,196.0 484.5,197.1 485,198.4 485.5,199.7 486,201.0 486.5,202.2 487,203.3 487.5,204.1 488,204.8 488.5,205.4 489,205.8 489.5,206.2 490,206.4 490.5,206.7 491,206.9 491.5,207.0 492,207.2 492.5,207.3 493,207.3 493.5,207.2 494,207.1 494.5,207.0 495,206.8 495.5,206.5 496,206.3 496.5,206.1 497,206.0 497.5,205.9 498,205.9 498.5,206.0 499,206.2 499.5,206.5 500,206.9 500.5,207.3 501,207.8 501.5,208.4 502,209.0 502.5,209.6 503,210.2 503.5,210.8 504,211.3 504.5,211.8 505,212.3 505.5,212.8 506,213.2 506.5,213.5 507,213.8 507.5,214.0 508,214.2 508.5,214.4 509,214.6 509.5,214.7 510,214.7 510.5,214.8 511,214.9 511.5,214.9 512,214.9 512.5,215.0 513,215.0 513.5,215.0 535.9,215.0 535.88,215" fill="#00adbb"/><polyline points="457.5,215.0 470.5,215.0 471,215.0 471.5,214.9 472,214.9 472.5,214.8 473,214.8 473.5,214.6 474,214.4 474.5,214.1 475,213.7 475.5,213.1 476,212.4 476.5,211.5 477,210.4 477.5,209.0 478,207.5 478.5,205.8 479,203.9 479.5,202.0 480,200.1 480.5,198.4 481,196.9 481.5,195.7 482,195.0 482.5,194.6 483,194.7 483.5,195.2 484,196.0 484.5,197.1 485,198.4 485.5,199.7 486,201.0 486.5,202.2 487,203.3 487.5,204.1 488,204.8 488.5,205.4 489,205.8 489.5,206.2 490,206.4 490.5,206.7 491,206.9 491.5,207.0 492,207.2 492.5,207.3 493,207.3 493.5,207.2 494,207.1 494.5,207.0 495,206.8 495.5,206.5 496,206.3 496.5,206.1 497,206.0 497.5,205.9 498,205.9 498.5,206.0 499,206.2 499.5,206.5 500,206.9 500.5,207.3 501,207.8 501.5,208.4 502,209.0 502.5,209.6 503,210.2 503.5,210.8 504,211.3 504.5,211.8 505,212.3 505.5,212.8 506,213.2 506.5,213.5 507,213.8 507.5,214.0 508,214.2 508.5,214.4 509,214.6 509.5,214.7 510,214.7 510.5,214.8 511,214.9 511.5,214.9 512,214.9 512.5,215.0 513,215.0 513.5,215.0 535.9,215.0" fill="none" stroke="#262626" stroke-width="1.15" stroke-linejoin="round"/><path d="M453.6,130.8V224.2H539.8" fill="none" stroke="#3a3a3a" stroke-width="0.9"/><path d="M451,145.6H453.6" stroke="#3a3a3a" stroke-width="0.9"/><text x="449.8" y="149.4" class="yl">Smoky</text><path d="M451,159.48H453.6" stroke="#3a3a3a" stroke-width="0.9"/><text x="449.8" y="163.28" class="yl">Rose</text><path d="M451,173.36H453.6" stroke="#3a3a3a" stroke-width="0.9"/><text x="449.8" y="177.16" class="yl">Milky</text><path d="M451,187.24H453.6" stroke="#3a3a3a" stroke-width="0.9"/><text x="449.8" y="191.04" class="yl">Ferriferous</text><path d="M451,201.12H453.6" stroke="#3a3a3a" stroke-width="0.9"/><text x="449.8" y="204.92" class="yl" style="letter-spacing:-0.3px">Hyaline</text><path d="M451,215H453.6" stroke="#3a3a3a" stroke-width="0.9"/><text x="449.8" y="218.8" class="yl">Amethyst</text><path d="M461.4,224.2V226.8" stroke="#3a3a3a" stroke-width="0.9"/><text x="461.4" y="234.3" class="xl">500</text><path d="M491.9,224.2V226.8" stroke="#3a3a3a" stroke-width="0.9"/><text x="491.9" y="234.3" class="xl">1300</text><path d="M521.4,224.2V226.8" stroke="#3a3a3a" stroke-width="0.9"/><text x="521.4" y="234.3" class="xl">2100</text><text x="498.5" y="244.3" class="tt"><tspan class="el">P</tspan><tspan class="sb" dy="2.6">2</tspan><tspan class="el" dy="-2.6">O</tspan><tspan class="sb" dy="2.6">5</tspan><tspan class="un" dy="-2.6"> (mg kg</tspan><tspan class="sp" dy="-3.6">−1</tspan><tspan class="un" dy="3.6">)</tspan></text></g>
<g><polygon points="51.42,277.6 51.4,277.4 51.9,277.4 52.4,277.3 52.9,277.2 53.4,277.0 53.9,276.8 54.4,276.6 54.9,276.3 55.4,276.0 55.9,275.5 56.4,275.0 56.9,274.5 57.4,273.8 57.9,273.0 58.4,272.1 58.9,271.1 59.4,270.0 59.9,268.9 60.4,267.6 60.9,266.3 61.4,265.0 61.9,263.6 62.4,262.2 62.9,260.9 63.4,259.7 63.9,258.6 64.4,257.6 64.9,256.8 65.4,256.1 65.9,255.7 66.4,255.5 66.9,255.5 67.4,255.8 67.9,256.3 68.4,257.0 68.9,257.8 69.4,258.9 69.9,260.0 70.4,261.3 70.9,262.6 71.4,264.0 71.9,265.3 72.4,266.7 72.9,268.0 73.4,269.2 73.9,270.4 74.4,271.4 74.9,272.4 75.4,273.2 75.9,274.0 76.4,274.6 76.9,275.2 77.4,275.7 77.9,276.1 78.4,276.4 78.9,276.7 79.4,276.9 79.9,277.1 80.4,277.2 80.9,277.3 81.4,277.4 81.9,277.4 82.4,277.5 82.9,277.5 83.4,277.5 83.9,277.6 84.4,277.6 129.8,277.6 129.78,277.6" fill="#00adbb"/><polyline points="51.4,277.4 51.9,277.4 52.4,277.3 52.9,277.2 53.4,277.0 53.9,276.8 54.4,276.6 54.9,276.3 55.4,276.0 55.9,275.5 56.4,275.0 56.9,274.5 57.4,273.8 57.9,273.0 58.4,272.1 58.9,271.1 59.4,270.0 59.9,268.9 60.4,267.6 60.9,266.3 61.4,265.0 61.9,263.6 62.4,262.2 62.9,260.9 63.4,259.7 63.9,258.6 64.4,257.6 64.9,256.8 65.4,256.1 65.9,255.7 66.4,255.5 66.9,255.5 67.4,255.8 67.9,256.3 68.4,257.0 68.9,257.8 69.4,258.9 69.9,260.0 70.4,261.3 70.9,262.6 71.4,264.0 71.9,265.3 72.4,266.7 72.9,268.0 73.4,269.2 73.9,270.4 74.4,271.4 74.9,272.4 75.4,273.2 75.9,274.0 76.4,274.6 76.9,275.2 77.4,275.7 77.9,276.1 78.4,276.4 78.9,276.7 79.4,276.9 79.9,277.1 80.4,277.2 80.9,277.3 81.4,277.4 81.9,277.4 82.4,277.5 82.9,277.5 83.4,277.5 83.9,277.6 84.4,277.6 129.8,277.6" fill="none" stroke="#262626" stroke-width="1.15" stroke-linejoin="round"/><polygon points="51.42,290.26 51.4,290.1 51.9,290.0 52.4,289.9 52.9,289.8 53.4,289.7 53.9,289.5 54.4,289.3 54.9,289.0 55.4,288.6 55.9,288.2 56.4,287.7 56.9,287.2 57.4,286.5 57.9,285.7 58.4,284.8 58.9,283.9 59.4,282.8 59.9,281.7 60.4,280.4 60.9,279.1 61.4,277.8 61.9,276.4 62.4,275.1 62.9,273.8 63.4,272.6 63.9,271.5 64.4,270.5 64.9,269.7 65.4,269.1 65.9,268.7 66.4,268.5 66.9,268.5 67.4,268.8 67.9,269.2 68.4,269.9 68.9,270.8 69.4,271.8 69.9,272.9 70.4,274.2 70.9,275.5 71.4,276.8 71.9,278.2 72.4,279.5 72.9,280.8 73.4,282.0 73.9,283.1 74.4,284.2 74.9,285.1 75.4,285.9 75.9,286.7 76.4,287.3 76.9,287.9 77.4,288.4 77.9,288.7 78.4,289.1 78.9,289.3 79.4,289.5 79.9,289.7 80.4,289.9 80.9,290.0 81.4,290.0 81.9,290.1 82.4,290.1 82.9,290.2 83.4,290.2 83.9,290.2 84.4,290.2 129.8,290.3 129.78,290.26" fill="#00adbb"/><polyline points="51.4,290.1 51.9,290.0 52.4,289.9 52.9,289.8 53.4,289.7 53.9,289.5 54.4,289.3 54.9,289.0 55.4,288.6 55.9,288.2 56.4,287.7 56.9,287.2 57.4,286.5 57.9,285.7 58.4,284.8 58.9,283.9 59.4,282.8 59.9,281.7 60.4,280.4 60.9,279.1 61.4,277.8 61.9,276.4 62.4,275.1 62.9,273.8 63.4,272.6 63.9,271.5 64.4,270.5 64.9,269.7 65.4,269.1 65.9,268.7 66.4,268.5 66.9,268.5 67.4,268.8 67.9,269.2 68.4,269.9 68.9,270.8 69.4,271.8 69.9,272.9 70.4,274.2 70.9,275.5 71.4,276.8 71.9,278.2 72.4,279.5 72.9,280.8 73.4,282.0 73.9,283.1 74.4,284.2 74.9,285.1 75.4,285.9 75.9,286.7 76.4,287.3 76.9,287.9 77.4,288.4 77.9,288.7 78.4,289.1 78.9,289.3 79.4,289.5 79.9,289.7 80.4,289.9 80.9,290.0 81.4,290.0 81.9,290.1 82.4,290.1 82.9,290.2 83.4,290.2 83.9,290.2 84.4,290.2 129.8,290.3" fill="none" stroke="#262626" stroke-width="1.15" stroke-linejoin="round"/><polygon points="51.42,302.92 51.4,302.7 51.9,302.7 52.4,302.6 52.9,302.5 53.4,302.3 53.9,302.1 54.4,301.9 54.9,301.6 55.4,301.3 55.9,300.8 56.4,300.3 56.9,299.7 57.4,299.0 57.9,298.2 58.4,297.3 58.9,296.3 59.4,295.2 59.9,294.0 60.4,292.8 60.9,291.4 61.4,290.1 61.9,288.7 62.4,287.3 62.9,285.9 63.4,284.7 63.9,283.5 64.4,282.5 64.9,281.7 65.4,281.1 65.9,280.6 66.4,280.4 66.9,280.5 67.4,280.7 67.9,281.2 68.4,281.9 68.9,282.8 69.4,283.9 69.9,285.0 70.4,286.3 70.9,287.7 71.4,289.1 71.9,290.4 72.4,291.8 72.9,293.1 73.4,294.4 73.9,295.5 74.4,296.6 74.9,297.6 75.4,298.5 75.9,299.2 76.4,299.9 76.9,300.5 77.4,301.0 77.9,301.4 78.4,301.7 78.9,302.0 79.4,302.2 79.9,302.4 80.4,302.5 80.9,302.6 81.4,302.7 81.9,302.8 82.4,302.8 82.9,302.8 83.4,302.9 83.9,302.9 84.4,302.9 84.9,302.9 129.8,302.9 129.78,302.92" fill="#00adbb"/><polyline points="51.4,302.7 51.9,302.7 52.4,302.6 52.9,302.5 53.4,302.3 53.9,302.1 54.4,301.9 54.9,301.6 55.4,301.3 55.9,300.8 56.4,300.3 56.9,299.7 57.4,299.0 57.9,298.2 58.4,297.3 58.9,296.3 59.4,295.2 59.9,294.0 60.4,292.8 60.9,291.4 61.4,290.1 61.9,288.7 62.4,287.3 62.9,285.9 63.4,284.7 63.9,283.5 64.4,282.5 64.9,281.7 65.4,281.1 65.9,280.6 66.4,280.4 66.9,280.5 67.4,280.7 67.9,281.2 68.4,281.9 68.9,282.8 69.4,283.9 69.9,285.0 70.4,286.3 70.9,287.7 71.4,289.1 71.9,290.4 72.4,291.8 72.9,293.1 73.4,294.4 73.9,295.5 74.4,296.6 74.9,297.6 75.4,298.5 75.9,299.2 76.4,299.9 76.9,300.5 77.4,301.0 77.9,301.4 78.4,301.7 78.9,302.0 79.4,302.2 79.9,302.4 80.4,302.5 80.9,302.6 81.4,302.7 81.9,302.8 82.4,302.8 82.9,302.8 83.4,302.9 83.9,302.9 84.4,302.9 84.9,302.9 129.8,302.9" fill="none" stroke="#262626" stroke-width="1.15" stroke-linejoin="round"/><polygon points="51.42,315.58 51.4,315.4 51.9,315.3 52.4,315.3 52.9,315.2 53.4,315.0 53.9,314.8 54.4,314.6 54.9,314.4 55.4,314.0 55.9,313.6 56.4,313.2 56.9,312.6 57.4,311.9 57.9,311.2 58.4,310.4 58.9,309.4 59.4,308.4 59.9,307.3 60.4,306.1 60.9,304.9 61.4,303.6 61.9,302.3 62.4,301.0 62.9,299.7 63.4,298.6 63.9,297.5 64.4,296.6 64.9,295.8 65.4,295.2 65.9,294.8 66.4,294.6 66.9,294.6 67.4,294.9 67.9,295.3 68.4,296.0 68.9,296.8 69.4,297.8 69.9,298.9 70.4,300.1 70.9,301.3 71.4,302.6 71.9,303.9 72.4,305.2 72.9,306.4 73.4,307.6 73.9,308.7 74.4,309.7 74.9,310.6 75.4,311.4 75.9,312.1 76.4,312.8 76.9,313.3 77.4,313.7 77.9,314.1 78.4,314.4 78.9,314.7 79.4,314.9 79.9,315.1 80.4,315.2 80.9,315.3 81.4,315.4 81.9,315.4 82.4,315.5 82.9,315.5 83.4,315.5 83.9,315.5 84.4,315.6 129.8,315.6 129.78,315.58" fill="#00adbb"/><polyline points="51.4,315.4 51.9,315.3 52.4,315.3 52.9,315.2 53.4,315.0 53.9,314.8 54.4,314.6 54.9,314.4 55.4,314.0 55.9,313.6 56.4,313.2 56.9,312.6 57.4,311.9 57.9,311.2 58.4,310.4 58.9,309.4 59.4,308.4 59.9,307.3 60.4,306.1 60.9,304.9 61.4,303.6 61.9,302.3 62.4,301.0 62.9,299.7 63.4,298.6 63.9,297.5 64.4,296.6 64.9,295.8 65.4,295.2 65.9,294.8 66.4,294.6 66.9,294.6 67.4,294.9 67.9,295.3 68.4,296.0 68.9,296.8 69.4,297.8 69.9,298.9 70.4,300.1 70.9,301.3 71.4,302.6 71.9,303.9 72.4,305.2 72.9,306.4 73.4,307.6 73.9,308.7 74.4,309.7 74.9,310.6 75.4,311.4 75.9,312.1 76.4,312.8 76.9,313.3 77.4,313.7 77.9,314.1 78.4,314.4 78.9,314.7 79.4,314.9 79.9,315.1 80.4,315.2 80.9,315.3 81.4,315.4 81.9,315.4 82.4,315.5 82.9,315.5 83.4,315.5 83.9,315.5 84.4,315.6 129.8,315.6" fill="none" stroke="#262626" stroke-width="1.15" stroke-linejoin="round"/><polygon points="51.42,328.24 51.4,328.1 51.9,328.0 52.4,327.9 52.9,327.8 53.4,327.7 53.9,327.5 54.4,327.3 54.9,327.1 55.4,326.8 55.9,326.4 56.4,325.9 56.9,325.4 57.4,324.8 57.9,324.1 58.4,323.3 58.9,322.4 59.4,321.4 59.9,320.3 60.4,319.2 60.9,318.0 61.4,316.7 61.9,315.5 62.4,314.3 62.9,313.1 63.4,312.0 63.9,310.9 64.4,310.0 64.9,309.3 65.4,308.7 65.9,308.3 66.4,308.2 66.9,308.2 67.4,308.4 67.9,308.9 68.4,309.5 68.9,310.3 69.4,311.2 69.9,312.3 70.4,313.4 70.9,314.6 71.4,315.8 71.9,317.1 72.4,318.3 72.9,319.5 73.4,320.6 73.9,321.7 74.4,322.6 74.9,323.5 75.4,324.3 75.9,324.9 76.4,325.5 76.9,326.1 77.4,326.5 77.9,326.8 78.4,327.1 78.9,327.4 79.4,327.6 79.9,327.7 80.4,327.9 80.9,328.0 81.4,328.0 81.9,328.1 82.4,328.1 82.9,328.2 83.4,328.2 83.9,328.2 84.4,328.2 90.4,328.2 90.9,328.2 91.4,328.2 91.9,328.2 92.4,328.1 92.9,328.1 93.4,328.0 93.9,328.0 94.4,327.9 94.9,327.8 95.4,327.7 95.9,327.5 96.4,327.4 96.9,327.2 97.4,327.0 97.9,326.8 98.4,326.6 98.9,326.4 99.4,326.2 99.9,326.0 100.4,325.8 100.9,325.7 101.4,325.6 101.9,325.5 102.4,325.4 102.9,325.4 103.4,325.5 103.9,325.6 104.4,325.7 104.9,325.9 105.4,326.1 105.9,326.3 106.4,326.5 106.9,326.7 107.4,326.9 107.9,327.1 108.4,327.3 108.9,327.4 109.4,327.6 109.9,327.7 110.4,327.8 110.9,327.9 111.4,328.0 111.9,328.1 112.4,328.1 112.9,328.1 113.4,328.2 113.9,328.2 114.4,328.2 114.9,328.2 129.8,328.2 129.78,328.24" fill="#00adbb"/><polyline points="51.4,328.1 51.9,328.0 52.4,327.9 52.9,327.8 53.4,327.7 53.9,327.5 54.4,327.3 54.9,327.1 55.4,326.8 55.9,326.4 56.4,325.9 56.9,325.4 57.4,324.8 57.9,324.1 58.4,323.3 58.9,322.4 59.4,321.4 59.9,320.3 60.4,319.2 60.9,318.0 61.4,316.7 61.9,315.5 62.4,314.3 62.9,313.1 63.4,312.0 63.9,310.9 64.4,310.0 64.9,309.3 65.4,308.7 65.9,308.3 66.4,308.2 66.9,308.2 67.4,308.4 67.9,308.9 68.4,309.5 68.9,310.3 69.4,311.2 69.9,312.3 70.4,313.4 70.9,314.6 71.4,315.8 71.9,317.1 72.4,318.3 72.9,319.5 73.4,320.6 73.9,321.7 74.4,322.6 74.9,323.5 75.4,324.3 75.9,324.9 76.4,325.5 76.9,326.1 77.4,326.5 77.9,326.8 78.4,327.1 78.9,327.4 79.4,327.6 79.9,327.7 80.4,327.9 80.9,328.0 81.4,328.0 81.9,328.1 82.4,328.1 82.9,328.2 83.4,328.2 83.9,328.2 84.4,328.2 90.4,328.2 90.9,328.2 91.4,328.2 91.9,328.2 92.4,328.1 92.9,328.1 93.4,328.0 93.9,328.0 94.4,327.9 94.9,327.8 95.4,327.7 95.9,327.5 96.4,327.4 96.9,327.2 97.4,327.0 97.9,326.8 98.4,326.6 98.9,326.4 99.4,326.2 99.9,326.0 100.4,325.8 100.9,325.7 101.4,325.6 101.9,325.5 102.4,325.4 102.9,325.4 103.4,325.5 103.9,325.6 104.4,325.7 104.9,325.9 105.4,326.1 105.9,326.3 106.4,326.5 106.9,326.7 107.4,326.9 107.9,327.1 108.4,327.3 108.9,327.4 109.4,327.6 109.9,327.7 110.4,327.8 110.9,327.9 111.4,328.0 111.9,328.1 112.4,328.1 112.9,328.1 113.4,328.2 113.9,328.2 114.4,328.2 114.9,328.2 129.8,328.2" fill="none" stroke="#262626" stroke-width="1.15" stroke-linejoin="round"/><polygon points="51.42,340.9 51.4,340.7 51.9,340.7 52.4,340.6 52.9,340.5 53.4,340.4 53.9,340.2 54.4,340.0 54.9,339.7 55.4,339.4 55.9,339.0 56.4,338.6 56.9,338.1 57.4,337.4 57.9,336.7 58.4,335.9 58.9,335.0 59.4,334.1 59.9,333.0 60.4,331.9 60.9,330.7 61.4,329.5 61.9,328.2 62.4,327.0 62.9,325.8 63.4,324.7 63.9,323.7 64.4,322.8 64.9,322.0 65.4,321.5 65.9,321.1 66.4,320.9 66.9,320.9 67.4,321.2 67.9,321.6 68.4,322.2 68.9,323.0 69.4,324.0 69.9,325.0 70.4,326.1 70.9,327.3 71.4,328.6 71.9,329.8 72.4,331.0 72.9,332.2 73.4,333.3 73.9,334.3 74.4,335.3 74.9,336.2 75.4,336.9 75.9,337.6 76.4,338.2 76.9,338.7 77.4,339.2 77.9,339.5 78.4,339.8 78.9,340.1 79.4,340.2 79.9,340.4 80.4,340.5 80.9,340.6 81.4,340.7 81.9,340.7 82.4,340.8 82.9,340.8 83.4,340.8 83.9,340.9 84.4,340.9 101.9,340.9 102.4,340.9 102.9,340.8 103.4,340.8 103.9,340.8 104.4,340.8 104.9,340.7 105.4,340.7 105.9,340.6 106.4,340.5 106.9,340.4 107.4,340.3 107.9,340.1 108.4,340.0 108.9,339.8 109.4,339.6 109.9,339.5 110.4,339.3 110.9,339.1 111.4,338.9 111.9,338.7 112.4,338.6 112.9,338.5 113.4,338.4 113.9,338.4 114.4,338.4 114.9,338.5 115.4,338.5 115.9,338.6 116.4,338.8 116.9,339.0 117.4,339.1 117.9,339.3 118.4,339.5 118.9,339.7 119.4,339.9 119.9,340.0 120.4,340.2 120.9,340.3 121.4,340.4 121.9,340.5 122.4,340.6 122.9,340.7 123.4,340.7 123.9,340.8 124.4,340.8 124.9,340.8 125.4,340.9 125.9,340.9 126.4,340.9 129.8,340.9 129.78,340.9" fill="#00adbb"/><polyline points="51.4,340.7 51.9,340.7 52.4,340.6 52.9,340.5 53.4,340.4 53.9,340.2 54.4,340.0 54.9,339.7 55.4,339.4 55.9,339.0 56.4,338.6 56.9,338.1 57.4,337.4 57.9,336.7 58.4,335.9 58.9,335.0 59.4,334.1 59.9,333.0 60.4,331.9 60.9,330.7 61.4,329.5 61.9,328.2 62.4,327.0 62.9,325.8 63.4,324.7 63.9,323.7 64.4,322.8 64.9,322.0 65.4,321.5 65.9,321.1 66.4,320.9 66.9,320.9 67.4,321.2 67.9,321.6 68.4,322.2 68.9,323.0 69.4,324.0 69.9,325.0 70.4,326.1 70.9,327.3 71.4,328.6 71.9,329.8 72.4,331.0 72.9,332.2 73.4,333.3 73.9,334.3 74.4,335.3 74.9,336.2 75.4,336.9 75.9,337.6 76.4,338.2 76.9,338.7 77.4,339.2 77.9,339.5 78.4,339.8 78.9,340.1 79.4,340.2 79.9,340.4 80.4,340.5 80.9,340.6 81.4,340.7 81.9,340.7 82.4,340.8 82.9,340.8 83.4,340.8 83.9,340.9 84.4,340.9 101.9,340.9 102.4,340.9 102.9,340.8 103.4,340.8 103.9,340.8 104.4,340.8 104.9,340.7 105.4,340.7 105.9,340.6 106.4,340.5 106.9,340.4 107.4,340.3 107.9,340.1 108.4,340.0 108.9,339.8 109.4,339.6 109.9,339.5 110.4,339.3 110.9,339.1 111.4,338.9 111.9,338.7 112.4,338.6 112.9,338.5 113.4,338.4 113.9,338.4 114.4,338.4 114.9,338.5 115.4,338.5 115.9,338.6 116.4,338.8 116.9,339.0 117.4,339.1 117.9,339.3 118.4,339.5 118.9,339.7 119.4,339.9 119.9,340.0 120.4,340.2 120.9,340.3 121.4,340.4 121.9,340.5 122.4,340.6 122.9,340.7 123.4,340.7 123.9,340.8 124.4,340.8 124.9,340.8 125.4,340.9 125.9,340.9 126.4,340.9 129.8,340.9" fill="none" stroke="#262626" stroke-width="1.15" stroke-linejoin="round"/><path d="M47.5,255.5V348.5H133.7" fill="none" stroke="#3a3a3a" stroke-width="0.9"/><path d="M44.9,277.6H47.5" stroke="#3a3a3a" stroke-width="0.9"/><text x="43.7" y="281.4" class="yl">Smoky</text><path d="M44.9,290.26H47.5" stroke="#3a3a3a" stroke-width="0.9"/><text x="43.7" y="294.06" class="yl">Rose</text><path d="M44.9,302.92H47.5" stroke="#3a3a3a" stroke-width="0.9"/><text x="43.7" y="306.72" class="yl">Milky</text><path d="M44.9,315.58H47.5" stroke="#3a3a3a" stroke-width="0.9"/><text x="43.7" y="319.38" class="yl">Ferriferous</text><path d="M44.9,328.24H47.5" stroke="#3a3a3a" stroke-width="0.9"/><text x="43.7" y="332.04" class="yl" style="letter-spacing:-0.3px">Hyaline</text><path d="M44.9,340.9H47.5" stroke="#3a3a3a" stroke-width="0.9"/><text x="43.7" y="344.7" class="yl">Amethyst</text><path d="M66.4,348.5V351.1" stroke="#3a3a3a" stroke-width="0.9"/><text x="66.4" y="358.6" class="xl">0</text><path d="M90,348.5V351.1" stroke="#3a3a3a" stroke-width="0.9"/><text x="90" y="358.6" class="xl">4</text><path d="M113.6,348.5V351.1" stroke="#3a3a3a" stroke-width="0.9"/><text x="113.6" y="358.6" class="xl">8</text><text x="94.3" y="368.6" class="tt"><tspan class="el">Rb</tspan><tspan class="un"> (mg kg</tspan><tspan class="sp" dy="-3.6">−1</tspan><tspan class="un" dy="3.6">)</tspan></text></g>
<g><polygon points="185.42,275 185.4,274.9 185.9,274.9 186.4,274.8 186.9,274.6 187.4,274.3 187.9,274.0 188.4,273.5 188.9,272.8 189.4,271.8 189.9,270.6 190.4,269.2 190.9,267.5 191.4,265.7 191.9,263.7 192.4,261.8 192.9,259.9 193.4,258.4 193.9,257.2 194.4,256.4 194.9,256.2 195.4,256.5 195.9,257.3 196.4,258.4 196.9,259.8 197.4,261.4 197.9,263.1 198.4,264.7 198.9,266.2 199.4,267.6 199.9,268.8 200.4,269.9 200.9,270.8 201.4,271.6 201.9,272.2 202.4,272.8 202.9,273.3 203.4,273.7 203.9,274.0 204.4,274.3 204.9,274.5 205.4,274.6 205.9,274.8 206.4,274.8 206.9,274.9 207.4,274.9 207.9,275.0 208.4,275.0 263.8,275.0 263.78,275" fill="#00adbb"/><polyline points="185.4,274.9 185.9,274.9 186.4,274.8 186.9,274.6 187.4,274.3 187.9,274.0 188.4,273.5 188.9,272.8 189.4,271.8 189.9,270.6 190.4,269.2 190.9,267.5 191.4,265.7 191.9,263.7 192.4,261.8 192.9,259.9 193.4,258.4 193.9,257.2 194.4,256.4 194.9,256.2 195.4,256.5 195.9,257.3 196.4,258.4 196.9,259.8 197.4,261.4 197.9,263.1 198.4,264.7 198.9,266.2 199.4,267.6 199.9,268.8 200.4,269.9 200.9,270.8 201.4,271.6 201.9,272.2 202.4,272.8 202.9,273.3 203.4,273.7 203.9,274.0 204.4,274.3 204.9,274.5 205.4,274.6 205.9,274.8 206.4,274.8 206.9,274.9 207.4,274.9 207.9,275.0 208.4,275.0 263.8,275.0" fill="none" stroke="#262626" stroke-width="1.15" stroke-linejoin="round"/><polygon points="185.42,288.06 185.4,288.1 186.9,288.0 187.4,288.0 187.9,288.0 188.4,287.9 188.9,287.8 189.4,287.7 189.9,287.4 190.4,287.0 190.9,286.5 191.4,285.8 191.9,284.9 192.4,283.7 192.9,282.4 193.4,280.8 193.9,279.2 194.4,277.6 194.9,276.1 195.4,274.8 195.9,273.9 196.4,273.5 196.9,273.5 197.4,274.0 197.9,274.9 198.4,276.0 198.9,277.3 199.4,278.7 199.9,280.0 200.4,281.2 200.9,282.2 201.4,283.1 201.9,283.8 202.4,284.4 202.9,284.8 203.4,285.2 203.9,285.6 204.4,285.9 204.9,286.1 205.4,286.4 205.9,286.6 206.4,286.9 206.9,287.1 207.4,287.2 207.9,287.4 208.4,287.5 208.9,287.6 209.4,287.7 209.9,287.8 210.4,287.9 210.9,287.9 211.4,288.0 211.9,288.0 212.4,288.0 212.9,288.0 213.4,288.0 219.4,288.0 219.9,288.0 220.4,288.0 220.9,287.9 221.4,287.8 221.9,287.7 222.4,287.5 222.9,287.3 223.4,287.0 223.9,286.7 224.4,286.4 224.9,286.0 225.4,285.7 225.9,285.4 226.4,285.2 226.9,285.2 227.4,285.2 227.9,285.3 228.4,285.6 228.9,285.9 229.4,286.2 229.9,286.6 230.4,286.9 230.9,287.2 231.4,287.5 231.9,287.6 232.4,287.8 232.9,287.9 233.4,288.0 233.9,288.0 234.4,288.0 234.9,288.0 247.4,288.0 247.9,288.0 248.4,288.0 248.9,287.9 249.4,287.9 249.9,287.8 250.4,287.7 250.9,287.5 251.4,287.4 251.9,287.2 252.4,286.9 252.9,286.6 253.4,286.3 253.9,286.1 254.4,285.8 254.9,285.5 255.4,285.3 255.9,285.2 256.4,285.2 256.9,285.2 257.4,285.3 257.9,285.5 258.4,285.7 258.9,286.0 259.4,286.3 259.9,286.5 260.4,286.8 260.9,287.1 261.4,287.3 261.9,287.5 262.4,287.6 262.9,287.8 263.4,287.9 263.8,287.9 263.78,288.06" fill="#00adbb"/><polyline points="185.4,288.1 186.9,288.0 187.4,288.0 187.9,288.0 188.4,287.9 188.9,287.8 189.4,287.7 189.9,287.4 190.4,287.0 190.9,286.5 191.4,285.8 191.9,284.9 192.4,283.7 192.9,282.4 193.4,280.8 193.9,279.2 194.4,277.6 194.9,276.1 195.4,274.8 195.9,273.9 196.4,273.5 196.9,273.5 197.4,274.0 197.9,274.9 198.4,276.0 198.9,277.3 199.4,278.7 199.9,280.0 200.4,281.2 200.9,282.2 201.4,283.1 201.9,283.8 202.4,284.4 202.9,284.8 203.4,285.2 203.9,285.6 204.4,285.9 204.9,286.1 205.4,286.4 205.9,286.6 206.4,286.9 206.9,287.1 207.4,287.2 207.9,287.4 208.4,287.5 208.9,287.6 209.4,287.7 209.9,287.8 210.4,287.9 210.9,287.9 211.4,288.0 211.9,288.0 212.4,288.0 212.9,288.0 213.4,288.0 219.4,288.0 219.9,288.0 220.4,288.0 220.9,287.9 221.4,287.8 221.9,287.7 222.4,287.5 222.9,287.3 223.4,287.0 223.9,286.7 224.4,286.4 224.9,286.0 225.4,285.7 225.9,285.4 226.4,285.2 226.9,285.2 227.4,285.2 227.9,285.3 228.4,285.6 228.9,285.9 229.4,286.2 229.9,286.6 230.4,286.9 230.9,287.2 231.4,287.5 231.9,287.6 232.4,287.8 232.9,287.9 233.4,288.0 233.9,288.0 234.4,288.0 234.9,288.0 247.4,288.0 247.9,288.0 248.4,288.0 248.9,287.9 249.4,287.9 249.9,287.8 250.4,287.7 250.9,287.5 251.4,287.4 251.9,287.2 252.4,286.9 252.9,286.6 253.4,286.3 253.9,286.1 254.4,285.8 254.9,285.5 255.4,285.3 255.9,285.2 256.4,285.2 256.9,285.2 257.4,285.3 257.9,285.5 258.4,285.7 258.9,286.0 259.4,286.3 259.9,286.5 260.4,286.8 260.9,287.1 261.4,287.3 261.9,287.5 262.4,287.6 262.9,287.8 263.4,287.9 263.8,287.9" fill="none" stroke="#262626" stroke-width="1.15" stroke-linejoin="round"/><polygon points="185.42,301.12 185.4,301.1 188.9,301.1 189.4,301.1 189.9,301.0 190.4,301.0 190.9,300.9 191.4,300.8 191.9,300.5 192.4,299.9 192.9,299.2 193.4,298.4 193.9,297.4 194.4,296.2 194.9,294.9 195.4,293.2 195.9,291.4 196.4,289.8 196.9,288.6 197.4,288.9 197.9,289.5 198.4,290.5 198.9,291.8 199.4,293.0 199.9,293.8 200.4,294.4 200.9,294.9 201.4,295.2 201.9,295.4 202.4,295.5 202.9,295.5 203.4,295.6 203.9,295.6 204.4,295.7 204.9,295.7 205.4,295.7 205.9,295.8 206.4,295.8 206.9,295.8 207.4,295.8 207.9,295.8 208.4,295.9 208.9,295.9 209.4,296.0 209.9,296.1 210.4,296.3 210.9,296.5 211.4,296.8 211.9,297.2 212.4,297.7 212.9,298.3 213.4,298.8 213.9,299.4 214.4,299.9 214.9,300.3 215.4,300.6 215.9,300.8 216.4,300.9 216.9,301.0 217.4,301.1 263.8,301.1 263.78,301.12" fill="#00adbb"/><polyline points="185.4,301.1 188.9,301.1 189.4,301.1 189.9,301.0 190.4,301.0 190.9,300.9 191.4,300.8 191.9,300.5 192.4,299.9 192.9,299.2 193.4,298.4 193.9,297.4 194.4,296.2 194.9,294.9 195.4,293.2 195.9,291.4 196.4,289.8 196.9,288.6 197.4,288.9 197.9,289.5 198.4,290.5 198.9,291.8 199.4,293.0 199.9,293.8 200.4,294.4 200.9,294.9 201.4,295.2 201.9,295.4 202.4,295.5 202.9,295.5 203.4,295.6 203.9,295.6 204.4,295.7 204.9,295.7 205.4,295.7 205.9,295.8 206.4,295.8 206.9,295.8 207.4,295.8 207.9,295.8 208.4,295.9 208.9,295.9 209.4,296.0 209.9,296.1 210.4,296.3 210.9,296.5 211.4,296.8 211.9,297.2 212.4,297.7 212.9,298.3 213.4,298.8 213.9,299.4 214.4,299.9 214.9,300.3 215.4,300.6 215.9,300.8 216.4,300.9 216.9,301.0 217.4,301.1 263.8,301.1" fill="none" stroke="#262626" stroke-width="1.15" stroke-linejoin="round"/><polygon points="185.42,314.18 185.4,314.2 186.4,314.2 186.9,314.1 187.4,314.1 187.9,314.0 188.4,313.9 188.9,313.8 189.4,313.5 189.9,313.2 190.4,312.9 190.9,312.4 191.4,311.8 191.9,311.2 192.4,310.6 192.9,310.0 193.4,309.4 193.9,309.0 194.4,308.7 194.9,308.6 195.4,308.6 195.9,308.8 196.4,309.0 196.9,309.3 197.4,309.6 197.9,309.9 198.4,310.2 198.9,310.5 199.4,310.7 199.9,310.9 200.4,311.1 200.9,311.2 201.4,311.2 201.9,311.0 202.4,310.8 202.9,310.4 203.4,310.0 203.9,309.5 204.4,309.1 204.9,308.7 205.4,308.5 205.9,308.4 206.4,308.6 206.9,308.9 207.4,309.3 207.9,309.8 208.4,310.3 208.9,310.9 209.4,311.3 209.9,311.7 210.4,312.1 210.9,312.3 211.4,312.5 211.9,312.5 212.4,312.5 212.9,312.4 213.4,312.2 213.9,311.8 214.4,311.2 214.9,310.4 215.4,309.4 215.9,308.3 216.4,307.1 216.9,305.9 217.4,304.8 217.9,303.9 218.4,303.3 218.9,303.2 219.4,303.4 219.9,304.0 220.4,304.9 220.9,306.0 221.4,307.3 221.9,308.6 222.4,309.8 222.9,310.9 223.4,311.8 223.9,312.5 224.4,313.0 224.9,313.4 225.4,313.7 225.9,313.9 226.4,314.0 226.9,314.1 227.4,314.1 227.9,314.2 263.8,314.2 263.78,314.18" fill="#00adbb"/><polyline points="185.4,314.2 186.4,314.2 186.9,314.1 187.4,314.1 187.9,314.0 188.4,313.9 188.9,313.8 189.4,313.5 189.9,313.2 190.4,312.9 190.9,312.4 191.4,311.8 191.9,311.2 192.4,310.6 192.9,310.0 193.4,309.4 193.9,309.0 194.4,308.7 194.9,308.6 195.4,308.6 195.9,308.8 196.4,309.0 196.9,309.3 197.4,309.6 197.9,309.9 198.4,310.2 198.9,310.5 199.4,310.7 199.9,310.9 200.4,311.1 200.9,311.2 201.4,311.2 201.9,311.0 202.4,310.8 202.9,310.4 203.4,310.0 203.9,309.5 204.4,309.1 204.9,308.7 205.4,308.5 205.9,308.4 206.4,308.6 206.9,308.9 207.4,309.3 207.9,309.8 208.4,310.3 208.9,310.9 209.4,311.3 209.9,311.7 210.4,312.1 210.9,312.3 211.4,312.5 211.9,312.5 212.4,312.5 212.9,312.4 213.4,312.2 213.9,311.8 214.4,311.2 214.9,310.4 215.4,309.4 215.9,308.3 216.4,307.1 216.9,305.9 217.4,304.8 217.9,303.9 218.4,303.3 218.9,303.2 219.4,303.4 219.9,304.0 220.4,304.9 220.9,306.0 221.4,307.3 221.9,308.6 222.4,309.8 222.9,310.9 223.4,311.8 223.9,312.5 224.4,313.0 224.9,313.4 225.4,313.7 225.9,313.9 226.4,314.0 226.9,314.1 227.4,314.1 227.9,314.2 263.8,314.2" fill="none" stroke="#262626" stroke-width="1.15" stroke-linejoin="round"/><polygon points="185.42,327.24 185.4,327.2 186.4,327.2 186.9,327.2 187.4,327.1 187.9,326.9 188.4,326.6 188.9,326.1 189.4,325.1 189.9,323.7 190.4,321.7 190.9,319.0 191.4,315.8 191.9,312.3 192.4,309.0 192.9,306.2 193.4,304.5 193.9,304.1 194.4,305.1 194.9,307.4 195.4,310.5 195.9,314.0 196.4,317.4 196.9,320.4 197.4,322.7 197.9,324.5 198.4,325.6 198.9,326.4 199.4,326.8 199.9,327.0 200.4,327.1 200.9,327.2 201.4,327.2 263.8,327.2 263.78,327.24" fill="#00adbb"/><polyline points="185.4,327.2 186.4,327.2 186.9,327.2 187.4,327.1 187.9,326.9 188.4,326.6 188.9,326.1 189.4,325.1 189.9,323.7 190.4,321.7 190.9,319.0 191.4,315.8 191.9,312.3 192.4,309.0 192.9,306.2 193.4,304.5 193.9,304.1 194.4,305.1 194.9,307.4 195.4,310.5 195.9,314.0 196.4,317.4 196.9,320.4 197.4,322.7 197.9,324.5 198.4,325.6 198.9,326.4 199.4,326.8 199.9,327.0 200.4,327.1 200.9,327.2 201.4,327.2 263.8,327.2" fill="none" stroke="#262626" stroke-width="1.15" stroke-linejoin="round"/><polygon points="185.42,340.3 185.4,340.0 185.9,340.0 186.4,339.9 186.9,339.8 187.4,339.6 187.9,339.4 188.4,339.1 188.9,338.7 189.4,338.2 189.9,337.5 190.4,336.5 190.9,335.2 191.4,333.7 191.9,331.9 192.4,329.8 192.9,327.7 193.4,325.6 193.9,323.6 194.4,322.1 194.9,321.0 195.4,320.5 195.9,320.7 196.4,321.6 196.9,323.0 197.4,324.8 197.9,326.8 198.4,328.9 198.9,331.0 199.4,332.9 199.9,334.5 200.4,335.8 200.9,336.9 201.4,337.7 201.9,338.3 202.4,338.8 202.9,339.1 203.4,339.4 203.9,339.6 204.4,339.7 204.9,339.8 205.4,339.9 205.9,340.0 206.4,340.0 206.9,340.1 207.4,340.1 207.9,340.2 208.4,340.2 208.9,340.2 209.4,340.2 209.9,340.3 210.4,340.3 210.9,340.3 263.8,340.3 263.78,340.3" fill="#00adbb"/><polyline points="185.4,340.0 185.9,340.0 186.4,339.9 186.9,339.8 187.4,339.6 187.9,339.4 188.4,339.1 188.9,338.7 189.4,338.2 189.9,337.5 190.4,336.5 190.9,335.2 191.4,333.7 191.9,331.9 192.4,329.8 192.9,327.7 193.4,325.6 193.9,323.6 194.4,322.1 194.9,321.0 195.4,320.5 195.9,320.7 196.4,321.6 196.9,323.0 197.4,324.8 197.9,326.8 198.4,328.9 198.9,331.0 199.4,332.9 199.9,334.5 200.4,335.8 200.9,336.9 201.4,337.7 201.9,338.3 202.4,338.8 202.9,339.1 203.4,339.4 203.9,339.6 204.4,339.7 204.9,339.8 205.4,339.9 205.9,340.0 206.4,340.0 206.9,340.1 207.4,340.1 207.9,340.2 208.4,340.2 208.9,340.2 209.4,340.2 209.9,340.3 210.4,340.3 210.9,340.3 263.8,340.3" fill="none" stroke="#262626" stroke-width="1.15" stroke-linejoin="round"/><path d="M181.5,255.5V348.5H267.7" fill="none" stroke="#3a3a3a" stroke-width="0.9"/><path d="M178.9,275H181.5" stroke="#3a3a3a" stroke-width="0.9"/><text x="177.7" y="278.8" class="yl">Smoky</text><path d="M178.9,288.06H181.5" stroke="#3a3a3a" stroke-width="0.9"/><text x="177.7" y="291.86" class="yl">Rose</text><path d="M178.9,301.12H181.5" stroke="#3a3a3a" stroke-width="0.9"/><text x="177.7" y="304.92" class="yl">Milky</text><path d="M178.9,314.18H181.5" stroke="#3a3a3a" stroke-width="0.9"/><text x="177.7" y="317.98" class="yl">Ferriferous</text><path d="M178.9,327.24H181.5" stroke="#3a3a3a" stroke-width="0.9"/><text x="177.7" y="331.04" class="yl" style="letter-spacing:-0.3px">Hyaline</text><path d="M178.9,340.3H181.5" stroke="#3a3a3a" stroke-width="0.9"/><text x="177.7" y="344.1" class="yl">Amethyst</text><path d="M193.2,348.5V351.1" stroke="#3a3a3a" stroke-width="0.9"/><text x="193.2" y="358.6" class="xl">0</text><path d="M220.5,348.5V351.1" stroke="#3a3a3a" stroke-width="0.9"/><text x="220.5" y="358.6" class="xl">10<tspan dx="-0.9">,</tspan><tspan dx="-0.9">000</tspan></text><path d="M247.7,348.5V351.1" stroke="#3a3a3a" stroke-width="0.9"/><text x="247.7" y="358.6" class="xl">20<tspan dx="-0.9">,</tspan><tspan dx="-0.9">000</tspan></text><text x="227.4" y="368.6" class="tt"><tspan class="el">S</tspan><tspan class="un"> (mg kg</tspan><tspan class="sp" dy="-3.6">−1</tspan><tspan class="un" dy="3.6">)</tspan></text></g>
<g><polygon points="321.02,271.3 321,271.3 322,271.3 322.5,271.3 323,271.3 323.5,271.2 324,271.2 324.5,271.2 325,271.1 325.5,271.1 326,271.0 326.5,270.9 327,270.8 327.5,270.7 328,270.5 328.5,270.4 329,270.2 329.5,270.0 330,269.8 330.5,269.5 331,269.3 331.5,269.1 332,268.9 332.5,268.7 333,268.6 333.5,268.5 334,268.4 334.5,268.4 335,268.4 335.5,268.5 336,268.6 336.5,268.7 337,268.9 337.5,269.1 338,269.3 338.5,269.5 339,269.8 339.5,270.0 340,270.2 340.5,270.4 341,270.5 341.5,270.7 342,270.8 342.5,270.9 343,271.0 343.5,271.1 344,271.1 344.5,271.2 345,271.2 345.5,271.2 346,271.2 346.5,271.3 347,271.3 347.5,271.3 348,271.3 348.5,271.3 349,271.2 349.5,271.2 350,271.2 350.5,271.2 351,271.2 351.5,271.1 352,271.1 352.5,271.0 353,271.0 353.5,270.9 354,270.8 354.5,270.7 355,270.6 355.5,270.5 356,270.4 356.5,270.2 357,270.1 357.5,269.9 358,269.8 358.5,269.6 359,269.5 359.5,269.3 360,269.2 360.5,269.1 361,269.0 361.5,268.9 362,268.8 362.5,268.8 363,268.8 363.5,268.8 364,268.8 364.5,268.9 365,269.0 365.5,269.1 366,269.2 366.5,269.3 367,269.4 367.5,269.5 368,269.6 368.5,269.7 369,269.8 369.5,269.9 370,269.9 370.5,269.9 371,269.9 371.5,269.8 372,269.6 372.5,269.4 373,269.1 373.5,268.8 374,268.4 374.5,267.9 375,267.3 375.5,266.7 376,265.9 376.5,265.2 377,264.3 377.5,263.5 378,262.6 378.5,261.7 379,260.7 379.5,259.9 380,259.0 380.5,258.3 381,257.6 381.5,257.0 382,256.6 382.5,256.3 383,256.1 383.5,256.1 384,256.3 384.5,256.5 385,257.0 385.5,257.5 386,258.2 386.5,258.9 387,259.8 387.5,260.7 388,261.6 388.5,262.5 389,263.4 389.5,264.3 390,265.1 390.5,265.9 391,266.7 391.5,267.4 392,268.0 392.5,268.5 393,269.0 393.5,269.4 394,269.8 394.5,270.1 395,270.3 395.5,270.5 396,270.7 396.5,270.8 397,270.9 397.5,271.0 398,271.1 398.5,271.2 399,271.2 399.4,271.2 399.38,271.3" fill="#00adbb"/><polyline points="321,271.3 322,271.3 322.5,271.3 323,271.3 323.5,271.2 324,271.2 324.5,271.2 325,271.1 325.5,271.1 326,271.0 326.5,270.9 327,270.8 327.5,270.7 328,270.5 328.5,270.4 329,270.2 329.5,270.0 330,269.8 330.5,269.5 331,269.3 331.5,269.1 332,268.9 332.5,268.7 333,268.6 333.5,268.5 334,268.4 334.5,268.4 335,268.4 335.5,268.5 336,268.6 336.5,268.7 337,268.9 337.5,269.1 338,269.3 338.5,269.5 339,269.8 339.5,270.0 340,270.2 340.5,270.4 341,270.5 341.5,270.7 342,270.8 342.5,270.9 343,271.0 343.5,271.1 344,271.1 344.5,271.2 345,271.2 345.5,271.2 346,271.2 346.5,271.3 347,271.3 347.5,271.3 348,271.3 348.5,271.3 349,271.2 349.5,271.2 350,271.2 350.5,271.2 351,271.2 351.5,271.1 352,271.1 352.5,271.0 353,271.0 353.5,270.9 354,270.8 354.5,270.7 355,270.6 355.5,270.5 356,270.4 356.5,270.2 357,270.1 357.5,269.9 358,269.8 358.5,269.6 359,269.5 359.5,269.3 360,269.2 360.5,269.1 361,269.0 361.5,268.9 362,268.8 362.5,268.8 363,268.8 363.5,268.8 364,268.8 364.5,268.9 365,269.0 365.5,269.1 366,269.2 366.5,269.3 367,269.4 367.5,269.5 368,269.6 368.5,269.7 369,269.8 369.5,269.9 370,269.9 370.5,269.9 371,269.9 371.5,269.8 372,269.6 372.5,269.4 373,269.1 373.5,268.8 374,268.4 374.5,267.9 375,267.3 375.5,266.7 376,265.9 376.5,265.2 377,264.3 377.5,263.5 378,262.6 378.5,261.7 379,260.7 379.5,259.9 380,259.0 380.5,258.3 381,257.6 381.5,257.0 382,256.6 382.5,256.3 383,256.1 383.5,256.1 384,256.3 384.5,256.5 385,257.0 385.5,257.5 386,258.2 386.5,258.9 387,259.8 387.5,260.7 388,261.6 388.5,262.5 389,263.4 389.5,264.3 390,265.1 390.5,265.9 391,266.7 391.5,267.4 392,268.0 392.5,268.5 393,269.0 393.5,269.4 394,269.8 394.5,270.1 395,270.3 395.5,270.5 396,270.7 396.5,270.8 397,270.9 397.5,271.0 398,271.1 398.5,271.2 399,271.2 399.4,271.2" fill="none" stroke="#262626" stroke-width="1.15" stroke-linejoin="round"/><polygon points="321.02,285.04 321,285.0 321.5,285.0 322,285.0 322.5,285.0 323,285.0 323.5,285.0 324,284.9 324.5,284.9 325,284.9 325.5,284.8 326,284.8 326.5,284.7 327,284.6 327.5,284.6 328,284.5 328.5,284.4 329,284.3 329.5,284.2 330,284.1 330.5,283.9 331,283.8 331.5,283.7 332,283.6 332.5,283.5 333,283.4 333.5,283.3 334,283.2 334.5,283.1 335,283.1 335.5,283.0 336,283.0 336.5,283.1 337,283.1 337.5,283.1 338,283.2 338.5,283.3 339,283.4 339.5,283.5 340,283.6 340.5,283.7 341,283.8 341.5,283.9 342,284.0 342.5,284.1 343,284.2 343.5,284.3 344,284.3 344.5,284.4 345,284.4 345.5,284.4 346,284.3 346.5,284.3 347,284.1 347.5,284.0 348,283.8 348.5,283.6 349,283.4 349.5,283.1 350,282.7 350.5,282.4 351,282.0 351.5,281.6 352,281.2 352.5,280.8 353,280.4 353.5,280.1 354,279.8 354.5,279.5 355,279.3 355.5,279.1 356,279.1 356.5,279.0 357,279.1 357.5,279.3 358,279.5 358.5,279.7 359,280.0 359.5,280.4 360,280.8 360.5,281.2 361,281.6 361.5,282.0 362,282.3 362.5,282.7 363,283.0 363.5,283.3 364,283.5 364.5,283.8 365,283.9 365.5,284.0 366,284.1 366.5,284.1 367,284.1 367.5,284.1 368,284.0 368.5,283.9 369,283.7 369.5,283.5 370,283.3 370.5,283.1 371,282.8 371.5,282.5 372,282.2 372.5,281.9 373,281.7 373.5,281.4 374,281.1 374.5,280.9 375,280.6 375.5,280.4 376,280.2 376.5,280.0 377,279.9 377.5,279.7 378,279.5 378.5,279.4 379,279.2 379.5,279.0 380,278.8 380.5,278.6 381,278.3 381.5,278.1 382,277.8 382.5,277.6 383,277.4 383.5,277.2 384,277.1 384.5,277.0 385,277.0 385.5,277.1 386,277.3 386.5,277.5 387,277.8 387.5,278.1 388,278.5 388.5,279.0 389,279.5 389.5,280.0 390,280.5 390.5,281.0 391,281.5 391.5,282.0 392,282.4 392.5,282.8 393,283.2 393.5,283.5 394,283.8 394.5,284.0 395,284.2 395.5,284.4 396,284.6 396.5,284.7 397,284.8 397.5,284.8 398,284.9 398.5,284.9 399,285.0 399.4,285.0 399.38,285.04" fill="#00adbb"/><polyline points="321,285.0 321.5,285.0 322,285.0 322.5,285.0 323,285.0 323.5,285.0 324,284.9 324.5,284.9 325,284.9 325.5,284.8 326,284.8 326.5,284.7 327,284.6 327.5,284.6 328,284.5 328.5,284.4 329,284.3 329.5,284.2 330,284.1 330.5,283.9 331,283.8 331.5,283.7 332,283.6 332.5,283.5 333,283.4 333.5,283.3 334,283.2 334.5,283.1 335,283.1 335.5,283.0 336,283.0 336.5,283.1 337,283.1 337.5,283.1 338,283.2 338.5,283.3 339,283.4 339.5,283.5 340,283.6 340.5,283.7 341,283.8 341.5,283.9 342,284.0 342.5,284.1 343,284.2 343.5,284.3 344,284.3 344.5,284.4 345,284.4 345.5,284.4 346,284.3 346.5,284.3 347,284.1 347.5,284.0 348,283.8 348.5,283.6 349,283.4 349.5,283.1 350,282.7 350.5,282.4 351,282.0 351.5,281.6 352,281.2 352.5,280.8 353,280.4 353.5,280.1 354,279.8 354.5,279.5 355,279.3 355.5,279.1 356,279.1 356.5,279.0 357,279.1 357.5,279.3 358,279.5 358.5,279.7 359,280.0 359.5,280.4 360,280.8 360.5,281.2 361,281.6 361.5,282.0 362,282.3 362.5,282.7 363,283.0 363.5,283.3 364,283.5 364.5,283.8 365,283.9 365.5,284.0 366,284.1 366.5,284.1 367,284.1 367.5,284.1 368,284.0 368.5,283.9 369,283.7 369.5,283.5 370,283.3 370.5,283.1 371,282.8 371.5,282.5 372,282.2 372.5,281.9 373,281.7 373.5,281.4 374,281.1 374.5,280.9 375,280.6 375.5,280.4 376,280.2 376.5,280.0 377,279.9 377.5,279.7 378,279.5 378.5,279.4 379,279.2 379.5,279.0 380,278.8 380.5,278.6 381,278.3 381.5,278.1 382,277.8 382.5,277.6 383,277.4 383.5,277.2 384,277.1 384.5,277.0 385,277.0 385.5,277.1 386,277.3 386.5,277.5 387,277.8 387.5,278.1 388,278.5 388.5,279.0 389,279.5 389.5,280.0 390,280.5 390.5,281.0 391,281.5 391.5,282.0 392,282.4 392.5,282.8 393,283.2 393.5,283.5 394,283.8 394.5,284.0 395,284.2 395.5,284.4 396,284.6 396.5,284.7 397,284.8 397.5,284.8 398,284.9 398.5,284.9 399,285.0 399.4,285.0" fill="none" stroke="#262626" stroke-width="1.15" stroke-linejoin="round"/><polygon points="321.02,298.78 321,298.8 323.5,298.8 324,298.7 324.5,298.7 325,298.7 325.5,298.7 326,298.6 326.5,298.6 327,298.5 327.5,298.4 328,298.3 328.5,298.2 329,298.1 329.5,298.0 330,297.8 330.5,297.6 331,297.4 331.5,297.3 332,297.1 332.5,296.9 333,296.7 333.5,296.6 334,296.4 334.5,296.4 335,296.3 335.5,296.3 336,296.3 336.5,296.4 337,296.5 337.5,296.6 338,296.7 338.5,296.9 339,297.1 339.5,297.3 340,297.4 340.5,297.6 341,297.8 341.5,297.9 342,298.1 342.5,298.2 343,298.3 343.5,298.4 344,298.4 344.5,298.4 345,298.5 345.5,298.4 346,298.4 346.5,298.4 347,298.3 347.5,298.3 348,298.2 348.5,298.1 349,298.0 349.5,297.9 350,297.8 350.5,297.7 351,297.5 351.5,297.4 352,297.3 352.5,297.1 353,297.0 353.5,296.9 354,296.8 354.5,296.7 355,296.6 355.5,296.5 356,296.4 356.5,296.3 357,296.3 357.5,296.2 358,296.1 358.5,296.1 359,296.0 359.5,295.9 360,295.8 360.5,295.7 361,295.6 361.5,295.5 362,295.4 362.5,295.2 363,295.1 363.5,294.9 364,294.8 364.5,294.6 365,294.5 365.5,294.4 366,294.2 366.5,294.1 367,294.0 367.5,293.8 368,293.7 368.5,293.5 369,293.3 369.5,293.1 370,292.8 370.5,292.5 371,292.1 371.5,291.7 372,291.2 372.5,290.6 373,290.1 373.5,289.5 374,288.8 374.5,288.2 375,287.6 375.5,287.1 376,286.6 376.5,286.3 377,286.0 377.5,285.9 378,285.9 378.5,286.1 379,286.4 379.5,286.8 380,287.3 380.5,288.0 381,288.7 381.5,289.5 382,290.3 382.5,291.2 383,292.0 383.5,292.9 384,293.7 384.5,294.4 385,295.1 385.5,295.7 386,296.2 386.5,296.7 387,297.1 387.5,297.4 388,297.7 388.5,298.0 389,298.2 389.5,298.3 390,298.4 390.5,298.5 391,298.6 391.5,298.6 392,298.7 392.5,298.7 393,298.7 393.5,298.7 394,298.8 399.4,298.8 399.38,298.78" fill="#00adbb"/><polyline points="321,298.8 323.5,298.8 324,298.7 324.5,298.7 325,298.7 325.5,298.7 326,298.6 326.5,298.6 327,298.5 327.5,298.4 328,298.3 328.5,298.2 329,298.1 329.5,298.0 330,297.8 330.5,297.6 331,297.4 331.5,297.3 332,297.1 332.5,296.9 333,296.7 333.5,296.6 334,296.4 334.5,296.4 335,296.3 335.5,296.3 336,296.3 336.5,296.4 337,296.5 337.5,296.6 338,296.7 338.5,296.9 339,297.1 339.5,297.3 340,297.4 340.5,297.6 341,297.8 341.5,297.9 342,298.1 342.5,298.2 343,298.3 343.5,298.4 344,298.4 344.5,298.4 345,298.5 345.5,298.4 346,298.4 346.5,298.4 347,298.3 347.5,298.3 348,298.2 348.5,298.1 349,298.0 349.5,297.9 350,297.8 350.5,297.7 351,297.5 351.5,297.4 352,297.3 352.5,297.1 353,297.0 353.5,296.9 354,296.8 354.5,296.7 355,296.6 355.5,296.5 356,296.4 356.5,296.3 357,296.3 357.5,296.2 358,296.1 358.5,296.1 359,296.0 359.5,295.9 360,295.8 360.5,295.7 361,295.6 361.5,295.5 362,295.4 362.5,295.2 363,295.1 363.5,294.9 364,294.8 364.5,294.6 365,294.5 365.5,294.4 366,294.2 366.5,294.1 367,294.0 367.5,293.8 368,293.7 368.5,293.5 369,293.3 369.5,293.1 370,292.8 370.5,292.5 371,292.1 371.5,291.7 372,291.2 372.5,290.6 373,290.1 373.5,289.5 374,288.8 374.5,288.2 375,287.6 375.5,287.1 376,286.6 376.5,286.3 377,286.0 377.5,285.9 378,285.9 378.5,286.1 379,286.4 379.5,286.8 380,287.3 380.5,288.0 381,288.7 381.5,289.5 382,290.3 382.5,291.2 383,292.0 383.5,292.9 384,293.7 384.5,294.4 385,295.1 385.5,295.7 386,296.2 386.5,296.7 387,297.1 387.5,297.4 388,297.7 388.5,298.0 389,298.2 389.5,298.3 390,298.4 390.5,298.5 391,298.6 391.5,298.6 392,298.7 392.5,298.7 393,298.7 393.5,298.7 394,298.8 399.4,298.8" fill="none" stroke="#262626" stroke-width="1.15" stroke-linejoin="round"/><polygon points="321.02,312.52 321,312.5 364.5,312.5 365,312.4 365.5,312.3 366,312.2 366.5,312.1 367,311.9 367.5,311.6 368,311.3 368.5,310.9 369,310.3 369.5,309.6 370,308.9 370.5,308.0 371,307.0 371.5,305.9 372,304.8 372.5,303.7 373,302.8 373.5,301.9 374,301.1 374.5,300.3 375,299.6 375.5,299.0 376,298.4 376.5,297.8 377,297.3 377.5,296.8 378,296.5 378.5,296.3 379,296.0 379.5,295.8 380,295.6 380.5,295.5 381,295.5 381.5,295.6 382,295.8 382.5,296.0 383,296.2 383.5,296.5 384,296.9 384.5,297.5 385,298.1 385.5,298.9 386,299.5 386.5,300.3 387,301.0 387.5,301.8 388,302.6 388.5,303.4 389,304.1 389.5,304.9 390,305.6 390.5,306.4 391,307.1 391.5,307.7 392,308.4 392.5,309.0 393,309.6 393.5,310.1 394,310.5 394.5,310.9 395,311.2 395.5,311.6 396,311.8 396.5,312.0 397,312.2 397.5,312.3 398,312.4 398.5,312.5 399.4,312.5 399.38,312.52" fill="#00adbb"/><polyline points="321,312.5 364.5,312.5 365,312.4 365.5,312.3 366,312.2 366.5,312.1 367,311.9 367.5,311.6 368,311.3 368.5,310.9 369,310.3 369.5,309.6 370,308.9 370.5,308.0 371,307.0 371.5,305.9 372,304.8 372.5,303.7 373,302.8 373.5,301.9 374,301.1 374.5,300.3 375,299.6 375.5,299.0 376,298.4 376.5,297.8 377,297.3 377.5,296.8 378,296.5 378.5,296.3 379,296.0 379.5,295.8 380,295.6 380.5,295.5 381,295.5 381.5,295.6 382,295.8 382.5,296.0 383,296.2 383.5,296.5 384,296.9 384.5,297.5 385,298.1 385.5,298.9 386,299.5 386.5,300.3 387,301.0 387.5,301.8 388,302.6 388.5,303.4 389,304.1 389.5,304.9 390,305.6 390.5,306.4 391,307.1 391.5,307.7 392,308.4 392.5,309.0 393,309.6 393.5,310.1 394,310.5 394.5,310.9 395,311.2 395.5,311.6 396,311.8 396.5,312.0 397,312.2 397.5,312.3 398,312.4 398.5,312.5 399.4,312.5" fill="none" stroke="#262626" stroke-width="1.15" stroke-linejoin="round"/><polygon points="321.02,326.26 321,326.3 368,326.2 368.5,326.2 369,326.2 369.5,326.2 370,326.2 370.5,326.1 371,326.0 371.5,326.0 372,325.8 372.5,325.7 373,325.5 373.5,325.3 374,325.0 374.5,324.6 375,324.1 375.5,323.5 376,322.8 376.5,322.0 377,321.1 377.5,320.1 378,318.9 378.5,317.6 379,316.1 379.5,314.6 380,313.0 380.5,311.4 381,309.7 381.5,308.1 382,306.6 382.5,305.2 383,303.9 383.5,302.9 384,302.1 384.5,301.5 385,301.3 385.5,301.3 386,301.7 386.5,302.3 387,303.1 387.5,304.2 388,305.5 388.5,307.0 389,308.6 389.5,310.2 390,311.8 390.5,313.5 391,315.0 391.5,316.5 392,317.9 392.5,319.2 393,320.4 393.5,321.4 394,322.3 394.5,323.0 395,323.7 395.5,324.2 396,324.7 396.5,325.0 397,325.3 397.5,325.6 398,325.7 398.5,325.9 399,326.0 399.4,326.0 399.38,326.26" fill="#00adbb"/><polyline points="321,326.3 368,326.2 368.5,326.2 369,326.2 369.5,326.2 370,326.2 370.5,326.1 371,326.0 371.5,326.0 372,325.8 372.5,325.7 373,325.5 373.5,325.3 374,325.0 374.5,324.6 375,324.1 375.5,323.5 376,322.8 376.5,322.0 377,321.1 377.5,320.1 378,318.9 378.5,317.6 379,316.1 379.5,314.6 380,313.0 380.5,311.4 381,309.7 381.5,308.1 382,306.6 382.5,305.2 383,303.9 383.5,302.9 384,302.1 384.5,301.5 385,301.3 385.5,301.3 386,301.7 386.5,302.3 387,303.1 387.5,304.2 388,305.5 388.5,307.0 389,308.6 389.5,310.2 390,311.8 390.5,313.5 391,315.0 391.5,316.5 392,317.9 392.5,319.2 393,320.4 393.5,321.4 394,322.3 394.5,323.0 395,323.7 395.5,324.2 396,324.7 396.5,325.0 397,325.3 397.5,325.6 398,325.7 398.5,325.9 399,326.0 399.4,326.0" fill="none" stroke="#262626" stroke-width="1.15" stroke-linejoin="round"/><polygon points="321.02,340 321,340.0 352.5,340.0 353,340.0 353.5,339.9 354,339.8 354.5,339.8 355,339.7 355.5,339.6 356,339.3 356.5,339.0 357,338.5 357.5,338.0 358,337.5 358.5,337.0 359,336.4 359.5,335.8 360,335.2 360.5,334.6 361,334.0 361.5,333.3 362,332.6 362.5,332.0 363,331.5 363.5,331.0 364,330.6 364.5,330.2 365,329.9 365.5,329.5 366,329.3 366.5,329.0 367,328.8 367.5,328.6 368,328.5 368.5,328.4 369,328.4 369.5,328.4 370,328.3 370.5,328.3 371,328.3 371.5,328.3 372,328.3 372.5,328.3 373,328.3 373.5,328.4 374,328.4 374.5,328.5 375,328.6 375.5,328.7 376,328.8 376.5,329.0 377,329.2 377.5,329.4 378,329.6 378.5,329.8 379,330.1 379.5,330.3 380,330.6 380.5,330.9 381,331.2 381.5,331.6 382,332.0 382.5,332.4 383,332.8 383.5,333.2 384,333.6 384.5,334.0 385,334.4 385.5,334.9 386,335.3 386.5,335.7 387,336.0 387.5,336.4 388,336.8 388.5,337.2 389,337.6 389.5,337.9 390,338.2 390.5,338.5 391,338.8 391.5,339.0 392,339.2 392.5,339.4 393,339.6 393.5,339.7 394,339.8 394.5,339.9 395,340.0 399.4,340.0 399.38,340" fill="#00adbb"/><polyline points="321,340.0 352.5,340.0 353,340.0 353.5,339.9 354,339.8 354.5,339.8 355,339.7 355.5,339.6 356,339.3 356.5,339.0 357,338.5 357.5,338.0 358,337.5 358.5,337.0 359,336.4 359.5,335.8 360,335.2 360.5,334.6 361,334.0 361.5,333.3 362,332.6 362.5,332.0 363,331.5 363.5,331.0 364,330.6 364.5,330.2 365,329.9 365.5,329.5 366,329.3 366.5,329.0 367,328.8 367.5,328.6 368,328.5 368.5,328.4 369,328.4 369.5,328.4 370,328.3 370.5,328.3 371,328.3 371.5,328.3 372,328.3 372.5,328.3 373,328.3 373.5,328.4 374,328.4 374.5,328.5 375,328.6 375.5,328.7 376,328.8 376.5,329.0 377,329.2 377.5,329.4 378,329.6 378.5,329.8 379,330.1 379.5,330.3 380,330.6 380.5,330.9 381,331.2 381.5,331.6 382,332.0 382.5,332.4 383,332.8 383.5,333.2 384,333.6 384.5,334.0 385,334.4 385.5,334.9 386,335.3 386.5,335.7 387,336.0 387.5,336.4 388,336.8 388.5,337.2 389,337.6 389.5,337.9 390,338.2 390.5,338.5 391,338.8 391.5,339.0 392,339.2 392.5,339.4 393,339.6 393.5,339.7 394,339.8 394.5,339.9 395,340.0 399.4,340.0" fill="none" stroke="#262626" stroke-width="1.15" stroke-linejoin="round"/><path d="M317.1,255.5V348.5H403.3" fill="none" stroke="#3a3a3a" stroke-width="0.9"/><path d="M314.5,271.3H317.1" stroke="#3a3a3a" stroke-width="0.9"/><text x="313.3" y="275.1" class="yl">Smoky</text><path d="M314.5,285.04H317.1" stroke="#3a3a3a" stroke-width="0.9"/><text x="313.3" y="288.84" class="yl">Rose</text><path d="M314.5,298.78H317.1" stroke="#3a3a3a" stroke-width="0.9"/><text x="313.3" y="302.58" class="yl">Milky</text><path d="M314.5,312.52H317.1" stroke="#3a3a3a" stroke-width="0.9"/><text x="313.3" y="316.32" class="yl">Ferriferous</text><path d="M314.5,326.26H317.1" stroke="#3a3a3a" stroke-width="0.9"/><text x="313.3" y="330.06" class="yl" style="letter-spacing:-0.3px">Hyaline</text><path d="M314.5,340H317.1" stroke="#3a3a3a" stroke-width="0.9"/><text x="313.3" y="343.8" class="yl">Amethyst</text><path d="M328,348.5V351.1" stroke="#3a3a3a" stroke-width="0.9"/><text x="328" y="358.6" class="xl">300<tspan dx="-0.9">,</tspan><tspan dx="-0.9">000</tspan></text><path d="M375.3,348.5V351.1" stroke="#3a3a3a" stroke-width="0.9"/><text x="375.3" y="358.6" class="xl">900<tspan dx="-0.9">,</tspan><tspan dx="-0.9">000</tspan></text><text x="364.1" y="368.6" class="tt"><tspan class="el">SiO</tspan><tspan class="sb" dy="2.6">2</tspan><tspan class="un" dy="-2.6"> (mg kg</tspan><tspan class="sp" dy="-3.6">−1</tspan><tspan class="un" dy="3.6">)</tspan></text></g>
<g><polygon points="457.52,275.7 457.5,275.7 459,275.7 459.5,275.7 460,275.7 460.5,275.6 461,275.6 461.5,275.6 462,275.5 462.5,275.5 463,275.4 463.5,275.3 464,275.2 464.5,275.1 465,275.0 465.5,274.8 466,274.6 466.5,274.3 467,274.0 467.5,273.6 468,273.2 468.5,272.7 469,272.1 469.5,271.5 470,270.8 470.5,270.1 471,269.2 471.5,268.4 472,267.4 472.5,266.4 473,265.4 473.5,264.4 474,263.4 474.5,262.4 475,261.4 475.5,260.5 476,259.6 476.5,258.8 477,258.1 477.5,257.6 478,257.1 478.5,256.8 479,256.7 479.5,256.6 480,256.7 480.5,256.9 481,257.3 481.5,257.7 482,258.3 482.5,258.9 483,259.6 483.5,260.3 484,261.0 484.5,261.8 485,262.6 485.5,263.3 486,264.1 486.5,264.8 487,265.5 487.5,266.1 488,266.7 488.5,267.3 489,267.8 489.5,268.3 490,268.8 490.5,269.2 491,269.5 491.5,269.8 492,270.1 492.5,270.4 493,270.6 493.5,270.7 494,270.9 494.5,271.0 495,271.1 495.5,271.1 496,271.1 496.5,271.2 497,271.2 497.5,271.2 498,271.2 498.5,271.2 499,271.2 499.5,271.3 500,271.3 500.5,271.4 501,271.6 501.5,271.7 502,271.9 502.5,272.1 503,272.3 503.5,272.5 504,272.8 504.5,273.0 505,273.3 505.5,273.5 506,273.8 506.5,274.0 507,274.2 507.5,274.4 508,274.6 508.5,274.8 509,274.9 509.5,275.0 510,275.2 510.5,275.3 511,275.3 511.5,275.4 512,275.5 512.5,275.5 513,275.6 513.5,275.6 514,275.6 514.5,275.6 515,275.7 515.5,275.7 516,275.7 535.9,275.7 535.88,275.7" fill="#00adbb"/><polyline points="457.5,275.7 459,275.7 459.5,275.7 460,275.7 460.5,275.6 461,275.6 461.5,275.6 462,275.5 462.5,275.5 463,275.4 463.5,275.3 464,275.2 464.5,275.1 465,275.0 465.5,274.8 466,274.6 466.5,274.3 467,274.0 467.5,273.6 468,273.2 468.5,272.7 469,272.1 469.5,271.5 470,270.8 470.5,270.1 471,269.2 471.5,268.4 472,267.4 472.5,266.4 473,265.4 473.5,264.4 474,263.4 474.5,262.4 475,261.4 475.5,260.5 476,259.6 476.5,258.8 477,258.1 477.5,257.6 478,257.1 478.5,256.8 479,256.7 479.5,256.6 480,256.7 480.5,256.9 481,257.3 481.5,257.7 482,258.3 482.5,258.9 483,259.6 483.5,260.3 484,261.0 484.5,261.8 485,262.6 485.5,263.3 486,264.1 486.5,264.8 487,265.5 487.5,266.1 488,266.7 488.5,267.3 489,267.8 489.5,268.3 490,268.8 490.5,269.2 491,269.5 491.5,269.8 492,270.1 492.5,270.4 493,270.6 493.5,270.7 494,270.9 494.5,271.0 495,271.1 495.5,271.1 496,271.1 496.5,271.2 497,271.2 497.5,271.2 498,271.2 498.5,271.2 499,271.2 499.5,271.3 500,271.3 500.5,271.4 501,271.6 501.5,271.7 502,271.9 502.5,272.1 503,272.3 503.5,272.5 504,272.8 504.5,273.0 505,273.3 505.5,273.5 506,273.8 506.5,274.0 507,274.2 507.5,274.4 508,274.6 508.5,274.8 509,274.9 509.5,275.0 510,275.2 510.5,275.3 511,275.3 511.5,275.4 512,275.5 512.5,275.5 513,275.6 513.5,275.6 514,275.6 514.5,275.6 515,275.7 515.5,275.7 516,275.7 535.9,275.7" fill="none" stroke="#262626" stroke-width="1.15" stroke-linejoin="round"/><polygon points="457.52,288.78 457.5,288.7 458,288.7 458.5,288.7 459,288.7 459.5,288.6 460,288.6 460.5,288.6 461,288.5 461.5,288.5 462,288.4 462.5,288.3 463,288.2 463.5,288.1 464,288.0 464.5,287.9 465,287.7 465.5,287.5 466,287.3 466.5,287.1 467,286.8 467.5,286.5 468,286.2 468.5,285.9 469,285.5 469.5,285.1 470,284.7 470.5,284.3 471,283.8 471.5,283.3 472,282.8 472.5,282.3 473,281.7 473.5,281.2 474,280.6 474.5,280.1 475,279.6 475.5,279.1 476,278.6 476.5,278.1 477,277.7 477.5,277.4 478,277.0 478.5,276.7 479,276.5 479.5,276.4 480,276.3 480.5,276.2 481,276.2 481.5,276.3 482,276.4 482.5,276.6 483,276.8 483.5,277.0 484,277.3 484.5,277.6 485,278.0 485.5,278.3 486,278.6 486.5,279.0 487,279.3 487.5,279.6 488,279.9 488.5,280.2 489,280.4 489.5,280.7 490,280.8 490.5,281.0 491,281.1 491.5,281.2 492,281.3 492.5,281.3 493,281.3 493.5,281.3 494,281.2 494.5,281.1 495,281.1 495.5,280.9 496,280.8 496.5,280.7 497,280.6 497.5,280.5 498,280.4 498.5,280.4 499,280.4 499.5,280.4 500,280.4 500.5,280.5 501,280.7 501.5,280.9 502,281.1 502.5,281.4 503,281.7 503.5,282.0 504,282.3 504.5,282.7 505,283.1 505.5,283.5 506,283.9 506.5,284.3 507,284.7 507.5,285.1 508,285.5 508.5,285.9 509,286.2 509.5,286.5 510,286.8 510.5,287.1 511,287.3 511.5,287.5 512,287.7 512.5,287.9 513,288.0 513.5,288.1 514,288.3 514.5,288.4 515,288.4 515.5,288.5 516,288.6 516.5,288.6 517,288.6 517.5,288.7 518,288.7 518.5,288.7 519,288.7 519.5,288.7 520,288.7 520.5,288.8 535.9,288.8 535.88,288.78" fill="#00adbb"/><polyline points="457.5,288.7 458,288.7 458.5,288.7 459,288.7 459.5,288.6 460,288.6 460.5,288.6 461,288.5 461.5,288.5 462,288.4 462.5,288.3 463,288.2 463.5,288.1 464,288.0 464.5,287.9 465,287.7 465.5,287.5 466,287.3 466.5,287.1 467,286.8 467.5,286.5 468,286.2 468.5,285.9 469,285.5 469.5,285.1 470,284.7 470.5,284.3 471,283.8 471.5,283.3 472,282.8 472.5,282.3 473,281.7 473.5,281.2 474,280.6 474.5,280.1 475,279.6 475.5,279.1 476,278.6 476.5,278.1 477,277.7 477.5,277.4 478,277.0 478.5,276.7 479,276.5 479.5,276.4 480,276.3 480.5,276.2 481,276.2 481.5,276.3 482,276.4 482.5,276.6 483,276.8 483.5,277.0 484,277.3 484.5,277.6 485,278.0 485.5,278.3 486,278.6 486.5,279.0 487,279.3 487.5,279.6 488,279.9 488.5,280.2 489,280.4 489.5,280.7 490,280.8 490.5,281.0 491,281.1 491.5,281.2 492,281.3 492.5,281.3 493,281.3 493.5,281.3 494,281.2 494.5,281.1 495,281.1 495.5,280.9 496,280.8 496.5,280.7 497,280.6 497.5,280.5 498,280.4 498.5,280.4 499,280.4 499.5,280.4 500,280.4 500.5,280.5 501,280.7 501.5,280.9 502,281.1 502.5,281.4 503,281.7 503.5,282.0 504,282.3 504.5,282.7 505,283.1 505.5,283.5 506,283.9 506.5,284.3 507,284.7 507.5,285.1 508,285.5 508.5,285.9 509,286.2 509.5,286.5 510,286.8 510.5,287.1 511,287.3 511.5,287.5 512,287.7 512.5,287.9 513,288.0 513.5,288.1 514,288.3 514.5,288.4 515,288.4 515.5,288.5 516,288.6 516.5,288.6 517,288.6 517.5,288.7 518,288.7 518.5,288.7 519,288.7 519.5,288.7 520,288.7 520.5,288.8 535.9,288.8" fill="none" stroke="#262626" stroke-width="1.15" stroke-linejoin="round"/><polygon points="457.52,301.86 457.5,301.9 462.5,301.8 463,301.8 463.5,301.8 464,301.8 464.5,301.7 465,301.7 465.5,301.6 466,301.5 466.5,301.4 467,301.3 467.5,301.1 468,300.8 468.5,300.6 469,300.2 469.5,299.8 470,299.3 470.5,298.7 471,298.1 471.5,297.3 472,296.5 472.5,295.7 473,294.7 473.5,293.8 474,292.8 474.5,291.8 475,290.9 475.5,290.0 476,289.2 476.5,288.5 477,287.9 477.5,287.5 478,287.2 478.5,287.1 479,287.2 479.5,287.4 480,287.8 480.5,288.3 481,289.0 481.5,289.7 482,290.5 482.5,291.4 483,292.2 483.5,293.0 484,293.8 484.5,294.5 485,295.2 485.5,295.8 486,296.3 486.5,296.7 487,297.1 487.5,297.3 488,297.5 488.5,297.7 489,297.8 489.5,297.8 490,297.9 490.5,297.9 491,297.8 491.5,297.8 492,297.8 492.5,297.8 493,297.7 493.5,297.7 494,297.7 494.5,297.7 495,297.7 495.5,297.7 496,297.7 496.5,297.7 497,297.7 497.5,297.7 498,297.7 498.5,297.7 499,297.7 499.5,297.7 500,297.7 500.5,297.6 501,297.6 501.5,297.6 502,297.5 502.5,297.4 503,297.3 503.5,297.3 504,297.2 504.5,297.1 505,297.0 505.5,296.9 506,296.8 506.5,296.8 507,296.7 507.5,296.6 508,296.6 508.5,296.6 509,296.5 509.5,296.5 510,296.5 510.5,296.5 511,296.6 511.5,296.6 512,296.7 512.5,296.8 513,296.8 513.5,296.9 514,297.1 514.5,297.2 515,297.3 515.5,297.5 516,297.6 516.5,297.8 517,297.9 517.5,298.1 518,298.3 518.5,298.5 519,298.7 519.5,298.8 520,299.0 520.5,299.2 521,299.4 521.5,299.5 522,299.7 522.5,299.8 523,300.0 523.5,300.1 524,300.3 524.5,300.4 525,300.5 525.5,300.7 526,300.8 526.5,300.9 527,301.0 527.5,301.1 528,301.1 528.5,301.2 529,301.3 529.5,301.4 530,301.4 530.5,301.5 531,301.5 531.5,301.6 532,301.6 532.5,301.6 533,301.7 533.5,301.7 534,301.7 534.5,301.7 535,301.7 535.5,301.8 535.9,301.8 535.88,301.86" fill="#00adbb"/><polyline points="457.5,301.9 462.5,301.8 463,301.8 463.5,301.8 464,301.8 464.5,301.7 465,301.7 465.5,301.6 466,301.5 466.5,301.4 467,301.3 467.5,301.1 468,300.8 468.5,300.6 469,300.2 469.5,299.8 470,299.3 470.5,298.7 471,298.1 471.5,297.3 472,296.5 472.5,295.7 473,294.7 473.5,293.8 474,292.8 474.5,291.8 475,290.9 475.5,290.0 476,289.2 476.5,288.5 477,287.9 477.5,287.5 478,287.2 478.5,287.1 479,287.2 479.5,287.4 480,287.8 480.5,288.3 481,289.0 481.5,289.7 482,290.5 482.5,291.4 483,292.2 483.5,293.0 484,293.8 484.5,294.5 485,295.2 485.5,295.8 486,296.3 486.5,296.7 487,297.1 487.5,297.3 488,297.5 488.5,297.7 489,297.8 489.5,297.8 490,297.9 490.5,297.9 491,297.8 491.5,297.8 492,297.8 492.5,297.8 493,297.7 493.5,297.7 494,297.7 494.5,297.7 495,297.7 495.5,297.7 496,297.7 496.5,297.7 497,297.7 497.5,297.7 498,297.7 498.5,297.7 499,297.7 499.5,297.7 500,297.7 500.5,297.6 501,297.6 501.5,297.6 502,297.5 502.5,297.4 503,297.3 503.5,297.3 504,297.2 504.5,297.1 505,297.0 505.5,296.9 506,296.8 506.5,296.8 507,296.7 507.5,296.6 508,296.6 508.5,296.6 509,296.5 509.5,296.5 510,296.5 510.5,296.5 511,296.6 511.5,296.6 512,296.7 512.5,296.8 513,296.8 513.5,296.9 514,297.1 514.5,297.2 515,297.3 515.5,297.5 516,297.6 516.5,297.8 517,297.9 517.5,298.1 518,298.3 518.5,298.5 519,298.7 519.5,298.8 520,299.0 520.5,299.2 521,299.4 521.5,299.5 522,299.7 522.5,299.8 523,300.0 523.5,300.1 524,300.3 524.5,300.4 525,300.5 525.5,300.7 526,300.8 526.5,300.9 527,301.0 527.5,301.1 528,301.1 528.5,301.2 529,301.3 529.5,301.4 530,301.4 530.5,301.5 531,301.5 531.5,301.6 532,301.6 532.5,301.6 533,301.7 533.5,301.7 534,301.7 534.5,301.7 535,301.7 535.5,301.8 535.9,301.8" fill="none" stroke="#262626" stroke-width="1.15" stroke-linejoin="round"/><polygon points="457.52,314.94 457.5,314.9 466,314.9 466.5,314.7 467,314.4 467.5,314.1 468,313.7 468.5,313.3 469,312.9 469.5,312.4 470,311.9 470.5,311.4 471,310.7 471.5,310.0 472,309.2 472.5,308.4 473,307.6 473.5,306.7 474,305.9 474.5,305.0 475,304.0 475.5,303.0 476,302.0 476.5,301.0 477,300.3 477.5,299.8 478,299.5 478.5,299.2 479,298.9 479.5,298.7 480,298.5 480.5,298.3 481,298.2 481.5,298.1 482,297.9 482.5,297.8 483,297.7 483.5,297.7 484,297.6 484.5,297.5 485,297.5 485.5,297.4 486,297.3 486.5,297.3 487,297.2 487.5,297.1 488,297.1 488.5,297.0 489,297.0 489.5,296.9 490,297.0 490.5,297.2 491,297.5 491.5,298.0 492,298.5 492.5,299.0 493,299.5 493.5,300.1 494,300.8 494.5,301.6 495,302.4 495.5,303.2 496,304.1 496.5,305.1 497,306.1 497.5,307.1 498,308.0 498.5,308.7 499,309.5 499.5,310.1 500,310.8 500.5,311.4 501,311.9 501.5,312.5 502,312.9 502.5,313.4 503,313.8 503.5,314.1 504,314.4 504.5,314.6 505,314.8 505.5,314.9 535.9,314.9 535.88,314.94" fill="#00adbb"/><polyline points="457.5,314.9 466,314.9 466.5,314.7 467,314.4 467.5,314.1 468,313.7 468.5,313.3 469,312.9 469.5,312.4 470,311.9 470.5,311.4 471,310.7 471.5,310.0 472,309.2 472.5,308.4 473,307.6 473.5,306.7 474,305.9 474.5,305.0 475,304.0 475.5,303.0 476,302.0 476.5,301.0 477,300.3 477.5,299.8 478,299.5 478.5,299.2 479,298.9 479.5,298.7 480,298.5 480.5,298.3 481,298.2 481.5,298.1 482,297.9 482.5,297.8 483,297.7 483.5,297.7 484,297.6 484.5,297.5 485,297.5 485.5,297.4 486,297.3 486.5,297.3 487,297.2 487.5,297.1 488,297.1 488.5,297.0 489,297.0 489.5,296.9 490,297.0 490.5,297.2 491,297.5 491.5,298.0 492,298.5 492.5,299.0 493,299.5 493.5,300.1 494,300.8 494.5,301.6 495,302.4 495.5,303.2 496,304.1 496.5,305.1 497,306.1 497.5,307.1 498,308.0 498.5,308.7 499,309.5 499.5,310.1 500,310.8 500.5,311.4 501,311.9 501.5,312.5 502,312.9 502.5,313.4 503,313.8 503.5,314.1 504,314.4 504.5,314.6 505,314.8 505.5,314.9 535.9,314.9" fill="none" stroke="#262626" stroke-width="1.15" stroke-linejoin="round"/><polygon points="457.52,328.02 457.5,328.0 464,328.0 464.5,328.0 465,328.0 465.5,327.9 466,327.9 466.5,327.8 467,327.8 467.5,327.7 468,327.5 468.5,327.4 469,327.2 469.5,326.9 470,326.5 470.5,326.1 471,325.6 471.5,325.0 472,324.3 472.5,323.5 473,322.5 473.5,321.4 474,320.3 474.5,319.0 475,317.6 475.5,316.1 476,314.6 476.5,313.1 477,311.6 477.5,310.2 478,308.8 478.5,307.6 479,306.6 479.5,305.8 480,305.2 480.5,304.9 481,304.8 481.5,305.0 482,305.4 482.5,306.1 483,306.9 483.5,307.9 484,309.0 484.5,310.3 485,311.5 485.5,312.8 486,314.1 486.5,315.3 487,316.5 487.5,317.6 488,318.7 488.5,319.6 489,320.4 489.5,321.2 490,321.9 490.5,322.6 491,323.2 491.5,323.7 492,324.2 492.5,324.7 493,325.1 493.5,325.5 494,325.8 494.5,326.2 495,326.5 495.5,326.7 496,327.0 496.5,327.2 497,327.3 497.5,327.5 498,327.6 498.5,327.7 499,327.8 499.5,327.8 500,327.9 500.5,327.9 501,328.0 501.5,328.0 502,328.0 502.5,328.0 535.9,328.0 535.88,328.02" fill="#00adbb"/><polyline points="457.5,328.0 464,328.0 464.5,328.0 465,328.0 465.5,327.9 466,327.9 466.5,327.8 467,327.8 467.5,327.7 468,327.5 468.5,327.4 469,327.2 469.5,326.9 470,326.5 470.5,326.1 471,325.6 471.5,325.0 472,324.3 472.5,323.5 473,322.5 473.5,321.4 474,320.3 474.5,319.0 475,317.6 475.5,316.1 476,314.6 476.5,313.1 477,311.6 477.5,310.2 478,308.8 478.5,307.6 479,306.6 479.5,305.8 480,305.2 480.5,304.9 481,304.8 481.5,305.0 482,305.4 482.5,306.1 483,306.9 483.5,307.9 484,309.0 484.5,310.3 485,311.5 485.5,312.8 486,314.1 486.5,315.3 487,316.5 487.5,317.6 488,318.7 488.5,319.6 489,320.4 489.5,321.2 490,321.9 490.5,322.6 491,323.2 491.5,323.7 492,324.2 492.5,324.7 493,325.1 493.5,325.5 494,325.8 494.5,326.2 495,326.5 495.5,326.7 496,327.0 496.5,327.2 497,327.3 497.5,327.5 498,327.6 498.5,327.7 499,327.8 499.5,327.8 500,327.9 500.5,327.9 501,328.0 501.5,328.0 502,328.0 502.5,328.0 535.9,328.0" fill="none" stroke="#262626" stroke-width="1.15" stroke-linejoin="round"/><polygon points="457.52,341.1 457.5,341.1 460,341.1 460.5,341.1 461,341.0 461.5,341.0 462,341.0 462.5,341.0 463,340.9 463.5,340.8 464,340.7 464.5,340.6 465,340.5 465.5,340.3 466,340.0 466.5,339.7 467,339.3 467.5,338.9 468,338.4 468.5,337.8 469,337.1 469.5,336.3 470,335.5 470.5,334.5 471,333.5 471.5,332.4 472,331.2 472.5,330.0 473,328.8 473.5,327.6 474,326.5 474.5,325.4 475,324.5 475.5,323.6 476,323.0 476.5,322.5 477,322.2 477.5,322.1 478,322.2 478.5,322.5 479,323.0 479.5,323.7 480,324.5 480.5,325.4 481,326.5 481.5,327.6 482,328.7 482.5,329.8 483,330.9 483.5,332.0 484,333.0 484.5,333.9 485,334.7 485.5,335.4 486,336.0 486.5,336.4 487,336.8 487.5,337.1 488,337.3 488.5,337.4 489,337.5 489.5,337.5 490,337.5 490.5,337.4 491,337.3 491.5,337.2 492,337.1 492.5,336.9 493,336.8 493.5,336.6 494,336.4 494.5,336.1 495,335.9 495.5,335.6 496,335.4 496.5,335.1 497,334.8 497.5,334.6 498,334.4 498.5,334.2 499,334.1 499.5,334.1 500,334.1 500.5,334.2 501,334.4 501.5,334.6 502,334.9 502.5,335.2 503,335.6 503.5,336.1 504,336.5 504.5,337.0 505,337.4 505.5,337.9 506,338.3 506.5,338.7 507,339.1 507.5,339.4 508,339.7 508.5,340.0 509,340.2 509.5,340.4 510,340.5 510.5,340.7 511,340.8 511.5,340.8 512,340.9 512.5,341.0 513,341.0 513.5,341.0 514,341.0 514.5,341.1 515,341.1 535.9,341.1 535.88,341.1" fill="#00adbb"/><polyline points="457.5,341.1 460,341.1 460.5,341.1 461,341.0 461.5,341.0 462,341.0 462.5,341.0 463,340.9 463.5,340.8 464,340.7 464.5,340.6 465,340.5 465.5,340.3 466,340.0 466.5,339.7 467,339.3 467.5,338.9 468,338.4 468.5,337.8 469,337.1 469.5,336.3 470,335.5 470.5,334.5 471,333.5 471.5,332.4 472,331.2 472.5,330.0 473,328.8 473.5,327.6 474,326.5 474.5,325.4 475,324.5 475.5,323.6 476,323.0 476.5,322.5 477,322.2 477.5,322.1 478,322.2 478.5,322.5 479,323.0 479.5,323.7 480,324.5 480.5,325.4 481,326.5 481.5,327.6 482,328.7 482.5,329.8 483,330.9 483.5,332.0 484,333.0 484.5,333.9 485,334.7 485.5,335.4 486,336.0 486.5,336.4 487,336.8 487.5,337.1 488,337.3 488.5,337.4 489,337.5 489.5,337.5 490,337.5 490.5,337.4 491,337.3 491.5,337.2 492,337.1 492.5,336.9 493,336.8 493.5,336.6 494,336.4 494.5,336.1 495,335.9 495.5,335.6 496,335.4 496.5,335.1 497,334.8 497.5,334.6 498,334.4 498.5,334.2 499,334.1 499.5,334.1 500,334.1 500.5,334.2 501,334.4 501.5,334.6 502,334.9 502.5,335.2 503,335.6 503.5,336.1 504,336.5 504.5,337.0 505,337.4 505.5,337.9 506,338.3 506.5,338.7 507,339.1 507.5,339.4 508,339.7 508.5,340.0 509,340.2 509.5,340.4 510,340.5 510.5,340.7 511,340.8 511.5,340.8 512,340.9 512.5,341.0 513,341.0 513.5,341.0 514,341.0 514.5,341.1 515,341.1 535.9,341.1" fill="none" stroke="#262626" stroke-width="1.15" stroke-linejoin="round"/><path d="M453.6,255.5V348.5H539.8" fill="none" stroke="#3a3a3a" stroke-width="0.9"/><path d="M451,275.7H453.6" stroke="#3a3a3a" stroke-width="0.9"/><text x="449.8" y="279.5" class="yl">Smoky</text><path d="M451,288.78H453.6" stroke="#3a3a3a" stroke-width="0.9"/><text x="449.8" y="292.58" class="yl">Rose</text><path d="M451,301.86H453.6" stroke="#3a3a3a" stroke-width="0.9"/><text x="449.8" y="305.66" class="yl">Milky</text><path d="M451,314.94H453.6" stroke="#3a3a3a" stroke-width="0.9"/><text x="449.8" y="318.74" class="yl">Ferriferous</text><path d="M451,328.02H453.6" stroke="#3a3a3a" stroke-width="0.9"/><text x="449.8" y="331.82" class="yl" style="letter-spacing:-0.3px">Hyaline</text><path d="M451,341.1H453.6" stroke="#3a3a3a" stroke-width="0.9"/><text x="449.8" y="344.9" class="yl">Amethyst</text><path d="M461,348.5V351.1" stroke="#3a3a3a" stroke-width="0.9"/><text x="461" y="358.6" class="xl">0</text><path d="M498.5,348.5V351.1" stroke="#3a3a3a" stroke-width="0.9"/><text x="498.5" y="358.6" class="xl">2500</text><path d="M536,348.5V351.1" stroke="#3a3a3a" stroke-width="0.9"/><text x="536" y="358.6" class="xl">5000</text><text x="502" y="368.6" class="tt"><tspan class="el">Ti</tspan><tspan class="un"> (mg kg</tspan><tspan class="sp" dy="-3.6">−1</tspan><tspan class="un" dy="3.6">)</tspan></text></g>
<g><polygon points="51.42,398.5 51.4,398.4 51.9,398.3 52.4,397.8 52.9,396.6 53.4,394.3 53.9,390.6 54.4,385.9 54.9,381.6 55.4,379.3 55.9,379.9 56.4,383.0 56.9,387.2 57.4,391.0 57.9,393.7 58.4,395.4 58.9,396.4 59.4,397.0 59.9,397.5 60.4,397.8 60.9,398.1 61.4,398.3 61.9,398.4 62.4,398.4 62.9,398.5 86.4,398.5 86.9,398.5 87.4,398.4 87.9,398.3 88.4,398.1 88.9,397.7 89.4,397.3 89.9,396.8 90.4,396.4 90.9,396.1 91.4,396.1 91.9,396.4 92.4,396.8 92.9,397.3 93.4,397.7 93.9,398.0 94.4,398.3 94.9,398.4 95.4,398.5 95.9,398.5 129.8,398.5 129.78,398.5" fill="#00adbb"/><polyline points="51.4,398.4 51.9,398.3 52.4,397.8 52.9,396.6 53.4,394.3 53.9,390.6 54.4,385.9 54.9,381.6 55.4,379.3 55.9,379.9 56.4,383.0 56.9,387.2 57.4,391.0 57.9,393.7 58.4,395.4 58.9,396.4 59.4,397.0 59.9,397.5 60.4,397.8 60.9,398.1 61.4,398.3 61.9,398.4 62.4,398.4 62.9,398.5 86.4,398.5 86.9,398.5 87.4,398.4 87.9,398.3 88.4,398.1 88.9,397.7 89.4,397.3 89.9,396.8 90.4,396.4 90.9,396.1 91.4,396.1 91.9,396.4 92.4,396.8 92.9,397.3 93.4,397.7 93.9,398.0 94.4,398.3 94.9,398.4 95.4,398.5 95.9,398.5 129.8,398.5" fill="none" stroke="#262626" stroke-width="1.15" stroke-linejoin="round"/><polygon points="51.42,411.86 51.4,411.8 51.9,411.8 52.4,411.5 52.9,410.9 53.4,409.5 53.9,406.8 54.4,403.0 54.9,398.7 55.4,395.3 55.9,394.3 56.4,395.8 56.9,399.1 57.4,402.7 57.9,405.5 58.4,407.2 58.9,408.2 59.4,408.9 59.9,409.3 60.4,409.6 60.9,409.7 61.4,409.7 61.9,409.7 62.4,409.8 62.9,410.0 63.4,410.3 63.9,410.7 64.4,411.1 64.9,411.4 65.4,411.6 65.9,411.8 66.4,411.8 66.9,411.8 129.8,411.9 129.78,411.86" fill="#00adbb"/><polyline points="51.4,411.8 51.9,411.8 52.4,411.5 52.9,410.9 53.4,409.5 53.9,406.8 54.4,403.0 54.9,398.7 55.4,395.3 55.9,394.3 56.4,395.8 56.9,399.1 57.4,402.7 57.9,405.5 58.4,407.2 58.9,408.2 59.4,408.9 59.9,409.3 60.4,409.6 60.9,409.7 61.4,409.7 61.9,409.7 62.4,409.8 62.9,410.0 63.4,410.3 63.9,410.7 64.4,411.1 64.9,411.4 65.4,411.6 65.9,411.8 66.4,411.8 66.9,411.8 129.8,411.9" fill="none" stroke="#262626" stroke-width="1.15" stroke-linejoin="round"/><polygon points="51.42,425.22 51.4,425.1 51.9,424.8 52.4,424.1 52.9,422.7 53.4,420.2 53.9,416.6 54.4,412.5 54.9,408.9 55.4,407.3 55.9,408.1 56.4,411.2 56.9,415.3 57.4,419.2 57.9,422.0 58.4,423.8 58.9,424.7 59.4,425.0 59.9,425.2 60.4,425.2 101.9,425.2 102.4,425.2 102.9,425.1 103.4,425.0 103.9,424.8 104.4,424.5 104.9,424.0 105.4,423.6 105.9,423.1 106.4,422.9 106.9,422.8 107.4,423.1 107.9,423.5 108.4,424.0 108.9,424.4 109.4,424.8 109.9,425.0 110.4,425.1 110.9,425.2 111.4,425.2 119.9,425.2 120.4,425.2 120.9,425.1 121.4,425.0 121.9,424.8 122.4,424.5 122.9,424.0 123.4,423.6 123.9,423.1 124.4,422.9 124.9,422.8 125.4,423.1 125.9,423.5 126.4,424.0 126.9,424.4 127.4,424.8 127.9,425.0 128.4,425.1 128.9,425.2 129.4,425.2 129.8,425.2 129.78,425.22" fill="#00adbb"/><polyline points="51.4,425.1 51.9,424.8 52.4,424.1 52.9,422.7 53.4,420.2 53.9,416.6 54.4,412.5 54.9,408.9 55.4,407.3 55.9,408.1 56.4,411.2 56.9,415.3 57.4,419.2 57.9,422.0 58.4,423.8 58.9,424.7 59.4,425.0 59.9,425.2 60.4,425.2 101.9,425.2 102.4,425.2 102.9,425.1 103.4,425.0 103.9,424.8 104.4,424.5 104.9,424.0 105.4,423.6 105.9,423.1 106.4,422.9 106.9,422.8 107.4,423.1 107.9,423.5 108.4,424.0 108.9,424.4 109.4,424.8 109.9,425.0 110.4,425.1 110.9,425.2 111.4,425.2 119.9,425.2 120.4,425.2 120.9,425.1 121.4,425.0 121.9,424.8 122.4,424.5 122.9,424.0 123.4,423.6 123.9,423.1 124.4,422.9 124.9,422.8 125.4,423.1 125.9,423.5 126.4,424.0 126.9,424.4 127.4,424.8 127.9,425.0 128.4,425.1 128.9,425.2 129.4,425.2 129.8,425.2" fill="none" stroke="#262626" stroke-width="1.15" stroke-linejoin="round"/><polygon points="51.42,438.58 51.4,438.4 51.9,438.2 52.4,437.5 52.9,436.0 53.4,433.4 53.9,429.7 54.4,425.4 54.9,421.7 55.4,420.0 55.9,420.9 56.4,424.1 56.9,428.3 57.4,432.3 57.9,435.3 58.4,437.1 58.9,438.0 59.4,438.4 59.9,438.5 60.4,438.6 129.8,438.6 129.78,438.58" fill="#00adbb"/><polyline points="51.4,438.4 51.9,438.2 52.4,437.5 52.9,436.0 53.4,433.4 53.9,429.7 54.4,425.4 54.9,421.7 55.4,420.0 55.9,420.9 56.4,424.1 56.9,428.3 57.4,432.3 57.9,435.3 58.4,437.1 58.9,438.0 59.4,438.4 59.9,438.5 60.4,438.6 129.8,438.6" fill="none" stroke="#262626" stroke-width="1.15" stroke-linejoin="round"/><polygon points="51.42,451.94 51.4,451.8 51.9,451.5 52.4,450.8 52.9,449.3 53.4,446.8 53.9,443.1 54.4,438.8 54.9,435.1 55.4,433.4 55.9,434.3 56.4,437.5 56.9,441.7 57.4,445.7 57.9,448.7 58.4,450.4 58.9,451.4 59.4,451.7 59.9,451.9 60.4,451.9 129.8,451.9 129.78,451.94" fill="#00adbb"/><polyline points="51.4,451.8 51.9,451.5 52.4,450.8 52.9,449.3 53.4,446.8 53.9,443.1 54.4,438.8 54.9,435.1 55.4,433.4 55.9,434.3 56.4,437.5 56.9,441.7 57.4,445.7 57.9,448.7 58.4,450.4 58.9,451.4 59.4,451.7 59.9,451.9 60.4,451.9 129.8,451.9" fill="none" stroke="#262626" stroke-width="1.15" stroke-linejoin="round"/><polygon points="51.42,465.3 51.4,465.1 51.9,464.8 52.4,464.2 52.9,462.9 53.4,460.5 53.9,456.9 54.4,452.5 54.9,448.4 55.4,445.6 55.9,445.1 56.4,446.7 56.9,449.5 57.4,452.4 57.9,454.6 58.4,455.9 58.9,456.7 59.4,457.2 59.9,457.8 60.4,458.5 60.9,459.3 61.4,460.3 61.9,461.3 62.4,462.2 62.9,463.0 63.4,463.6 63.9,464.1 64.4,464.5 64.9,464.8 65.4,465.0 65.9,465.1 66.4,465.2 66.9,465.2 67.4,465.3 129.8,465.3 129.78,465.3" fill="#00adbb"/><polyline points="51.4,465.1 51.9,464.8 52.4,464.2 52.9,462.9 53.4,460.5 53.9,456.9 54.4,452.5 54.9,448.4 55.4,445.6 55.9,445.1 56.4,446.7 56.9,449.5 57.4,452.4 57.9,454.6 58.4,455.9 58.9,456.7 59.4,457.2 59.9,457.8 60.4,458.5 60.9,459.3 61.4,460.3 61.9,461.3 62.4,462.2 62.9,463.0 63.4,463.6 63.9,464.1 64.4,464.5 64.9,464.8 65.4,465.0 65.9,465.1 66.4,465.2 66.9,465.2 67.4,465.3 129.8,465.3" fill="none" stroke="#262626" stroke-width="1.15" stroke-linejoin="round"/><path d="M47.5,380V473.2H133.7" fill="none" stroke="#3a3a3a" stroke-width="0.9"/><path d="M44.9,398.5H47.5" stroke="#3a3a3a" stroke-width="0.9"/><text x="43.7" y="402.3" class="yl">Smoky</text><path d="M44.9,411.86H47.5" stroke="#3a3a3a" stroke-width="0.9"/><text x="43.7" y="415.66" class="yl">Rose</text><path d="M44.9,425.22H47.5" stroke="#3a3a3a" stroke-width="0.9"/><text x="43.7" y="429.02" class="yl">Milky</text><path d="M44.9,438.58H47.5" stroke="#3a3a3a" stroke-width="0.9"/><text x="43.7" y="442.38" class="yl">Ferriferous</text><path d="M44.9,451.94H47.5" stroke="#3a3a3a" stroke-width="0.9"/><text x="43.7" y="455.74" class="yl" style="letter-spacing:-0.3px">Hyaline</text><path d="M44.9,465.3H47.5" stroke="#3a3a3a" stroke-width="0.9"/><text x="43.7" y="469.1" class="yl">Amethyst</text><path d="M55.5,473.2V475.8" stroke="#3a3a3a" stroke-width="0.9"/><text x="55.5" y="483.3" class="xl">0</text><path d="M82.7,473.2V475.8" stroke="#3a3a3a" stroke-width="0.9"/><text x="82.7" y="483.3" class="xl">250</text><path d="M110,473.2V475.8" stroke="#3a3a3a" stroke-width="0.9"/><text x="110" y="483.3" class="xl">500</text><text x="90" y="493.3" class="tt"><tspan class="el">V</tspan><tspan class="un"> (mg kg</tspan><tspan class="sp" dy="-3.6">−1</tspan><tspan class="un" dy="3.6">)</tspan></text></g>
</svg></div>
</body></html>
